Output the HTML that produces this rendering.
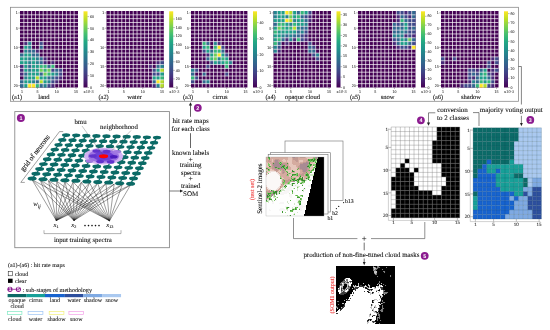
<!DOCTYPE html><html><head><meta charset="utf-8"><style>html,body{margin:0;padding:0;background:#fff;width:550px;height:330px;overflow:hidden}svg{display:block} text{text-rendering:geometricPrecision}</style></head><body>
<svg width="550" height="330" viewBox="0 0 550 330">
<defs><linearGradient id="vir" x1="0" y1="1" x2="0" y2="0"><stop offset="0.0" stop-color="#440154"/><stop offset="0.1" stop-color="#482475"/><stop offset="0.2" stop-color="#414487"/><stop offset="0.3" stop-color="#355f8d"/><stop offset="0.4" stop-color="#2a788e"/><stop offset="0.5" stop-color="#21918c"/><stop offset="0.6" stop-color="#22a884"/><stop offset="0.7" stop-color="#44bf70"/><stop offset="0.8" stop-color="#7ad151"/><stop offset="0.9" stop-color="#bddf26"/><stop offset="1.0" stop-color="#fde725"/></linearGradient></defs>
<rect width="550" height="330" fill="#fff"/>
<rect x="10.5" y="7.3" width="508" height="94" fill="none" stroke="#8a8a8a" stroke-width="0.8"/>
<rect x="20" y="11" width="58" height="76.5" fill="#440154"/>
<rect x="23.87" y="41.6" width="3.92" height="3.88" fill="#482878"/>
<rect x="27.73" y="41.6" width="3.92" height="3.88" fill="#26828e"/>
<rect x="39.33" y="41.6" width="3.92" height="3.88" fill="#3e4989"/>
<rect x="23.87" y="45.43" width="3.92" height="3.88" fill="#1f9e89"/>
<rect x="27.73" y="45.43" width="3.92" height="3.88" fill="#26828e"/>
<rect x="39.33" y="45.43" width="3.92" height="3.88" fill="#31688e"/>
<rect x="23.87" y="49.25" width="3.92" height="3.88" fill="#26828e"/>
<rect x="27.73" y="49.25" width="3.92" height="3.88" fill="#31688e"/>
<rect x="31.6" y="49.25" width="3.92" height="3.88" fill="#31688e"/>
<rect x="35.47" y="49.25" width="3.92" height="3.88" fill="#482878"/>
<rect x="20" y="53.08" width="3.92" height="3.88" fill="#31688e"/>
<rect x="23.87" y="53.08" width="3.92" height="3.88" fill="#1f9e89"/>
<rect x="27.73" y="53.08" width="3.92" height="3.88" fill="#1f9e89"/>
<rect x="31.6" y="53.08" width="3.92" height="3.88" fill="#31688e"/>
<rect x="35.47" y="53.08" width="3.92" height="3.88" fill="#31688e"/>
<rect x="20" y="56.9" width="3.92" height="3.88" fill="#1f9e89"/>
<rect x="23.87" y="56.9" width="3.92" height="3.88" fill="#1f9e89"/>
<rect x="27.73" y="56.9" width="3.92" height="3.88" fill="#26828e"/>
<rect x="31.6" y="56.9" width="3.92" height="3.88" fill="#1f9e89"/>
<rect x="35.47" y="56.9" width="3.92" height="3.88" fill="#26828e"/>
<rect x="39.33" y="56.9" width="3.92" height="3.88" fill="#31688e"/>
<rect x="43.2" y="56.9" width="3.92" height="3.88" fill="#482878"/>
<rect x="20" y="60.73" width="3.92" height="3.88" fill="#1f9e89"/>
<rect x="23.87" y="60.73" width="3.92" height="3.88" fill="#1f9e89"/>
<rect x="27.73" y="60.73" width="3.92" height="3.88" fill="#26828e"/>
<rect x="31.6" y="60.73" width="3.92" height="3.88" fill="#1f9e89"/>
<rect x="35.47" y="60.73" width="3.92" height="3.88" fill="#26828e"/>
<rect x="39.33" y="60.73" width="3.92" height="3.88" fill="#31688e"/>
<rect x="43.2" y="60.73" width="3.92" height="3.88" fill="#482878"/>
<rect x="50.93" y="60.73" width="3.92" height="3.88" fill="#482878"/>
<rect x="20" y="64.55" width="3.92" height="3.88" fill="#482878"/>
<rect x="23.87" y="64.55" width="3.92" height="3.88" fill="#1f9e89"/>
<rect x="27.73" y="64.55" width="3.92" height="3.88" fill="#31688e"/>
<rect x="31.6" y="64.55" width="3.92" height="3.88" fill="#1f9e89"/>
<rect x="35.47" y="64.55" width="3.92" height="3.88" fill="#1f9e89"/>
<rect x="39.33" y="64.55" width="3.92" height="3.88" fill="#35b779"/>
<rect x="43.2" y="64.55" width="3.92" height="3.88" fill="#35b779"/>
<rect x="47.07" y="64.55" width="3.92" height="3.88" fill="#31688e"/>
<rect x="50.93" y="64.55" width="3.92" height="3.88" fill="#35b779"/>
<rect x="20" y="68.38" width="3.92" height="3.88" fill="#482878"/>
<rect x="23.87" y="68.38" width="3.92" height="3.88" fill="#1f9e89"/>
<rect x="27.73" y="68.38" width="3.92" height="3.88" fill="#26828e"/>
<rect x="31.6" y="68.38" width="3.92" height="3.88" fill="#1f9e89"/>
<rect x="35.47" y="68.38" width="3.92" height="3.88" fill="#1f9e89"/>
<rect x="39.33" y="68.38" width="3.92" height="3.88" fill="#6ece58"/>
<rect x="43.2" y="68.38" width="3.92" height="3.88" fill="#35b779"/>
<rect x="47.07" y="68.38" width="3.92" height="3.88" fill="#6ece58"/>
<rect x="50.93" y="68.38" width="3.92" height="3.88" fill="#3e4989"/>
<rect x="54.8" y="68.38" width="3.92" height="3.88" fill="#31688e"/>
<rect x="58.67" y="68.38" width="3.92" height="3.88" fill="#3e4989"/>
<rect x="20" y="72.2" width="3.92" height="3.88" fill="#482878"/>
<rect x="23.87" y="72.2" width="3.92" height="3.88" fill="#31688e"/>
<rect x="27.73" y="72.2" width="3.92" height="3.88" fill="#1f9e89"/>
<rect x="31.6" y="72.2" width="3.92" height="3.88" fill="#1f9e89"/>
<rect x="35.47" y="72.2" width="3.92" height="3.88" fill="#1f9e89"/>
<rect x="39.33" y="72.2" width="3.92" height="3.88" fill="#31688e"/>
<rect x="43.2" y="72.2" width="3.92" height="3.88" fill="#6ece58"/>
<rect x="47.07" y="72.2" width="3.92" height="3.88" fill="#35b779"/>
<rect x="50.93" y="72.2" width="3.92" height="3.88" fill="#1f9e89"/>
<rect x="54.8" y="72.2" width="3.92" height="3.88" fill="#26828e"/>
<rect x="58.67" y="72.2" width="3.92" height="3.88" fill="#3e4989"/>
<rect x="23.87" y="76.03" width="3.92" height="3.88" fill="#26828e"/>
<rect x="27.73" y="76.03" width="3.92" height="3.88" fill="#1f9e89"/>
<rect x="31.6" y="76.03" width="3.92" height="3.88" fill="#1f9e89"/>
<rect x="35.47" y="76.03" width="3.92" height="3.88" fill="#b5de2b"/>
<rect x="39.33" y="76.03" width="3.92" height="3.88" fill="#1f9e89"/>
<rect x="43.2" y="76.03" width="3.92" height="3.88" fill="#1f9e89"/>
<rect x="47.07" y="76.03" width="3.92" height="3.88" fill="#31688e"/>
<rect x="50.93" y="76.03" width="3.92" height="3.88" fill="#31688e"/>
<rect x="54.8" y="76.03" width="3.92" height="3.88" fill="#3e4989"/>
<rect x="58.67" y="76.03" width="3.92" height="3.88" fill="#482878"/>
<rect x="20" y="79.85" width="3.92" height="3.88" fill="#31688e"/>
<rect x="23.87" y="79.85" width="3.92" height="3.88" fill="#1f9e89"/>
<rect x="27.73" y="79.85" width="3.92" height="3.88" fill="#1f9e89"/>
<rect x="31.6" y="79.85" width="3.92" height="3.88" fill="#26828e"/>
<rect x="35.47" y="79.85" width="3.92" height="3.88" fill="#31688e"/>
<rect x="39.33" y="79.85" width="3.92" height="3.88" fill="#b5de2b"/>
<rect x="43.2" y="79.85" width="3.92" height="3.88" fill="#1f9e89"/>
<rect x="47.07" y="79.85" width="3.92" height="3.88" fill="#26828e"/>
<rect x="50.93" y="79.85" width="3.92" height="3.88" fill="#3e4989"/>
<rect x="54.8" y="79.85" width="3.92" height="3.88" fill="#482878"/>
<rect x="20" y="83.67" width="3.92" height="3.88" fill="#31688e"/>
<rect x="23.87" y="83.67" width="3.92" height="3.88" fill="#1f9e89"/>
<rect x="27.73" y="83.67" width="3.92" height="3.88" fill="#fde725"/>
<rect x="31.6" y="83.67" width="3.92" height="3.88" fill="#fde725"/>
<rect x="35.47" y="83.67" width="3.92" height="3.88" fill="#35b779"/>
<rect x="39.33" y="83.67" width="3.92" height="3.88" fill="#31688e"/>
<rect x="43.2" y="83.67" width="3.92" height="3.88" fill="#26828e"/>
<rect x="47.07" y="83.67" width="3.92" height="3.88" fill="#3e4989"/>
<rect x="50.93" y="83.67" width="3.92" height="3.88" fill="#482878"/>
<path d="M23.87 11V87.5M27.73 11V87.5M31.6 11V87.5M35.47 11V87.5M39.33 11V87.5M43.2 11V87.5M47.07 11V87.5M50.93 11V87.5M54.8 11V87.5M58.67 11V87.5M62.53 11V87.5M66.4 11V87.5M70.27 11V87.5M74.13 11V87.5M20 14.82H78M20 18.65H78M20 22.48H78M20 26.3H78M20 30.12H78M20 33.95H78M20 37.78H78M20 41.6H78M20 45.43H78M20 49.25H78M20 53.08H78M20 56.9H78M20 60.73H78M20 64.55H78M20 68.38H78M20 72.2H78M20 76.03H78M20 79.85H78M20 83.67H78" stroke="#fff" stroke-opacity="0.7" stroke-width="1" fill="none"/>
<path d="M18.2 12.91H20" stroke="#444" stroke-width="0.4"/>
<text x="17.7" y="14.31" font-size="4.0" font-family="'Liberation Serif', 'DejaVu Serif', serif" text-anchor="end" fill="#444" stroke="#444" stroke-width="0.09" >1</text>
<path d="M18.2 28.21H20" stroke="#444" stroke-width="0.4"/>
<text x="17.7" y="29.61" font-size="4.0" font-family="'Liberation Serif', 'DejaVu Serif', serif" text-anchor="end" fill="#444" stroke="#444" stroke-width="0.09" >5</text>
<path d="M18.2 47.34H20" stroke="#444" stroke-width="0.4"/>
<text x="17.7" y="48.74" font-size="4.0" font-family="'Liberation Serif', 'DejaVu Serif', serif" text-anchor="end" fill="#444" stroke="#444" stroke-width="0.09" >10</text>
<path d="M18.2 66.46H20" stroke="#444" stroke-width="0.4"/>
<text x="17.7" y="67.86" font-size="4.0" font-family="'Liberation Serif', 'DejaVu Serif', serif" text-anchor="end" fill="#444" stroke="#444" stroke-width="0.09" >15</text>
<path d="M18.2 85.59H20" stroke="#444" stroke-width="0.4"/>
<text x="17.7" y="86.99" font-size="4.0" font-family="'Liberation Serif', 'DejaVu Serif', serif" text-anchor="end" fill="#444" stroke="#444" stroke-width="0.09" >20</text>
<path d="M21.93 87.5V89" stroke="#444" stroke-width="0.4"/>
<text x="21.93" y="92.9" font-size="4.0" font-family="'Liberation Serif', 'DejaVu Serif', serif" text-anchor="middle" fill="#444" stroke="#444" stroke-width="0.09" >1</text>
<path d="M37.4 87.5V89" stroke="#444" stroke-width="0.4"/>
<text x="37.4" y="92.9" font-size="4.0" font-family="'Liberation Serif', 'DejaVu Serif', serif" text-anchor="middle" fill="#444" stroke="#444" stroke-width="0.09" >5</text>
<path d="M56.73 87.5V89" stroke="#444" stroke-width="0.4"/>
<text x="56.73" y="92.9" font-size="4.0" font-family="'Liberation Serif', 'DejaVu Serif', serif" text-anchor="middle" fill="#444" stroke="#444" stroke-width="0.09" >10</text>
<path d="M76.07 87.5V89" stroke="#444" stroke-width="0.4"/>
<text x="76.07" y="92.9" font-size="4.0" font-family="'Liberation Serif', 'DejaVu Serif', serif" text-anchor="middle" fill="#444" stroke="#444" stroke-width="0.09" >15</text>
<rect x="83.5" y="11.3" width="4" height="76.2" fill="url(#vir)"/>
<path d="M87.5 87.5H89.1" stroke="#444" stroke-width="0.4"/>
<text x="90.1" y="88.7" font-size="4.0" font-family="'Liberation Serif', 'DejaVu Serif', serif" text-anchor="start" fill="#444" stroke="#444" stroke-width="0.09" >0</text>
<path d="M87.5 75.69H89.1" stroke="#444" stroke-width="0.4"/>
<text x="90.1" y="76.89" font-size="4.0" font-family="'Liberation Serif', 'DejaVu Serif', serif" text-anchor="start" fill="#444" stroke="#444" stroke-width="0.09" >10</text>
<path d="M87.5 63.87H89.1" stroke="#444" stroke-width="0.4"/>
<text x="90.1" y="65.07" font-size="4.0" font-family="'Liberation Serif', 'DejaVu Serif', serif" text-anchor="start" fill="#444" stroke="#444" stroke-width="0.09" >20</text>
<path d="M87.5 52.06H89.1" stroke="#444" stroke-width="0.4"/>
<text x="90.1" y="53.26" font-size="4.0" font-family="'Liberation Serif', 'DejaVu Serif', serif" text-anchor="start" fill="#444" stroke="#444" stroke-width="0.09" >30</text>
<path d="M87.5 40.24H89.1" stroke="#444" stroke-width="0.4"/>
<text x="90.1" y="41.44" font-size="4.0" font-family="'Liberation Serif', 'DejaVu Serif', serif" text-anchor="start" fill="#444" stroke="#444" stroke-width="0.09" >40</text>
<path d="M87.5 28.43H89.1" stroke="#444" stroke-width="0.4"/>
<text x="90.1" y="29.63" font-size="4.0" font-family="'Liberation Serif', 'DejaVu Serif', serif" text-anchor="start" fill="#444" stroke="#444" stroke-width="0.09" >50</text>
<path d="M87.5 16.62H89.1" stroke="#444" stroke-width="0.4"/>
<text x="90.1" y="17.82" font-size="4.0" font-family="'Liberation Serif', 'DejaVu Serif', serif" text-anchor="start" fill="#444" stroke="#444" stroke-width="0.09" >60</text>
<text x="83.6" y="93.4" font-size="4.3" font-family="'Liberation Serif', 'DejaVu Serif', serif" text-anchor="start" fill="#555" stroke="#555" stroke-width="0.09" >x10<tspan font-size="2.6" dy="-1.3">−</tspan><tspan dy="1.3">3</tspan></text>
<text x="12" y="99.2" font-size="6.3" font-family="'Liberation Serif', 'DejaVu Serif', serif" text-anchor="start" fill="#111" stroke="#111" stroke-width="0.09" >(a1)</text>
<text x="44" y="98.9" font-size="6.6" font-family="'Liberation Serif', 'DejaVu Serif', serif" text-anchor="middle" fill="#111" stroke="#111" stroke-width="0.09" >land</text>
<rect x="106.5" y="11" width="57.3" height="76.5" fill="#440154"/>
<rect x="156.16" y="60.73" width="3.87" height="3.88" fill="#482878"/>
<rect x="159.98" y="60.73" width="3.87" height="3.88" fill="#3e4989"/>
<rect x="148.52" y="64.55" width="3.87" height="3.88" fill="#482878"/>
<rect x="156.16" y="64.55" width="3.87" height="3.88" fill="#31688e"/>
<rect x="159.98" y="64.55" width="3.87" height="3.88" fill="#26828e"/>
<rect x="152.34" y="68.38" width="3.87" height="3.88" fill="#3e4989"/>
<rect x="156.16" y="68.38" width="3.87" height="3.88" fill="#1f9e89"/>
<rect x="159.98" y="68.38" width="3.87" height="3.88" fill="#b5de2b"/>
<rect x="152.34" y="72.2" width="3.87" height="3.88" fill="#3e4989"/>
<rect x="156.16" y="72.2" width="3.87" height="3.88" fill="#3e4989"/>
<rect x="159.98" y="72.2" width="3.87" height="3.88" fill="#1f9e89"/>
<rect x="152.34" y="76.03" width="3.87" height="3.88" fill="#1f9e89"/>
<rect x="156.16" y="76.03" width="3.87" height="3.88" fill="#1f9e89"/>
<rect x="159.98" y="76.03" width="3.87" height="3.88" fill="#35b779"/>
<rect x="152.34" y="79.85" width="3.87" height="3.88" fill="#31688e"/>
<rect x="156.16" y="79.85" width="3.87" height="3.88" fill="#fde725"/>
<rect x="159.98" y="79.85" width="3.87" height="3.88" fill="#b5de2b"/>
<rect x="152.34" y="83.67" width="3.87" height="3.88" fill="#482878"/>
<rect x="156.16" y="83.67" width="3.87" height="3.88" fill="#26828e"/>
<rect x="159.98" y="83.67" width="3.87" height="3.88" fill="#b5de2b"/>
<path d="M110.32 11V87.5M114.14 11V87.5M117.96 11V87.5M121.78 11V87.5M125.6 11V87.5M129.42 11V87.5M133.24 11V87.5M137.06 11V87.5M140.88 11V87.5M144.7 11V87.5M148.52 11V87.5M152.34 11V87.5M156.16 11V87.5M159.98 11V87.5M106.5 14.82H163.8M106.5 18.65H163.8M106.5 22.48H163.8M106.5 26.3H163.8M106.5 30.12H163.8M106.5 33.95H163.8M106.5 37.78H163.8M106.5 41.6H163.8M106.5 45.43H163.8M106.5 49.25H163.8M106.5 53.08H163.8M106.5 56.9H163.8M106.5 60.73H163.8M106.5 64.55H163.8M106.5 68.38H163.8M106.5 72.2H163.8M106.5 76.03H163.8M106.5 79.85H163.8M106.5 83.67H163.8" stroke="#fff" stroke-opacity="0.7" stroke-width="1" fill="none"/>
<path d="M104.7 12.91H106.5" stroke="#444" stroke-width="0.4"/>
<text x="104.2" y="14.31" font-size="4.0" font-family="'Liberation Serif', 'DejaVu Serif', serif" text-anchor="end" fill="#444" stroke="#444" stroke-width="0.09" >1</text>
<path d="M104.7 28.21H106.5" stroke="#444" stroke-width="0.4"/>
<text x="104.2" y="29.61" font-size="4.0" font-family="'Liberation Serif', 'DejaVu Serif', serif" text-anchor="end" fill="#444" stroke="#444" stroke-width="0.09" >5</text>
<path d="M104.7 47.34H106.5" stroke="#444" stroke-width="0.4"/>
<text x="104.2" y="48.74" font-size="4.0" font-family="'Liberation Serif', 'DejaVu Serif', serif" text-anchor="end" fill="#444" stroke="#444" stroke-width="0.09" >10</text>
<path d="M104.7 66.46H106.5" stroke="#444" stroke-width="0.4"/>
<text x="104.2" y="67.86" font-size="4.0" font-family="'Liberation Serif', 'DejaVu Serif', serif" text-anchor="end" fill="#444" stroke="#444" stroke-width="0.09" >15</text>
<path d="M104.7 85.59H106.5" stroke="#444" stroke-width="0.4"/>
<text x="104.2" y="86.99" font-size="4.0" font-family="'Liberation Serif', 'DejaVu Serif', serif" text-anchor="end" fill="#444" stroke="#444" stroke-width="0.09" >20</text>
<path d="M108.41 87.5V89" stroke="#444" stroke-width="0.4"/>
<text x="108.41" y="92.9" font-size="4.0" font-family="'Liberation Serif', 'DejaVu Serif', serif" text-anchor="middle" fill="#444" stroke="#444" stroke-width="0.09" >1</text>
<path d="M123.69 87.5V89" stroke="#444" stroke-width="0.4"/>
<text x="123.69" y="92.9" font-size="4.0" font-family="'Liberation Serif', 'DejaVu Serif', serif" text-anchor="middle" fill="#444" stroke="#444" stroke-width="0.09" >5</text>
<path d="M142.79 87.5V89" stroke="#444" stroke-width="0.4"/>
<text x="142.79" y="92.9" font-size="4.0" font-family="'Liberation Serif', 'DejaVu Serif', serif" text-anchor="middle" fill="#444" stroke="#444" stroke-width="0.09" >10</text>
<path d="M161.89 87.5V89" stroke="#444" stroke-width="0.4"/>
<text x="161.89" y="92.9" font-size="4.0" font-family="'Liberation Serif', 'DejaVu Serif', serif" text-anchor="middle" fill="#444" stroke="#444" stroke-width="0.09" >15</text>
<rect x="169.2" y="11.3" width="4" height="76.2" fill="url(#vir)"/>
<path d="M173.2 87.5H174.8" stroke="#444" stroke-width="0.4"/>
<text x="175.8" y="88.7" font-size="4.0" font-family="'Liberation Serif', 'DejaVu Serif', serif" text-anchor="start" fill="#444" stroke="#444" stroke-width="0.09" >0</text>
<path d="M173.2 78.94H174.8" stroke="#444" stroke-width="0.4"/>
<text x="175.8" y="80.14" font-size="4.0" font-family="'Liberation Serif', 'DejaVu Serif', serif" text-anchor="start" fill="#444" stroke="#444" stroke-width="0.09" >20</text>
<path d="M173.2 70.38H174.8" stroke="#444" stroke-width="0.4"/>
<text x="175.8" y="71.58" font-size="4.0" font-family="'Liberation Serif', 'DejaVu Serif', serif" text-anchor="start" fill="#444" stroke="#444" stroke-width="0.09" >40</text>
<path d="M173.2 61.81H174.8" stroke="#444" stroke-width="0.4"/>
<text x="175.8" y="63.01" font-size="4.0" font-family="'Liberation Serif', 'DejaVu Serif', serif" text-anchor="start" fill="#444" stroke="#444" stroke-width="0.09" >60</text>
<path d="M173.2 53.25H174.8" stroke="#444" stroke-width="0.4"/>
<text x="175.8" y="54.45" font-size="4.0" font-family="'Liberation Serif', 'DejaVu Serif', serif" text-anchor="start" fill="#444" stroke="#444" stroke-width="0.09" >80</text>
<path d="M173.2 44.69H174.8" stroke="#444" stroke-width="0.4"/>
<text x="175.8" y="45.89" font-size="4.0" font-family="'Liberation Serif', 'DejaVu Serif', serif" text-anchor="start" fill="#444" stroke="#444" stroke-width="0.09" >100</text>
<path d="M173.2 36.13H174.8" stroke="#444" stroke-width="0.4"/>
<text x="175.8" y="37.33" font-size="4.0" font-family="'Liberation Serif', 'DejaVu Serif', serif" text-anchor="start" fill="#444" stroke="#444" stroke-width="0.09" >120</text>
<path d="M173.2 27.57H174.8" stroke="#444" stroke-width="0.4"/>
<text x="175.8" y="28.77" font-size="4.0" font-family="'Liberation Serif', 'DejaVu Serif', serif" text-anchor="start" fill="#444" stroke="#444" stroke-width="0.09" >140</text>
<path d="M173.2 19.01H174.8" stroke="#444" stroke-width="0.4"/>
<text x="175.8" y="20.21" font-size="4.0" font-family="'Liberation Serif', 'DejaVu Serif', serif" text-anchor="start" fill="#444" stroke="#444" stroke-width="0.09" >160</text>
<text x="169.3" y="93.4" font-size="4.3" font-family="'Liberation Serif', 'DejaVu Serif', serif" text-anchor="start" fill="#555" stroke="#555" stroke-width="0.09" >x10<tspan font-size="2.6" dy="-1.3">−</tspan><tspan dy="1.3">3</tspan></text>
<text x="98.5" y="99.2" font-size="6.3" font-family="'Liberation Serif', 'DejaVu Serif', serif" text-anchor="start" fill="#111" stroke="#111" stroke-width="0.09" >(a2)</text>
<text x="134.5" y="98.9" font-size="6.6" font-family="'Liberation Serif', 'DejaVu Serif', serif" text-anchor="middle" fill="#111" stroke="#111" stroke-width="0.09" >water</text>
<rect x="191" y="11" width="56.4" height="76.5" fill="#440154"/>
<rect x="202.28" y="41.6" width="3.81" height="3.88" fill="#35b779"/>
<rect x="206.04" y="41.6" width="3.81" height="3.88" fill="#31688e"/>
<rect x="213.56" y="41.6" width="3.81" height="3.88" fill="#26828e"/>
<rect x="217.32" y="41.6" width="3.81" height="3.88" fill="#482878"/>
<rect x="202.28" y="45.43" width="3.81" height="3.88" fill="#1f9e89"/>
<rect x="206.04" y="45.43" width="3.81" height="3.88" fill="#35b779"/>
<rect x="213.56" y="45.43" width="3.81" height="3.88" fill="#35b779"/>
<rect x="217.32" y="45.43" width="3.81" height="3.88" fill="#fde725"/>
<rect x="221.08" y="45.43" width="3.81" height="3.88" fill="#3e4989"/>
<rect x="202.28" y="49.25" width="3.81" height="3.88" fill="#3e4989"/>
<rect x="206.04" y="49.25" width="3.81" height="3.88" fill="#1f9e89"/>
<rect x="209.8" y="49.25" width="3.81" height="3.88" fill="#31688e"/>
<rect x="213.56" y="49.25" width="3.81" height="3.88" fill="#35b779"/>
<rect x="217.32" y="49.25" width="3.81" height="3.88" fill="#35b779"/>
<rect x="221.08" y="49.25" width="3.81" height="3.88" fill="#31688e"/>
<rect x="206.04" y="53.08" width="3.81" height="3.88" fill="#482878"/>
<rect x="209.8" y="53.08" width="3.81" height="3.88" fill="#1f9e89"/>
<rect x="213.56" y="53.08" width="3.81" height="3.88" fill="#6ece58"/>
<rect x="217.32" y="53.08" width="3.81" height="3.88" fill="#fde725"/>
<rect x="221.08" y="53.08" width="3.81" height="3.88" fill="#1f9e89"/>
<rect x="224.84" y="53.08" width="3.81" height="3.88" fill="#3e4989"/>
<rect x="206.04" y="56.9" width="3.81" height="3.88" fill="#31688e"/>
<rect x="209.8" y="56.9" width="3.81" height="3.88" fill="#35b779"/>
<rect x="213.56" y="56.9" width="3.81" height="3.88" fill="#6ece58"/>
<rect x="217.32" y="56.9" width="3.81" height="3.88" fill="#26828e"/>
<rect x="221.08" y="56.9" width="3.81" height="3.88" fill="#35b779"/>
<rect x="224.84" y="56.9" width="3.81" height="3.88" fill="#1f9e89"/>
<rect x="209.8" y="60.73" width="3.81" height="3.88" fill="#3e4989"/>
<rect x="213.56" y="60.73" width="3.81" height="3.88" fill="#1f9e89"/>
<rect x="217.32" y="60.73" width="3.81" height="3.88" fill="#26828e"/>
<rect x="221.08" y="60.73" width="3.81" height="3.88" fill="#1f9e89"/>
<rect x="224.84" y="60.73" width="3.81" height="3.88" fill="#35b779"/>
<rect x="228.6" y="60.73" width="3.81" height="3.88" fill="#26828e"/>
<rect x="206.04" y="64.55" width="3.81" height="3.88" fill="#3e4989"/>
<rect x="224.84" y="64.55" width="3.81" height="3.88" fill="#35b779"/>
<rect x="191" y="68.38" width="3.81" height="3.88" fill="#26828e"/>
<rect x="194.76" y="68.38" width="3.81" height="3.88" fill="#3e4989"/>
<rect x="191" y="72.2" width="3.81" height="3.88" fill="#31688e"/>
<rect x="202.28" y="72.2" width="3.81" height="3.88" fill="#31688e"/>
<rect x="224.84" y="72.2" width="3.81" height="3.88" fill="#3e4989"/>
<rect x="191" y="76.03" width="3.81" height="3.88" fill="#35b779"/>
<rect x="194.76" y="76.03" width="3.81" height="3.88" fill="#3e4989"/>
<rect x="191" y="79.85" width="3.81" height="3.88" fill="#3e4989"/>
<rect x="202.28" y="79.85" width="3.81" height="3.88" fill="#31688e"/>
<rect x="206.04" y="79.85" width="3.81" height="3.88" fill="#26828e"/>
<path d="M194.76 11V87.5M198.52 11V87.5M202.28 11V87.5M206.04 11V87.5M209.8 11V87.5M213.56 11V87.5M217.32 11V87.5M221.08 11V87.5M224.84 11V87.5M228.6 11V87.5M232.36 11V87.5M236.12 11V87.5M239.88 11V87.5M243.64 11V87.5M191 14.82H247.4M191 18.65H247.4M191 22.48H247.4M191 26.3H247.4M191 30.12H247.4M191 33.95H247.4M191 37.78H247.4M191 41.6H247.4M191 45.43H247.4M191 49.25H247.4M191 53.08H247.4M191 56.9H247.4M191 60.73H247.4M191 64.55H247.4M191 68.38H247.4M191 72.2H247.4M191 76.03H247.4M191 79.85H247.4M191 83.67H247.4" stroke="#fff" stroke-opacity="0.7" stroke-width="1" fill="none"/>
<path d="M189.2 12.91H191" stroke="#444" stroke-width="0.4"/>
<text x="188.7" y="14.31" font-size="4.0" font-family="'Liberation Serif', 'DejaVu Serif', serif" text-anchor="end" fill="#444" stroke="#444" stroke-width="0.09" >1</text>
<path d="M189.2 28.21H191" stroke="#444" stroke-width="0.4"/>
<text x="188.7" y="29.61" font-size="4.0" font-family="'Liberation Serif', 'DejaVu Serif', serif" text-anchor="end" fill="#444" stroke="#444" stroke-width="0.09" >5</text>
<path d="M189.2 47.34H191" stroke="#444" stroke-width="0.4"/>
<text x="188.7" y="48.74" font-size="4.0" font-family="'Liberation Serif', 'DejaVu Serif', serif" text-anchor="end" fill="#444" stroke="#444" stroke-width="0.09" >10</text>
<path d="M189.2 66.46H191" stroke="#444" stroke-width="0.4"/>
<text x="188.7" y="67.86" font-size="4.0" font-family="'Liberation Serif', 'DejaVu Serif', serif" text-anchor="end" fill="#444" stroke="#444" stroke-width="0.09" >15</text>
<path d="M189.2 85.59H191" stroke="#444" stroke-width="0.4"/>
<text x="188.7" y="86.99" font-size="4.0" font-family="'Liberation Serif', 'DejaVu Serif', serif" text-anchor="end" fill="#444" stroke="#444" stroke-width="0.09" >20</text>
<path d="M192.88 87.5V89" stroke="#444" stroke-width="0.4"/>
<text x="192.88" y="92.9" font-size="4.0" font-family="'Liberation Serif', 'DejaVu Serif', serif" text-anchor="middle" fill="#444" stroke="#444" stroke-width="0.09" >1</text>
<path d="M207.92 87.5V89" stroke="#444" stroke-width="0.4"/>
<text x="207.92" y="92.9" font-size="4.0" font-family="'Liberation Serif', 'DejaVu Serif', serif" text-anchor="middle" fill="#444" stroke="#444" stroke-width="0.09" >5</text>
<path d="M226.72 87.5V89" stroke="#444" stroke-width="0.4"/>
<text x="226.72" y="92.9" font-size="4.0" font-family="'Liberation Serif', 'DejaVu Serif', serif" text-anchor="middle" fill="#444" stroke="#444" stroke-width="0.09" >10</text>
<path d="M245.52 87.5V89" stroke="#444" stroke-width="0.4"/>
<text x="245.52" y="92.9" font-size="4.0" font-family="'Liberation Serif', 'DejaVu Serif', serif" text-anchor="middle" fill="#444" stroke="#444" stroke-width="0.09" >15</text>
<rect x="253" y="11.3" width="4" height="76.2" fill="url(#vir)"/>
<path d="M257 87.5H258.6" stroke="#444" stroke-width="0.4"/>
<text x="259.6" y="88.7" font-size="4.0" font-family="'Liberation Serif', 'DejaVu Serif', serif" text-anchor="start" fill="#444" stroke="#444" stroke-width="0.09" >0</text>
<path d="M257 71.29H258.6" stroke="#444" stroke-width="0.4"/>
<text x="259.6" y="72.49" font-size="4.0" font-family="'Liberation Serif', 'DejaVu Serif', serif" text-anchor="start" fill="#444" stroke="#444" stroke-width="0.09" >10</text>
<path d="M257 55.07H258.6" stroke="#444" stroke-width="0.4"/>
<text x="259.6" y="56.27" font-size="4.0" font-family="'Liberation Serif', 'DejaVu Serif', serif" text-anchor="start" fill="#444" stroke="#444" stroke-width="0.09" >20</text>
<path d="M257 38.86H258.6" stroke="#444" stroke-width="0.4"/>
<text x="259.6" y="40.06" font-size="4.0" font-family="'Liberation Serif', 'DejaVu Serif', serif" text-anchor="start" fill="#444" stroke="#444" stroke-width="0.09" >30</text>
<path d="M257 22.65H258.6" stroke="#444" stroke-width="0.4"/>
<text x="259.6" y="23.85" font-size="4.0" font-family="'Liberation Serif', 'DejaVu Serif', serif" text-anchor="start" fill="#444" stroke="#444" stroke-width="0.09" >40</text>
<text x="253.1" y="93.4" font-size="4.3" font-family="'Liberation Serif', 'DejaVu Serif', serif" text-anchor="start" fill="#555" stroke="#555" stroke-width="0.09" >x10<tspan font-size="2.6" dy="-1.3">−</tspan><tspan dy="1.3">3</tspan></text>
<text x="183" y="99.2" font-size="6.3" font-family="'Liberation Serif', 'DejaVu Serif', serif" text-anchor="start" fill="#111" stroke="#111" stroke-width="0.09" >(a3)</text>
<text x="220" y="98.9" font-size="6.6" font-family="'Liberation Serif', 'DejaVu Serif', serif" text-anchor="middle" fill="#111" stroke="#111" stroke-width="0.09" >cirrus</text>
<rect x="273.5" y="11" width="57.5" height="76.5" fill="#440154"/>
<rect x="273.5" y="11" width="3.88" height="3.88" fill="#26828e"/>
<rect x="277.33" y="11" width="3.88" height="3.88" fill="#1f9e89"/>
<rect x="281.17" y="11" width="3.88" height="3.88" fill="#1f9e89"/>
<rect x="285" y="11" width="3.88" height="3.88" fill="#fde725"/>
<rect x="288.83" y="11" width="3.88" height="3.88" fill="#b5de2b"/>
<rect x="292.67" y="11" width="3.88" height="3.88" fill="#1f9e89"/>
<rect x="296.5" y="11" width="3.88" height="3.88" fill="#31688e"/>
<rect x="300.33" y="11" width="3.88" height="3.88" fill="#35b779"/>
<rect x="304.17" y="11" width="3.88" height="3.88" fill="#1f9e89"/>
<rect x="308" y="11" width="3.88" height="3.88" fill="#3e4989"/>
<rect x="273.5" y="14.82" width="3.88" height="3.88" fill="#26828e"/>
<rect x="277.33" y="14.82" width="3.88" height="3.88" fill="#1f9e89"/>
<rect x="281.17" y="14.82" width="3.88" height="3.88" fill="#1f9e89"/>
<rect x="285" y="14.82" width="3.88" height="3.88" fill="#26828e"/>
<rect x="288.83" y="14.82" width="3.88" height="3.88" fill="#6ece58"/>
<rect x="292.67" y="14.82" width="3.88" height="3.88" fill="#1f9e89"/>
<rect x="296.5" y="14.82" width="3.88" height="3.88" fill="#35b779"/>
<rect x="300.33" y="14.82" width="3.88" height="3.88" fill="#31688e"/>
<rect x="304.17" y="14.82" width="3.88" height="3.88" fill="#3e4989"/>
<rect x="308" y="14.82" width="3.88" height="3.88" fill="#482878"/>
<rect x="273.5" y="18.65" width="3.88" height="3.88" fill="#1f9e89"/>
<rect x="277.33" y="18.65" width="3.88" height="3.88" fill="#1f9e89"/>
<rect x="281.17" y="18.65" width="3.88" height="3.88" fill="#1f9e89"/>
<rect x="285" y="18.65" width="3.88" height="3.88" fill="#fde725"/>
<rect x="288.83" y="18.65" width="3.88" height="3.88" fill="#b5de2b"/>
<rect x="292.67" y="18.65" width="3.88" height="3.88" fill="#26828e"/>
<rect x="296.5" y="18.65" width="3.88" height="3.88" fill="#1f9e89"/>
<rect x="300.33" y="18.65" width="3.88" height="3.88" fill="#1f9e89"/>
<rect x="304.17" y="18.65" width="3.88" height="3.88" fill="#31688e"/>
<rect x="308" y="18.65" width="3.88" height="3.88" fill="#482878"/>
<rect x="273.5" y="22.48" width="3.88" height="3.88" fill="#31688e"/>
<rect x="277.33" y="22.48" width="3.88" height="3.88" fill="#35b779"/>
<rect x="281.17" y="22.48" width="3.88" height="3.88" fill="#35b779"/>
<rect x="285" y="22.48" width="3.88" height="3.88" fill="#1f9e89"/>
<rect x="288.83" y="22.48" width="3.88" height="3.88" fill="#26828e"/>
<rect x="292.67" y="22.48" width="3.88" height="3.88" fill="#35b779"/>
<rect x="296.5" y="22.48" width="3.88" height="3.88" fill="#1f9e89"/>
<rect x="300.33" y="22.48" width="3.88" height="3.88" fill="#1f9e89"/>
<rect x="304.17" y="22.48" width="3.88" height="3.88" fill="#26828e"/>
<rect x="273.5" y="26.3" width="3.88" height="3.88" fill="#1f9e89"/>
<rect x="277.33" y="26.3" width="3.88" height="3.88" fill="#6ece58"/>
<rect x="281.17" y="26.3" width="3.88" height="3.88" fill="#35b779"/>
<rect x="285" y="26.3" width="3.88" height="3.88" fill="#1f9e89"/>
<rect x="288.83" y="26.3" width="3.88" height="3.88" fill="#35b779"/>
<rect x="292.67" y="26.3" width="3.88" height="3.88" fill="#b5de2b"/>
<rect x="296.5" y="26.3" width="3.88" height="3.88" fill="#26828e"/>
<rect x="300.33" y="26.3" width="3.88" height="3.88" fill="#31688e"/>
<rect x="304.17" y="26.3" width="3.88" height="3.88" fill="#31688e"/>
<rect x="273.5" y="30.12" width="3.88" height="3.88" fill="#35b779"/>
<rect x="277.33" y="30.12" width="3.88" height="3.88" fill="#1f9e89"/>
<rect x="281.17" y="30.12" width="3.88" height="3.88" fill="#1f9e89"/>
<rect x="285" y="30.12" width="3.88" height="3.88" fill="#1f9e89"/>
<rect x="288.83" y="30.12" width="3.88" height="3.88" fill="#1f9e89"/>
<rect x="292.67" y="30.12" width="3.88" height="3.88" fill="#1f9e89"/>
<rect x="296.5" y="30.12" width="3.88" height="3.88" fill="#31688e"/>
<rect x="300.33" y="30.12" width="3.88" height="3.88" fill="#26828e"/>
<rect x="304.17" y="30.12" width="3.88" height="3.88" fill="#3e4989"/>
<rect x="273.5" y="33.95" width="3.88" height="3.88" fill="#1f9e89"/>
<rect x="277.33" y="33.95" width="3.88" height="3.88" fill="#1f9e89"/>
<rect x="281.17" y="33.95" width="3.88" height="3.88" fill="#26828e"/>
<rect x="285" y="33.95" width="3.88" height="3.88" fill="#31688e"/>
<rect x="288.83" y="33.95" width="3.88" height="3.88" fill="#26828e"/>
<rect x="292.67" y="33.95" width="3.88" height="3.88" fill="#31688e"/>
<rect x="296.5" y="33.95" width="3.88" height="3.88" fill="#31688e"/>
<rect x="300.33" y="33.95" width="3.88" height="3.88" fill="#3e4989"/>
<rect x="304.17" y="33.95" width="3.88" height="3.88" fill="#482878"/>
<rect x="273.5" y="37.78" width="3.88" height="3.88" fill="#1f9e89"/>
<rect x="277.33" y="37.78" width="3.88" height="3.88" fill="#35b779"/>
<rect x="281.17" y="37.78" width="3.88" height="3.88" fill="#31688e"/>
<rect x="285" y="37.78" width="3.88" height="3.88" fill="#482878"/>
<rect x="288.83" y="37.78" width="3.88" height="3.88" fill="#26828e"/>
<rect x="292.67" y="37.78" width="3.88" height="3.88" fill="#482878"/>
<rect x="296.5" y="37.78" width="3.88" height="3.88" fill="#35b779"/>
<rect x="300.33" y="37.78" width="3.88" height="3.88" fill="#3e4989"/>
<rect x="304.17" y="37.78" width="3.88" height="3.88" fill="#482878"/>
<rect x="273.5" y="41.6" width="3.88" height="3.88" fill="#35b779"/>
<rect x="277.33" y="41.6" width="3.88" height="3.88" fill="#31688e"/>
<rect x="285" y="41.6" width="3.88" height="3.88" fill="#482878"/>
<rect x="308" y="41.6" width="3.88" height="3.88" fill="#3e4989"/>
<rect x="273.5" y="45.43" width="3.88" height="3.88" fill="#26828e"/>
<rect x="277.33" y="45.43" width="3.88" height="3.88" fill="#3e4989"/>
<rect x="308" y="45.43" width="3.88" height="3.88" fill="#31688e"/>
<rect x="311.83" y="45.43" width="3.88" height="3.88" fill="#3e4989"/>
<rect x="273.5" y="49.25" width="3.88" height="3.88" fill="#26828e"/>
<rect x="277.33" y="49.25" width="3.88" height="3.88" fill="#482878"/>
<rect x="308" y="49.25" width="3.88" height="3.88" fill="#31688e"/>
<rect x="311.83" y="49.25" width="3.88" height="3.88" fill="#31688e"/>
<rect x="311.83" y="53.08" width="3.88" height="3.88" fill="#3e4989"/>
<rect x="315.67" y="53.08" width="3.88" height="3.88" fill="#26828e"/>
<rect x="315.67" y="56.9" width="3.88" height="3.88" fill="#3e4989"/>
<path d="M277.33 11V87.5M281.17 11V87.5M285 11V87.5M288.83 11V87.5M292.67 11V87.5M296.5 11V87.5M300.33 11V87.5M304.17 11V87.5M308 11V87.5M311.83 11V87.5M315.67 11V87.5M319.5 11V87.5M323.33 11V87.5M327.17 11V87.5M273.5 14.82H331M273.5 18.65H331M273.5 22.48H331M273.5 26.3H331M273.5 30.12H331M273.5 33.95H331M273.5 37.78H331M273.5 41.6H331M273.5 45.43H331M273.5 49.25H331M273.5 53.08H331M273.5 56.9H331M273.5 60.73H331M273.5 64.55H331M273.5 68.38H331M273.5 72.2H331M273.5 76.03H331M273.5 79.85H331M273.5 83.67H331" stroke="#fff" stroke-opacity="0.7" stroke-width="1" fill="none"/>
<path d="M271.7 12.91H273.5" stroke="#444" stroke-width="0.4"/>
<text x="271.2" y="14.31" font-size="4.0" font-family="'Liberation Serif', 'DejaVu Serif', serif" text-anchor="end" fill="#444" stroke="#444" stroke-width="0.09" >1</text>
<path d="M271.7 28.21H273.5" stroke="#444" stroke-width="0.4"/>
<text x="271.2" y="29.61" font-size="4.0" font-family="'Liberation Serif', 'DejaVu Serif', serif" text-anchor="end" fill="#444" stroke="#444" stroke-width="0.09" >5</text>
<path d="M271.7 47.34H273.5" stroke="#444" stroke-width="0.4"/>
<text x="271.2" y="48.74" font-size="4.0" font-family="'Liberation Serif', 'DejaVu Serif', serif" text-anchor="end" fill="#444" stroke="#444" stroke-width="0.09" >10</text>
<path d="M271.7 66.46H273.5" stroke="#444" stroke-width="0.4"/>
<text x="271.2" y="67.86" font-size="4.0" font-family="'Liberation Serif', 'DejaVu Serif', serif" text-anchor="end" fill="#444" stroke="#444" stroke-width="0.09" >15</text>
<path d="M271.7 85.59H273.5" stroke="#444" stroke-width="0.4"/>
<text x="271.2" y="86.99" font-size="4.0" font-family="'Liberation Serif', 'DejaVu Serif', serif" text-anchor="end" fill="#444" stroke="#444" stroke-width="0.09" >20</text>
<path d="M275.42 87.5V89" stroke="#444" stroke-width="0.4"/>
<text x="275.42" y="92.9" font-size="4.0" font-family="'Liberation Serif', 'DejaVu Serif', serif" text-anchor="middle" fill="#444" stroke="#444" stroke-width="0.09" >1</text>
<path d="M290.75 87.5V89" stroke="#444" stroke-width="0.4"/>
<text x="290.75" y="92.9" font-size="4.0" font-family="'Liberation Serif', 'DejaVu Serif', serif" text-anchor="middle" fill="#444" stroke="#444" stroke-width="0.09" >5</text>
<path d="M309.92 87.5V89" stroke="#444" stroke-width="0.4"/>
<text x="309.92" y="92.9" font-size="4.0" font-family="'Liberation Serif', 'DejaVu Serif', serif" text-anchor="middle" fill="#444" stroke="#444" stroke-width="0.09" >10</text>
<path d="M329.08 87.5V89" stroke="#444" stroke-width="0.4"/>
<text x="329.08" y="92.9" font-size="4.0" font-family="'Liberation Serif', 'DejaVu Serif', serif" text-anchor="middle" fill="#444" stroke="#444" stroke-width="0.09" >15</text>
<rect x="336.5" y="11.3" width="4" height="76.2" fill="url(#vir)"/>
<path d="M340.5 87.5H342.1" stroke="#444" stroke-width="0.4"/>
<text x="343.1" y="88.7" font-size="4.0" font-family="'Liberation Serif', 'DejaVu Serif', serif" text-anchor="start" fill="#444" stroke="#444" stroke-width="0.09" >0</text>
<path d="M340.5 77.09H342.1" stroke="#444" stroke-width="0.4"/>
<text x="343.1" y="78.29" font-size="4.0" font-family="'Liberation Serif', 'DejaVu Serif', serif" text-anchor="start" fill="#444" stroke="#444" stroke-width="0.09" >5</text>
<path d="M340.5 66.68H342.1" stroke="#444" stroke-width="0.4"/>
<text x="343.1" y="67.88" font-size="4.0" font-family="'Liberation Serif', 'DejaVu Serif', serif" text-anchor="start" fill="#444" stroke="#444" stroke-width="0.09" >10</text>
<path d="M340.5 56.27H342.1" stroke="#444" stroke-width="0.4"/>
<text x="343.1" y="57.47" font-size="4.0" font-family="'Liberation Serif', 'DejaVu Serif', serif" text-anchor="start" fill="#444" stroke="#444" stroke-width="0.09" >15</text>
<path d="M340.5 45.86H342.1" stroke="#444" stroke-width="0.4"/>
<text x="343.1" y="47.06" font-size="4.0" font-family="'Liberation Serif', 'DejaVu Serif', serif" text-anchor="start" fill="#444" stroke="#444" stroke-width="0.09" >20</text>
<path d="M340.5 35.45H342.1" stroke="#444" stroke-width="0.4"/>
<text x="343.1" y="36.65" font-size="4.0" font-family="'Liberation Serif', 'DejaVu Serif', serif" text-anchor="start" fill="#444" stroke="#444" stroke-width="0.09" >25</text>
<path d="M340.5 25.04H342.1" stroke="#444" stroke-width="0.4"/>
<text x="343.1" y="26.24" font-size="4.0" font-family="'Liberation Serif', 'DejaVu Serif', serif" text-anchor="start" fill="#444" stroke="#444" stroke-width="0.09" >30</text>
<path d="M340.5 14.63H342.1" stroke="#444" stroke-width="0.4"/>
<text x="343.1" y="15.83" font-size="4.0" font-family="'Liberation Serif', 'DejaVu Serif', serif" text-anchor="start" fill="#444" stroke="#444" stroke-width="0.09" >35</text>
<text x="336.6" y="93.4" font-size="4.3" font-family="'Liberation Serif', 'DejaVu Serif', serif" text-anchor="start" fill="#555" stroke="#555" stroke-width="0.09" >x10<tspan font-size="2.6" dy="-1.3">−</tspan><tspan dy="1.3">3</tspan></text>
<text x="265.5" y="99.2" font-size="6.3" font-family="'Liberation Serif', 'DejaVu Serif', serif" text-anchor="start" fill="#111" stroke="#111" stroke-width="0.09" >(a4)</text>
<text x="302.5" y="98.9" font-size="6.6" font-family="'Liberation Serif', 'DejaVu Serif', serif" text-anchor="middle" fill="#111" stroke="#111" stroke-width="0.09" >opaque cloud</text>
<rect x="358" y="11" width="57.5" height="76.5" fill="#440154"/>
<rect x="396.33" y="11" width="3.88" height="3.88" fill="#3e4989"/>
<rect x="400.17" y="11" width="3.88" height="3.88" fill="#3e4989"/>
<rect x="404" y="11" width="3.88" height="3.88" fill="#482878"/>
<rect x="407.83" y="11" width="3.88" height="3.88" fill="#3e4989"/>
<rect x="411.67" y="11" width="3.88" height="3.88" fill="#31688e"/>
<rect x="396.33" y="14.82" width="3.88" height="3.88" fill="#482878"/>
<rect x="400.17" y="14.82" width="3.88" height="3.88" fill="#31688e"/>
<rect x="404" y="14.82" width="3.88" height="3.88" fill="#3e4989"/>
<rect x="407.83" y="14.82" width="3.88" height="3.88" fill="#482878"/>
<rect x="411.67" y="14.82" width="3.88" height="3.88" fill="#31688e"/>
<rect x="396.33" y="18.65" width="3.88" height="3.88" fill="#482878"/>
<rect x="400.17" y="18.65" width="3.88" height="3.88" fill="#35b779"/>
<rect x="404" y="18.65" width="3.88" height="3.88" fill="#31688e"/>
<rect x="407.83" y="18.65" width="3.88" height="3.88" fill="#3e4989"/>
<rect x="411.67" y="18.65" width="3.88" height="3.88" fill="#3e4989"/>
<rect x="392.5" y="22.48" width="3.88" height="3.88" fill="#31688e"/>
<rect x="396.33" y="22.48" width="3.88" height="3.88" fill="#3e4989"/>
<rect x="400.17" y="22.48" width="3.88" height="3.88" fill="#31688e"/>
<rect x="404" y="22.48" width="3.88" height="3.88" fill="#1f9e89"/>
<rect x="407.83" y="22.48" width="3.88" height="3.88" fill="#3e4989"/>
<rect x="411.67" y="22.48" width="3.88" height="3.88" fill="#3e4989"/>
<rect x="392.5" y="26.3" width="3.88" height="3.88" fill="#31688e"/>
<rect x="396.33" y="26.3" width="3.88" height="3.88" fill="#31688e"/>
<rect x="400.17" y="26.3" width="3.88" height="3.88" fill="#31688e"/>
<rect x="404" y="26.3" width="3.88" height="3.88" fill="#1f9e89"/>
<rect x="407.83" y="26.3" width="3.88" height="3.88" fill="#3e4989"/>
<rect x="411.67" y="26.3" width="3.88" height="3.88" fill="#31688e"/>
<rect x="392.5" y="30.12" width="3.88" height="3.88" fill="#31688e"/>
<rect x="396.33" y="30.12" width="3.88" height="3.88" fill="#31688e"/>
<rect x="400.17" y="30.12" width="3.88" height="3.88" fill="#26828e"/>
<rect x="404" y="30.12" width="3.88" height="3.88" fill="#31688e"/>
<rect x="407.83" y="30.12" width="3.88" height="3.88" fill="#3e4989"/>
<rect x="411.67" y="30.12" width="3.88" height="3.88" fill="#3e4989"/>
<rect x="392.5" y="33.95" width="3.88" height="3.88" fill="#26828e"/>
<rect x="396.33" y="33.95" width="3.88" height="3.88" fill="#26828e"/>
<rect x="400.17" y="33.95" width="3.88" height="3.88" fill="#26828e"/>
<rect x="404" y="33.95" width="3.88" height="3.88" fill="#482878"/>
<rect x="407.83" y="33.95" width="3.88" height="3.88" fill="#3e4989"/>
<rect x="411.67" y="33.95" width="3.88" height="3.88" fill="#482878"/>
<rect x="392.5" y="37.78" width="3.88" height="3.88" fill="#3e4989"/>
<rect x="396.33" y="37.78" width="3.88" height="3.88" fill="#31688e"/>
<rect x="400.17" y="37.78" width="3.88" height="3.88" fill="#1f9e89"/>
<rect x="404" y="37.78" width="3.88" height="3.88" fill="#26828e"/>
<rect x="407.83" y="37.78" width="3.88" height="3.88" fill="#6ece58"/>
<rect x="411.67" y="37.78" width="3.88" height="3.88" fill="#31688e"/>
<rect x="392.5" y="41.6" width="3.88" height="3.88" fill="#482878"/>
<rect x="396.33" y="41.6" width="3.88" height="3.88" fill="#31688e"/>
<rect x="400.17" y="41.6" width="3.88" height="3.88" fill="#1f9e89"/>
<rect x="404" y="41.6" width="3.88" height="3.88" fill="#1f9e89"/>
<rect x="407.83" y="41.6" width="3.88" height="3.88" fill="#31688e"/>
<rect x="411.67" y="41.6" width="3.88" height="3.88" fill="#3e4989"/>
<rect x="396.33" y="45.43" width="3.88" height="3.88" fill="#482878"/>
<rect x="400.17" y="45.43" width="3.88" height="3.88" fill="#3e4989"/>
<rect x="404" y="45.43" width="3.88" height="3.88" fill="#3e4989"/>
<rect x="407.83" y="45.43" width="3.88" height="3.88" fill="#482878"/>
<rect x="411.67" y="45.43" width="3.88" height="3.88" fill="#fde725"/>
<path d="M361.83 11V87.5M365.67 11V87.5M369.5 11V87.5M373.33 11V87.5M377.17 11V87.5M381 11V87.5M384.83 11V87.5M388.67 11V87.5M392.5 11V87.5M396.33 11V87.5M400.17 11V87.5M404 11V87.5M407.83 11V87.5M411.67 11V87.5M358 14.82H415.5M358 18.65H415.5M358 22.48H415.5M358 26.3H415.5M358 30.12H415.5M358 33.95H415.5M358 37.78H415.5M358 41.6H415.5M358 45.43H415.5M358 49.25H415.5M358 53.08H415.5M358 56.9H415.5M358 60.73H415.5M358 64.55H415.5M358 68.38H415.5M358 72.2H415.5M358 76.03H415.5M358 79.85H415.5M358 83.67H415.5" stroke="#fff" stroke-opacity="0.7" stroke-width="1" fill="none"/>
<path d="M356.2 12.91H358" stroke="#444" stroke-width="0.4"/>
<text x="355.7" y="14.31" font-size="4.0" font-family="'Liberation Serif', 'DejaVu Serif', serif" text-anchor="end" fill="#444" stroke="#444" stroke-width="0.09" >1</text>
<path d="M356.2 28.21H358" stroke="#444" stroke-width="0.4"/>
<text x="355.7" y="29.61" font-size="4.0" font-family="'Liberation Serif', 'DejaVu Serif', serif" text-anchor="end" fill="#444" stroke="#444" stroke-width="0.09" >5</text>
<path d="M356.2 47.34H358" stroke="#444" stroke-width="0.4"/>
<text x="355.7" y="48.74" font-size="4.0" font-family="'Liberation Serif', 'DejaVu Serif', serif" text-anchor="end" fill="#444" stroke="#444" stroke-width="0.09" >10</text>
<path d="M356.2 66.46H358" stroke="#444" stroke-width="0.4"/>
<text x="355.7" y="67.86" font-size="4.0" font-family="'Liberation Serif', 'DejaVu Serif', serif" text-anchor="end" fill="#444" stroke="#444" stroke-width="0.09" >15</text>
<path d="M356.2 85.59H358" stroke="#444" stroke-width="0.4"/>
<text x="355.7" y="86.99" font-size="4.0" font-family="'Liberation Serif', 'DejaVu Serif', serif" text-anchor="end" fill="#444" stroke="#444" stroke-width="0.09" >20</text>
<path d="M359.92 87.5V89" stroke="#444" stroke-width="0.4"/>
<text x="359.92" y="92.9" font-size="4.0" font-family="'Liberation Serif', 'DejaVu Serif', serif" text-anchor="middle" fill="#444" stroke="#444" stroke-width="0.09" >1</text>
<path d="M375.25 87.5V89" stroke="#444" stroke-width="0.4"/>
<text x="375.25" y="92.9" font-size="4.0" font-family="'Liberation Serif', 'DejaVu Serif', serif" text-anchor="middle" fill="#444" stroke="#444" stroke-width="0.09" >5</text>
<path d="M394.42 87.5V89" stroke="#444" stroke-width="0.4"/>
<text x="394.42" y="92.9" font-size="4.0" font-family="'Liberation Serif', 'DejaVu Serif', serif" text-anchor="middle" fill="#444" stroke="#444" stroke-width="0.09" >10</text>
<path d="M413.58 87.5V89" stroke="#444" stroke-width="0.4"/>
<text x="413.58" y="92.9" font-size="4.0" font-family="'Liberation Serif', 'DejaVu Serif', serif" text-anchor="middle" fill="#444" stroke="#444" stroke-width="0.09" >15</text>
<rect x="421" y="11.3" width="4" height="76.2" fill="url(#vir)"/>
<path d="M425 87.5H426.6" stroke="#444" stroke-width="0.4"/>
<text x="427.6" y="88.7" font-size="4.0" font-family="'Liberation Serif', 'DejaVu Serif', serif" text-anchor="start" fill="#444" stroke="#444" stroke-width="0.09" >0</text>
<path d="M425 78.6H426.6" stroke="#444" stroke-width="0.4"/>
<text x="427.6" y="79.8" font-size="4.0" font-family="'Liberation Serif', 'DejaVu Serif', serif" text-anchor="start" fill="#444" stroke="#444" stroke-width="0.09" >10</text>
<path d="M425 69.7H426.6" stroke="#444" stroke-width="0.4"/>
<text x="427.6" y="70.9" font-size="4.0" font-family="'Liberation Serif', 'DejaVu Serif', serif" text-anchor="start" fill="#444" stroke="#444" stroke-width="0.09" >20</text>
<path d="M425 60.79H426.6" stroke="#444" stroke-width="0.4"/>
<text x="427.6" y="61.99" font-size="4.0" font-family="'Liberation Serif', 'DejaVu Serif', serif" text-anchor="start" fill="#444" stroke="#444" stroke-width="0.09" >30</text>
<path d="M425 51.89H426.6" stroke="#444" stroke-width="0.4"/>
<text x="427.6" y="53.09" font-size="4.0" font-family="'Liberation Serif', 'DejaVu Serif', serif" text-anchor="start" fill="#444" stroke="#444" stroke-width="0.09" >40</text>
<path d="M425 42.99H426.6" stroke="#444" stroke-width="0.4"/>
<text x="427.6" y="44.19" font-size="4.0" font-family="'Liberation Serif', 'DejaVu Serif', serif" text-anchor="start" fill="#444" stroke="#444" stroke-width="0.09" >50</text>
<path d="M425 34.09H426.6" stroke="#444" stroke-width="0.4"/>
<text x="427.6" y="35.29" font-size="4.0" font-family="'Liberation Serif', 'DejaVu Serif', serif" text-anchor="start" fill="#444" stroke="#444" stroke-width="0.09" >60</text>
<path d="M425 25.19H426.6" stroke="#444" stroke-width="0.4"/>
<text x="427.6" y="26.39" font-size="4.0" font-family="'Liberation Serif', 'DejaVu Serif', serif" text-anchor="start" fill="#444" stroke="#444" stroke-width="0.09" >70</text>
<path d="M425 16.29H426.6" stroke="#444" stroke-width="0.4"/>
<text x="427.6" y="17.49" font-size="4.0" font-family="'Liberation Serif', 'DejaVu Serif', serif" text-anchor="start" fill="#444" stroke="#444" stroke-width="0.09" >80</text>
<text x="421.1" y="93.4" font-size="4.3" font-family="'Liberation Serif', 'DejaVu Serif', serif" text-anchor="start" fill="#555" stroke="#555" stroke-width="0.09" >x10<tspan font-size="2.6" dy="-1.3">−</tspan><tspan dy="1.3">3</tspan></text>
<text x="350" y="99.2" font-size="6.3" font-family="'Liberation Serif', 'DejaVu Serif', serif" text-anchor="start" fill="#111" stroke="#111" stroke-width="0.09" >(a5)</text>
<text x="387.6" y="98.9" font-size="6.6" font-family="'Liberation Serif', 'DejaVu Serif', serif" text-anchor="middle" fill="#111" stroke="#111" stroke-width="0.09" >snow</text>
<rect x="441" y="11" width="57.5" height="76.5" fill="#440154"/>
<rect x="441" y="56.9" width="3.88" height="3.88" fill="#3e4989"/>
<rect x="452.5" y="56.9" width="3.88" height="3.88" fill="#3e4989"/>
<rect x="490.83" y="56.9" width="3.88" height="3.88" fill="#482878"/>
<rect x="494.67" y="56.9" width="3.88" height="3.88" fill="#3e4989"/>
<rect x="441" y="60.73" width="3.88" height="3.88" fill="#482878"/>
<rect x="487" y="60.73" width="3.88" height="3.88" fill="#3e4989"/>
<rect x="494.67" y="60.73" width="3.88" height="3.88" fill="#3e4989"/>
<rect x="487" y="64.55" width="3.88" height="3.88" fill="#3e4989"/>
<rect x="467.83" y="68.38" width="3.88" height="3.88" fill="#3e4989"/>
<rect x="471.67" y="68.38" width="3.88" height="3.88" fill="#3e4989"/>
<rect x="475.5" y="68.38" width="3.88" height="3.88" fill="#482878"/>
<rect x="479.33" y="68.38" width="3.88" height="3.88" fill="#31688e"/>
<rect x="483.17" y="68.38" width="3.88" height="3.88" fill="#1f9e89"/>
<rect x="490.83" y="68.38" width="3.88" height="3.88" fill="#482878"/>
<rect x="494.67" y="68.38" width="3.88" height="3.88" fill="#3e4989"/>
<rect x="467.83" y="72.2" width="3.88" height="3.88" fill="#3e4989"/>
<rect x="471.67" y="72.2" width="3.88" height="3.88" fill="#31688e"/>
<rect x="475.5" y="72.2" width="3.88" height="3.88" fill="#3e4989"/>
<rect x="479.33" y="72.2" width="3.88" height="3.88" fill="#1f9e89"/>
<rect x="483.17" y="72.2" width="3.88" height="3.88" fill="#35b779"/>
<rect x="487" y="72.2" width="3.88" height="3.88" fill="#3e4989"/>
<rect x="490.83" y="72.2" width="3.88" height="3.88" fill="#482878"/>
<rect x="467.83" y="76.03" width="3.88" height="3.88" fill="#3e4989"/>
<rect x="471.67" y="76.03" width="3.88" height="3.88" fill="#482878"/>
<rect x="475.5" y="76.03" width="3.88" height="3.88" fill="#31688e"/>
<rect x="479.33" y="76.03" width="3.88" height="3.88" fill="#1f9e89"/>
<rect x="483.17" y="76.03" width="3.88" height="3.88" fill="#1f9e89"/>
<rect x="487" y="76.03" width="3.88" height="3.88" fill="#31688e"/>
<rect x="490.83" y="76.03" width="3.88" height="3.88" fill="#482878"/>
<rect x="467.83" y="79.85" width="3.88" height="3.88" fill="#482878"/>
<rect x="471.67" y="79.85" width="3.88" height="3.88" fill="#26828e"/>
<rect x="475.5" y="79.85" width="3.88" height="3.88" fill="#31688e"/>
<rect x="479.33" y="79.85" width="3.88" height="3.88" fill="#35b779"/>
<rect x="483.17" y="79.85" width="3.88" height="3.88" fill="#1f9e89"/>
<rect x="487" y="79.85" width="3.88" height="3.88" fill="#35b779"/>
<rect x="490.83" y="79.85" width="3.88" height="3.88" fill="#3e4989"/>
<rect x="460.17" y="83.67" width="3.88" height="3.88" fill="#482878"/>
<rect x="464" y="83.67" width="3.88" height="3.88" fill="#3e4989"/>
<rect x="467.83" y="83.67" width="3.88" height="3.88" fill="#3e4989"/>
<rect x="471.67" y="83.67" width="3.88" height="3.88" fill="#31688e"/>
<rect x="475.5" y="83.67" width="3.88" height="3.88" fill="#35b779"/>
<rect x="479.33" y="83.67" width="3.88" height="3.88" fill="#fde725"/>
<rect x="483.17" y="83.67" width="3.88" height="3.88" fill="#b5de2b"/>
<rect x="487" y="83.67" width="3.88" height="3.88" fill="#3e4989"/>
<rect x="490.83" y="83.67" width="3.88" height="3.88" fill="#482878"/>
<path d="M444.83 11V87.5M448.67 11V87.5M452.5 11V87.5M456.33 11V87.5M460.17 11V87.5M464 11V87.5M467.83 11V87.5M471.67 11V87.5M475.5 11V87.5M479.33 11V87.5M483.17 11V87.5M487 11V87.5M490.83 11V87.5M494.67 11V87.5M441 14.82H498.5M441 18.65H498.5M441 22.48H498.5M441 26.3H498.5M441 30.12H498.5M441 33.95H498.5M441 37.78H498.5M441 41.6H498.5M441 45.43H498.5M441 49.25H498.5M441 53.08H498.5M441 56.9H498.5M441 60.73H498.5M441 64.55H498.5M441 68.38H498.5M441 72.2H498.5M441 76.03H498.5M441 79.85H498.5M441 83.67H498.5" stroke="#fff" stroke-opacity="0.7" stroke-width="1" fill="none"/>
<path d="M439.2 12.91H441" stroke="#444" stroke-width="0.4"/>
<text x="438.7" y="14.31" font-size="4.0" font-family="'Liberation Serif', 'DejaVu Serif', serif" text-anchor="end" fill="#444" stroke="#444" stroke-width="0.09" >1</text>
<path d="M439.2 28.21H441" stroke="#444" stroke-width="0.4"/>
<text x="438.7" y="29.61" font-size="4.0" font-family="'Liberation Serif', 'DejaVu Serif', serif" text-anchor="end" fill="#444" stroke="#444" stroke-width="0.09" >5</text>
<path d="M439.2 47.34H441" stroke="#444" stroke-width="0.4"/>
<text x="438.7" y="48.74" font-size="4.0" font-family="'Liberation Serif', 'DejaVu Serif', serif" text-anchor="end" fill="#444" stroke="#444" stroke-width="0.09" >10</text>
<path d="M439.2 66.46H441" stroke="#444" stroke-width="0.4"/>
<text x="438.7" y="67.86" font-size="4.0" font-family="'Liberation Serif', 'DejaVu Serif', serif" text-anchor="end" fill="#444" stroke="#444" stroke-width="0.09" >15</text>
<path d="M439.2 85.59H441" stroke="#444" stroke-width="0.4"/>
<text x="438.7" y="86.99" font-size="4.0" font-family="'Liberation Serif', 'DejaVu Serif', serif" text-anchor="end" fill="#444" stroke="#444" stroke-width="0.09" >20</text>
<path d="M442.92 87.5V89" stroke="#444" stroke-width="0.4"/>
<text x="442.92" y="92.9" font-size="4.0" font-family="'Liberation Serif', 'DejaVu Serif', serif" text-anchor="middle" fill="#444" stroke="#444" stroke-width="0.09" >1</text>
<path d="M458.25 87.5V89" stroke="#444" stroke-width="0.4"/>
<text x="458.25" y="92.9" font-size="4.0" font-family="'Liberation Serif', 'DejaVu Serif', serif" text-anchor="middle" fill="#444" stroke="#444" stroke-width="0.09" >5</text>
<path d="M477.42 87.5V89" stroke="#444" stroke-width="0.4"/>
<text x="477.42" y="92.9" font-size="4.0" font-family="'Liberation Serif', 'DejaVu Serif', serif" text-anchor="middle" fill="#444" stroke="#444" stroke-width="0.09" >10</text>
<path d="M496.58 87.5V89" stroke="#444" stroke-width="0.4"/>
<text x="496.58" y="92.9" font-size="4.0" font-family="'Liberation Serif', 'DejaVu Serif', serif" text-anchor="middle" fill="#444" stroke="#444" stroke-width="0.09" >15</text>
<rect x="504" y="11.3" width="4" height="76.2" fill="url(#vir)"/>
<path d="M508 87.5H509.6" stroke="#444" stroke-width="0.4"/>
<text x="510.6" y="88.7" font-size="4.0" font-family="'Liberation Serif', 'DejaVu Serif', serif" text-anchor="start" fill="#444" stroke="#444" stroke-width="0.09" >0</text>
<path d="M508 78.26H509.6" stroke="#444" stroke-width="0.4"/>
<text x="510.6" y="79.46" font-size="4.0" font-family="'Liberation Serif', 'DejaVu Serif', serif" text-anchor="start" fill="#444" stroke="#444" stroke-width="0.09" >10</text>
<path d="M508 69.03H509.6" stroke="#444" stroke-width="0.4"/>
<text x="510.6" y="70.23" font-size="4.0" font-family="'Liberation Serif', 'DejaVu Serif', serif" text-anchor="start" fill="#444" stroke="#444" stroke-width="0.09" >20</text>
<path d="M508 59.79H509.6" stroke="#444" stroke-width="0.4"/>
<text x="510.6" y="60.99" font-size="4.0" font-family="'Liberation Serif', 'DejaVu Serif', serif" text-anchor="start" fill="#444" stroke="#444" stroke-width="0.09" >30</text>
<path d="M508 50.55H509.6" stroke="#444" stroke-width="0.4"/>
<text x="510.6" y="51.75" font-size="4.0" font-family="'Liberation Serif', 'DejaVu Serif', serif" text-anchor="start" fill="#444" stroke="#444" stroke-width="0.09" >40</text>
<path d="M508 41.32H509.6" stroke="#444" stroke-width="0.4"/>
<text x="510.6" y="42.52" font-size="4.0" font-family="'Liberation Serif', 'DejaVu Serif', serif" text-anchor="start" fill="#444" stroke="#444" stroke-width="0.09" >50</text>
<path d="M508 32.08H509.6" stroke="#444" stroke-width="0.4"/>
<text x="510.6" y="33.28" font-size="4.0" font-family="'Liberation Serif', 'DejaVu Serif', serif" text-anchor="start" fill="#444" stroke="#444" stroke-width="0.09" >60</text>
<path d="M508 22.85H509.6" stroke="#444" stroke-width="0.4"/>
<text x="510.6" y="24.05" font-size="4.0" font-family="'Liberation Serif', 'DejaVu Serif', serif" text-anchor="start" fill="#444" stroke="#444" stroke-width="0.09" >70</text>
<path d="M508 13.61H509.6" stroke="#444" stroke-width="0.4"/>
<text x="510.6" y="14.81" font-size="4.0" font-family="'Liberation Serif', 'DejaVu Serif', serif" text-anchor="start" fill="#444" stroke="#444" stroke-width="0.09" >80</text>
<text x="504.1" y="93.4" font-size="4.3" font-family="'Liberation Serif', 'DejaVu Serif', serif" text-anchor="start" fill="#555" stroke="#555" stroke-width="0.09" >x10<tspan font-size="2.6" dy="-1.3">−</tspan><tspan dy="1.3">3</tspan></text>
<text x="433" y="99.2" font-size="6.3" font-family="'Liberation Serif', 'DejaVu Serif', serif" text-anchor="start" fill="#111" stroke="#111" stroke-width="0.09" >(a6)</text>
<text x="471" y="98.9" font-size="6.6" font-family="'Liberation Serif', 'DejaVu Serif', serif" text-anchor="middle" fill="#111" stroke="#111" stroke-width="0.09" >shadow</text>
<rect x="391.2" y="127" width="4.62" height="4.59" fill="#fff"/>
<rect x="395.77" y="127" width="4.62" height="4.59" fill="#fff"/>
<rect x="400.33" y="127" width="4.62" height="4.59" fill="#fff"/>
<rect x="404.9" y="127" width="4.62" height="4.59" fill="#fff"/>
<rect x="409.47" y="127" width="4.62" height="4.59" fill="#fff"/>
<rect x="414.03" y="127" width="4.62" height="4.59" fill="#fff"/>
<rect x="418.6" y="127" width="4.62" height="4.59" fill="#fff"/>
<rect x="423.17" y="127" width="4.62" height="4.59" fill="#fff"/>
<rect x="427.74" y="127" width="4.62" height="4.59" fill="#fff"/>
<rect x="432.3" y="127" width="4.62" height="4.59" fill="#fff"/>
<rect x="436.87" y="127" width="4.62" height="4.59" fill="#000"/>
<rect x="441.44" y="127" width="4.62" height="4.59" fill="#000"/>
<rect x="446" y="127" width="4.62" height="4.59" fill="#000"/>
<rect x="450.57" y="127" width="4.62" height="4.59" fill="#000"/>
<rect x="455.14" y="127" width="4.62" height="4.59" fill="#000"/>
<rect x="391.2" y="131.54" width="4.62" height="4.59" fill="#fff"/>
<rect x="395.77" y="131.54" width="4.62" height="4.59" fill="#fff"/>
<rect x="400.33" y="131.54" width="4.62" height="4.59" fill="#fff"/>
<rect x="404.9" y="131.54" width="4.62" height="4.59" fill="#fff"/>
<rect x="409.47" y="131.54" width="4.62" height="4.59" fill="#fff"/>
<rect x="414.03" y="131.54" width="4.62" height="4.59" fill="#fff"/>
<rect x="418.6" y="131.54" width="4.62" height="4.59" fill="#fff"/>
<rect x="423.17" y="131.54" width="4.62" height="4.59" fill="#fff"/>
<rect x="427.74" y="131.54" width="4.62" height="4.59" fill="#fff"/>
<rect x="432.3" y="131.54" width="4.62" height="4.59" fill="#fff"/>
<rect x="436.87" y="131.54" width="4.62" height="4.59" fill="#000"/>
<rect x="441.44" y="131.54" width="4.62" height="4.59" fill="#000"/>
<rect x="446" y="131.54" width="4.62" height="4.59" fill="#000"/>
<rect x="450.57" y="131.54" width="4.62" height="4.59" fill="#000"/>
<rect x="455.14" y="131.54" width="4.62" height="4.59" fill="#000"/>
<rect x="391.2" y="136.08" width="4.62" height="4.59" fill="#fff"/>
<rect x="395.77" y="136.08" width="4.62" height="4.59" fill="#fff"/>
<rect x="400.33" y="136.08" width="4.62" height="4.59" fill="#fff"/>
<rect x="404.9" y="136.08" width="4.62" height="4.59" fill="#fff"/>
<rect x="409.47" y="136.08" width="4.62" height="4.59" fill="#fff"/>
<rect x="414.03" y="136.08" width="4.62" height="4.59" fill="#fff"/>
<rect x="418.6" y="136.08" width="4.62" height="4.59" fill="#fff"/>
<rect x="423.17" y="136.08" width="4.62" height="4.59" fill="#fff"/>
<rect x="427.74" y="136.08" width="4.62" height="4.59" fill="#fff"/>
<rect x="432.3" y="136.08" width="4.62" height="4.59" fill="#fff"/>
<rect x="436.87" y="136.08" width="4.62" height="4.59" fill="#000"/>
<rect x="441.44" y="136.08" width="4.62" height="4.59" fill="#000"/>
<rect x="446" y="136.08" width="4.62" height="4.59" fill="#000"/>
<rect x="450.57" y="136.08" width="4.62" height="4.59" fill="#000"/>
<rect x="455.14" y="136.08" width="4.62" height="4.59" fill="#000"/>
<rect x="391.2" y="140.62" width="4.62" height="4.59" fill="#fff"/>
<rect x="395.77" y="140.62" width="4.62" height="4.59" fill="#fff"/>
<rect x="400.33" y="140.62" width="4.62" height="4.59" fill="#fff"/>
<rect x="404.9" y="140.62" width="4.62" height="4.59" fill="#fff"/>
<rect x="409.47" y="140.62" width="4.62" height="4.59" fill="#fff"/>
<rect x="414.03" y="140.62" width="4.62" height="4.59" fill="#fff"/>
<rect x="418.6" y="140.62" width="4.62" height="4.59" fill="#fff"/>
<rect x="423.17" y="140.62" width="4.62" height="4.59" fill="#fff"/>
<rect x="427.74" y="140.62" width="4.62" height="4.59" fill="#fff"/>
<rect x="432.3" y="140.62" width="4.62" height="4.59" fill="#000"/>
<rect x="436.87" y="140.62" width="4.62" height="4.59" fill="#000"/>
<rect x="441.44" y="140.62" width="4.62" height="4.59" fill="#000"/>
<rect x="446" y="140.62" width="4.62" height="4.59" fill="#000"/>
<rect x="450.57" y="140.62" width="4.62" height="4.59" fill="#000"/>
<rect x="455.14" y="140.62" width="4.62" height="4.59" fill="#000"/>
<rect x="391.2" y="145.16" width="4.62" height="4.59" fill="#fff"/>
<rect x="395.77" y="145.16" width="4.62" height="4.59" fill="#fff"/>
<rect x="400.33" y="145.16" width="4.62" height="4.59" fill="#fff"/>
<rect x="404.9" y="145.16" width="4.62" height="4.59" fill="#fff"/>
<rect x="409.47" y="145.16" width="4.62" height="4.59" fill="#fff"/>
<rect x="414.03" y="145.16" width="4.62" height="4.59" fill="#fff"/>
<rect x="418.6" y="145.16" width="4.62" height="4.59" fill="#fff"/>
<rect x="423.17" y="145.16" width="4.62" height="4.59" fill="#fff"/>
<rect x="427.74" y="145.16" width="4.62" height="4.59" fill="#fff"/>
<rect x="432.3" y="145.16" width="4.62" height="4.59" fill="#000"/>
<rect x="436.87" y="145.16" width="4.62" height="4.59" fill="#000"/>
<rect x="441.44" y="145.16" width="4.62" height="4.59" fill="#000"/>
<rect x="446" y="145.16" width="4.62" height="4.59" fill="#000"/>
<rect x="450.57" y="145.16" width="4.62" height="4.59" fill="#000"/>
<rect x="455.14" y="145.16" width="4.62" height="4.59" fill="#000"/>
<rect x="391.2" y="149.7" width="4.62" height="4.59" fill="#fff"/>
<rect x="395.77" y="149.7" width="4.62" height="4.59" fill="#fff"/>
<rect x="400.33" y="149.7" width="4.62" height="4.59" fill="#fff"/>
<rect x="404.9" y="149.7" width="4.62" height="4.59" fill="#fff"/>
<rect x="409.47" y="149.7" width="4.62" height="4.59" fill="#fff"/>
<rect x="414.03" y="149.7" width="4.62" height="4.59" fill="#fff"/>
<rect x="418.6" y="149.7" width="4.62" height="4.59" fill="#fff"/>
<rect x="423.17" y="149.7" width="4.62" height="4.59" fill="#fff"/>
<rect x="427.74" y="149.7" width="4.62" height="4.59" fill="#fff"/>
<rect x="432.3" y="149.7" width="4.62" height="4.59" fill="#000"/>
<rect x="436.87" y="149.7" width="4.62" height="4.59" fill="#000"/>
<rect x="441.44" y="149.7" width="4.62" height="4.59" fill="#000"/>
<rect x="446" y="149.7" width="4.62" height="4.59" fill="#000"/>
<rect x="450.57" y="149.7" width="4.62" height="4.59" fill="#000"/>
<rect x="455.14" y="149.7" width="4.62" height="4.59" fill="#000"/>
<rect x="391.2" y="154.24" width="4.62" height="4.59" fill="#fff"/>
<rect x="395.77" y="154.24" width="4.62" height="4.59" fill="#fff"/>
<rect x="400.33" y="154.24" width="4.62" height="4.59" fill="#fff"/>
<rect x="404.9" y="154.24" width="4.62" height="4.59" fill="#fff"/>
<rect x="409.47" y="154.24" width="4.62" height="4.59" fill="#fff"/>
<rect x="414.03" y="154.24" width="4.62" height="4.59" fill="#fff"/>
<rect x="418.6" y="154.24" width="4.62" height="4.59" fill="#fff"/>
<rect x="423.17" y="154.24" width="4.62" height="4.59" fill="#fff"/>
<rect x="427.74" y="154.24" width="4.62" height="4.59" fill="#fff"/>
<rect x="432.3" y="154.24" width="4.62" height="4.59" fill="#000"/>
<rect x="436.87" y="154.24" width="4.62" height="4.59" fill="#000"/>
<rect x="441.44" y="154.24" width="4.62" height="4.59" fill="#000"/>
<rect x="446" y="154.24" width="4.62" height="4.59" fill="#000"/>
<rect x="450.57" y="154.24" width="4.62" height="4.59" fill="#000"/>
<rect x="455.14" y="154.24" width="4.62" height="4.59" fill="#000"/>
<rect x="391.2" y="158.78" width="4.62" height="4.59" fill="#fff"/>
<rect x="395.77" y="158.78" width="4.62" height="4.59" fill="#fff"/>
<rect x="400.33" y="158.78" width="4.62" height="4.59" fill="#fff"/>
<rect x="404.9" y="158.78" width="4.62" height="4.59" fill="#000"/>
<rect x="409.47" y="158.78" width="4.62" height="4.59" fill="#fff"/>
<rect x="414.03" y="158.78" width="4.62" height="4.59" fill="#fff"/>
<rect x="418.6" y="158.78" width="4.62" height="4.59" fill="#fff"/>
<rect x="423.17" y="158.78" width="4.62" height="4.59" fill="#fff"/>
<rect x="427.74" y="158.78" width="4.62" height="4.59" fill="#fff"/>
<rect x="432.3" y="158.78" width="4.62" height="4.59" fill="#000"/>
<rect x="436.87" y="158.78" width="4.62" height="4.59" fill="#000"/>
<rect x="441.44" y="158.78" width="4.62" height="4.59" fill="#000"/>
<rect x="446" y="158.78" width="4.62" height="4.59" fill="#000"/>
<rect x="450.57" y="158.78" width="4.62" height="4.59" fill="#000"/>
<rect x="455.14" y="158.78" width="4.62" height="4.59" fill="#000"/>
<rect x="391.2" y="163.32" width="4.62" height="4.59" fill="#fff"/>
<rect x="395.77" y="163.32" width="4.62" height="4.59" fill="#fff"/>
<rect x="400.33" y="163.32" width="4.62" height="4.59" fill="#000"/>
<rect x="404.9" y="163.32" width="4.62" height="4.59" fill="#fff"/>
<rect x="409.47" y="163.32" width="4.62" height="4.59" fill="#fff"/>
<rect x="414.03" y="163.32" width="4.62" height="4.59" fill="#fff"/>
<rect x="418.6" y="163.32" width="4.62" height="4.59" fill="#fff"/>
<rect x="423.17" y="163.32" width="4.62" height="4.59" fill="#fff"/>
<rect x="427.74" y="163.32" width="4.62" height="4.59" fill="#fff"/>
<rect x="432.3" y="163.32" width="4.62" height="4.59" fill="#fff"/>
<rect x="436.87" y="163.32" width="4.62" height="4.59" fill="#fff"/>
<rect x="441.44" y="163.32" width="4.62" height="4.59" fill="#000"/>
<rect x="446" y="163.32" width="4.62" height="4.59" fill="#000"/>
<rect x="450.57" y="163.32" width="4.62" height="4.59" fill="#000"/>
<rect x="455.14" y="163.32" width="4.62" height="4.59" fill="#000"/>
<rect x="391.2" y="167.86" width="4.62" height="4.59" fill="#fff"/>
<rect x="395.77" y="167.86" width="4.62" height="4.59" fill="#000"/>
<rect x="400.33" y="167.86" width="4.62" height="4.59" fill="#000"/>
<rect x="404.9" y="167.86" width="4.62" height="4.59" fill="#000"/>
<rect x="409.47" y="167.86" width="4.62" height="4.59" fill="#fff"/>
<rect x="414.03" y="167.86" width="4.62" height="4.59" fill="#000"/>
<rect x="418.6" y="167.86" width="4.62" height="4.59" fill="#fff"/>
<rect x="423.17" y="167.86" width="4.62" height="4.59" fill="#fff"/>
<rect x="427.74" y="167.86" width="4.62" height="4.59" fill="#fff"/>
<rect x="432.3" y="167.86" width="4.62" height="4.59" fill="#fff"/>
<rect x="436.87" y="167.86" width="4.62" height="4.59" fill="#fff"/>
<rect x="441.44" y="167.86" width="4.62" height="4.59" fill="#000"/>
<rect x="446" y="167.86" width="4.62" height="4.59" fill="#000"/>
<rect x="450.57" y="167.86" width="4.62" height="4.59" fill="#000"/>
<rect x="455.14" y="167.86" width="4.62" height="4.59" fill="#000"/>
<rect x="391.2" y="172.4" width="4.62" height="4.59" fill="#fff"/>
<rect x="395.77" y="172.4" width="4.62" height="4.59" fill="#000"/>
<rect x="400.33" y="172.4" width="4.62" height="4.59" fill="#000"/>
<rect x="404.9" y="172.4" width="4.62" height="4.59" fill="#000"/>
<rect x="409.47" y="172.4" width="4.62" height="4.59" fill="#000"/>
<rect x="414.03" y="172.4" width="4.62" height="4.59" fill="#fff"/>
<rect x="418.6" y="172.4" width="4.62" height="4.59" fill="#fff"/>
<rect x="423.17" y="172.4" width="4.62" height="4.59" fill="#fff"/>
<rect x="427.74" y="172.4" width="4.62" height="4.59" fill="#fff"/>
<rect x="432.3" y="172.4" width="4.62" height="4.59" fill="#fff"/>
<rect x="436.87" y="172.4" width="4.62" height="4.59" fill="#fff"/>
<rect x="441.44" y="172.4" width="4.62" height="4.59" fill="#000"/>
<rect x="446" y="172.4" width="4.62" height="4.59" fill="#000"/>
<rect x="450.57" y="172.4" width="4.62" height="4.59" fill="#000"/>
<rect x="455.14" y="172.4" width="4.62" height="4.59" fill="#000"/>
<rect x="391.2" y="176.94" width="4.62" height="4.59" fill="#000"/>
<rect x="395.77" y="176.94" width="4.62" height="4.59" fill="#000"/>
<rect x="400.33" y="176.94" width="4.62" height="4.59" fill="#000"/>
<rect x="404.9" y="176.94" width="4.62" height="4.59" fill="#000"/>
<rect x="409.47" y="176.94" width="4.62" height="4.59" fill="#000"/>
<rect x="414.03" y="176.94" width="4.62" height="4.59" fill="#fff"/>
<rect x="418.6" y="176.94" width="4.62" height="4.59" fill="#fff"/>
<rect x="423.17" y="176.94" width="4.62" height="4.59" fill="#fff"/>
<rect x="427.74" y="176.94" width="4.62" height="4.59" fill="#fff"/>
<rect x="432.3" y="176.94" width="4.62" height="4.59" fill="#fff"/>
<rect x="436.87" y="176.94" width="4.62" height="4.59" fill="#fff"/>
<rect x="441.44" y="176.94" width="4.62" height="4.59" fill="#fff"/>
<rect x="446" y="176.94" width="4.62" height="4.59" fill="#000"/>
<rect x="450.57" y="176.94" width="4.62" height="4.59" fill="#000"/>
<rect x="455.14" y="176.94" width="4.62" height="4.59" fill="#000"/>
<rect x="391.2" y="181.48" width="4.62" height="4.59" fill="#000"/>
<rect x="395.77" y="181.48" width="4.62" height="4.59" fill="#000"/>
<rect x="400.33" y="181.48" width="4.62" height="4.59" fill="#000"/>
<rect x="404.9" y="181.48" width="4.62" height="4.59" fill="#000"/>
<rect x="409.47" y="181.48" width="4.62" height="4.59" fill="#000"/>
<rect x="414.03" y="181.48" width="4.62" height="4.59" fill="#fff"/>
<rect x="418.6" y="181.48" width="4.62" height="4.59" fill="#fff"/>
<rect x="423.17" y="181.48" width="4.62" height="4.59" fill="#fff"/>
<rect x="427.74" y="181.48" width="4.62" height="4.59" fill="#fff"/>
<rect x="432.3" y="181.48" width="4.62" height="4.59" fill="#fff"/>
<rect x="436.87" y="181.48" width="4.62" height="4.59" fill="#fff"/>
<rect x="441.44" y="181.48" width="4.62" height="4.59" fill="#fff"/>
<rect x="446" y="181.48" width="4.62" height="4.59" fill="#000"/>
<rect x="450.57" y="181.48" width="4.62" height="4.59" fill="#000"/>
<rect x="455.14" y="181.48" width="4.62" height="4.59" fill="#000"/>
<rect x="391.2" y="186.02" width="4.62" height="4.59" fill="#000"/>
<rect x="395.77" y="186.02" width="4.62" height="4.59" fill="#000"/>
<rect x="400.33" y="186.02" width="4.62" height="4.59" fill="#000"/>
<rect x="404.9" y="186.02" width="4.62" height="4.59" fill="#000"/>
<rect x="409.47" y="186.02" width="4.62" height="4.59" fill="#000"/>
<rect x="414.03" y="186.02" width="4.62" height="4.59" fill="#000"/>
<rect x="418.6" y="186.02" width="4.62" height="4.59" fill="#fff"/>
<rect x="423.17" y="186.02" width="4.62" height="4.59" fill="#fff"/>
<rect x="427.74" y="186.02" width="4.62" height="4.59" fill="#fff"/>
<rect x="432.3" y="186.02" width="4.62" height="4.59" fill="#fff"/>
<rect x="436.87" y="186.02" width="4.62" height="4.59" fill="#fff"/>
<rect x="441.44" y="186.02" width="4.62" height="4.59" fill="#000"/>
<rect x="446" y="186.02" width="4.62" height="4.59" fill="#000"/>
<rect x="450.57" y="186.02" width="4.62" height="4.59" fill="#000"/>
<rect x="455.14" y="186.02" width="4.62" height="4.59" fill="#000"/>
<rect x="391.2" y="190.56" width="4.62" height="4.59" fill="#fff"/>
<rect x="395.77" y="190.56" width="4.62" height="4.59" fill="#000"/>
<rect x="400.33" y="190.56" width="4.62" height="4.59" fill="#000"/>
<rect x="404.9" y="190.56" width="4.62" height="4.59" fill="#000"/>
<rect x="409.47" y="190.56" width="4.62" height="4.59" fill="#000"/>
<rect x="414.03" y="190.56" width="4.62" height="4.59" fill="#000"/>
<rect x="418.6" y="190.56" width="4.62" height="4.59" fill="#000"/>
<rect x="423.17" y="190.56" width="4.62" height="4.59" fill="#000"/>
<rect x="427.74" y="190.56" width="4.62" height="4.59" fill="#000"/>
<rect x="432.3" y="190.56" width="4.62" height="4.59" fill="#fff"/>
<rect x="436.87" y="190.56" width="4.62" height="4.59" fill="#fff"/>
<rect x="441.44" y="190.56" width="4.62" height="4.59" fill="#000"/>
<rect x="446" y="190.56" width="4.62" height="4.59" fill="#000"/>
<rect x="450.57" y="190.56" width="4.62" height="4.59" fill="#000"/>
<rect x="455.14" y="190.56" width="4.62" height="4.59" fill="#000"/>
<rect x="391.2" y="195.1" width="4.62" height="4.59" fill="#fff"/>
<rect x="395.77" y="195.1" width="4.62" height="4.59" fill="#000"/>
<rect x="400.33" y="195.1" width="4.62" height="4.59" fill="#000"/>
<rect x="404.9" y="195.1" width="4.62" height="4.59" fill="#000"/>
<rect x="409.47" y="195.1" width="4.62" height="4.59" fill="#000"/>
<rect x="414.03" y="195.1" width="4.62" height="4.59" fill="#000"/>
<rect x="418.6" y="195.1" width="4.62" height="4.59" fill="#000"/>
<rect x="423.17" y="195.1" width="4.62" height="4.59" fill="#000"/>
<rect x="427.74" y="195.1" width="4.62" height="4.59" fill="#000"/>
<rect x="432.3" y="195.1" width="4.62" height="4.59" fill="#000"/>
<rect x="436.87" y="195.1" width="4.62" height="4.59" fill="#000"/>
<rect x="441.44" y="195.1" width="4.62" height="4.59" fill="#000"/>
<rect x="446" y="195.1" width="4.62" height="4.59" fill="#000"/>
<rect x="450.57" y="195.1" width="4.62" height="4.59" fill="#000"/>
<rect x="455.14" y="195.1" width="4.62" height="4.59" fill="#000"/>
<rect x="391.2" y="199.64" width="4.62" height="4.59" fill="#fff"/>
<rect x="395.77" y="199.64" width="4.62" height="4.59" fill="#000"/>
<rect x="400.33" y="199.64" width="4.62" height="4.59" fill="#000"/>
<rect x="404.9" y="199.64" width="4.62" height="4.59" fill="#000"/>
<rect x="409.47" y="199.64" width="4.62" height="4.59" fill="#000"/>
<rect x="414.03" y="199.64" width="4.62" height="4.59" fill="#000"/>
<rect x="418.6" y="199.64" width="4.62" height="4.59" fill="#000"/>
<rect x="423.17" y="199.64" width="4.62" height="4.59" fill="#000"/>
<rect x="427.74" y="199.64" width="4.62" height="4.59" fill="#000"/>
<rect x="432.3" y="199.64" width="4.62" height="4.59" fill="#000"/>
<rect x="436.87" y="199.64" width="4.62" height="4.59" fill="#000"/>
<rect x="441.44" y="199.64" width="4.62" height="4.59" fill="#000"/>
<rect x="446" y="199.64" width="4.62" height="4.59" fill="#000"/>
<rect x="450.57" y="199.64" width="4.62" height="4.59" fill="#000"/>
<rect x="455.14" y="199.64" width="4.62" height="4.59" fill="#000"/>
<rect x="391.2" y="204.18" width="4.62" height="4.59" fill="#fff"/>
<rect x="395.77" y="204.18" width="4.62" height="4.59" fill="#000"/>
<rect x="400.33" y="204.18" width="4.62" height="4.59" fill="#000"/>
<rect x="404.9" y="204.18" width="4.62" height="4.59" fill="#000"/>
<rect x="409.47" y="204.18" width="4.62" height="4.59" fill="#000"/>
<rect x="414.03" y="204.18" width="4.62" height="4.59" fill="#000"/>
<rect x="418.6" y="204.18" width="4.62" height="4.59" fill="#000"/>
<rect x="423.17" y="204.18" width="4.62" height="4.59" fill="#000"/>
<rect x="427.74" y="204.18" width="4.62" height="4.59" fill="#000"/>
<rect x="432.3" y="204.18" width="4.62" height="4.59" fill="#000"/>
<rect x="436.87" y="204.18" width="4.62" height="4.59" fill="#000"/>
<rect x="441.44" y="204.18" width="4.62" height="4.59" fill="#000"/>
<rect x="446" y="204.18" width="4.62" height="4.59" fill="#000"/>
<rect x="450.57" y="204.18" width="4.62" height="4.59" fill="#000"/>
<rect x="455.14" y="204.18" width="4.62" height="4.59" fill="#000"/>
<rect x="391.2" y="208.72" width="4.62" height="4.59" fill="#000"/>
<rect x="395.77" y="208.72" width="4.62" height="4.59" fill="#000"/>
<rect x="400.33" y="208.72" width="4.62" height="4.59" fill="#000"/>
<rect x="404.9" y="208.72" width="4.62" height="4.59" fill="#000"/>
<rect x="409.47" y="208.72" width="4.62" height="4.59" fill="#000"/>
<rect x="414.03" y="208.72" width="4.62" height="4.59" fill="#000"/>
<rect x="418.6" y="208.72" width="4.62" height="4.59" fill="#000"/>
<rect x="423.17" y="208.72" width="4.62" height="4.59" fill="#000"/>
<rect x="427.74" y="208.72" width="4.62" height="4.59" fill="#000"/>
<rect x="432.3" y="208.72" width="4.62" height="4.59" fill="#000"/>
<rect x="436.87" y="208.72" width="4.62" height="4.59" fill="#000"/>
<rect x="441.44" y="208.72" width="4.62" height="4.59" fill="#000"/>
<rect x="446" y="208.72" width="4.62" height="4.59" fill="#000"/>
<rect x="450.57" y="208.72" width="4.62" height="4.59" fill="#000"/>
<rect x="455.14" y="208.72" width="4.62" height="4.59" fill="#000"/>
<rect x="391.2" y="213.26" width="4.62" height="4.59" fill="#000"/>
<rect x="395.77" y="213.26" width="4.62" height="4.59" fill="#000"/>
<rect x="400.33" y="213.26" width="4.62" height="4.59" fill="#000"/>
<rect x="404.9" y="213.26" width="4.62" height="4.59" fill="#000"/>
<rect x="409.47" y="213.26" width="4.62" height="4.59" fill="#000"/>
<rect x="414.03" y="213.26" width="4.62" height="4.59" fill="#000"/>
<rect x="418.6" y="213.26" width="4.62" height="4.59" fill="#000"/>
<rect x="423.17" y="213.26" width="4.62" height="4.59" fill="#000"/>
<rect x="427.74" y="213.26" width="4.62" height="4.59" fill="#000"/>
<rect x="432.3" y="213.26" width="4.62" height="4.59" fill="#000"/>
<rect x="436.87" y="213.26" width="4.62" height="4.59" fill="#000"/>
<rect x="441.44" y="213.26" width="4.62" height="4.59" fill="#000"/>
<rect x="446" y="213.26" width="4.62" height="4.59" fill="#000"/>
<rect x="450.57" y="213.26" width="4.62" height="4.59" fill="#000"/>
<rect x="455.14" y="213.26" width="4.62" height="4.59" fill="#000"/>
<path d="M391.2 127V217.8M395.77 127V217.8M400.33 127V217.8M404.9 127V217.8M409.47 127V217.8M414.03 127V217.8M418.6 127V217.8M423.17 127V217.8M427.74 127V217.8M432.3 127V217.8M436.87 127V217.8M441.44 127V217.8M446 127V217.8M450.57 127V217.8M455.14 127V217.8M459.7 127V217.8M391.2 127H459.7M391.2 131.54H459.7M391.2 136.08H459.7M391.2 140.62H459.7M391.2 145.16H459.7M391.2 149.7H459.7M391.2 154.24H459.7M391.2 158.78H459.7M391.2 163.32H459.7M391.2 167.86H459.7M391.2 172.4H459.7M391.2 176.94H459.7M391.2 181.48H459.7M391.2 186.02H459.7M391.2 190.56H459.7M391.2 195.1H459.7M391.2 199.64H459.7M391.2 204.18H459.7M391.2 208.72H459.7M391.2 213.26H459.7M391.2 217.8H459.7" stroke="#777" stroke-opacity="0.8" stroke-width="0.45" fill="none"/>
<path d="M388.4 128.5V220.4H458.7" stroke="#aaa" stroke-width="0.55" fill="none"/>
<path d="M388.4 129.27H391.2" stroke="#666" stroke-width="0.4"/>
<text x="387.9" y="130.97" font-size="5.0" font-family="'Liberation Serif', 'DejaVu Serif', serif" text-anchor="end" fill="#333" stroke="#333" stroke-width="0.09" >1</text>
<path d="M388.4 147.43H391.2" stroke="#666" stroke-width="0.4"/>
<text x="387.9" y="149.13" font-size="5.0" font-family="'Liberation Serif', 'DejaVu Serif', serif" text-anchor="end" fill="#333" stroke="#333" stroke-width="0.09" >5</text>
<path d="M388.4 170.13H391.2" stroke="#666" stroke-width="0.4"/>
<text x="387.9" y="171.83" font-size="5.0" font-family="'Liberation Serif', 'DejaVu Serif', serif" text-anchor="end" fill="#333" stroke="#333" stroke-width="0.09" >10</text>
<path d="M388.4 192.83H391.2" stroke="#666" stroke-width="0.4"/>
<text x="387.9" y="194.53" font-size="5.0" font-family="'Liberation Serif', 'DejaVu Serif', serif" text-anchor="end" fill="#333" stroke="#333" stroke-width="0.09" >15</text>
<path d="M388.4 215.53H391.2" stroke="#666" stroke-width="0.4"/>
<text x="387.9" y="217.23" font-size="5.0" font-family="'Liberation Serif', 'DejaVu Serif', serif" text-anchor="end" fill="#333" stroke="#333" stroke-width="0.09" >20</text>
<path d="M393.48 217.8V220.4" stroke="#666" stroke-width="0.4"/>
<text x="393.48" y="224.3" font-size="5.0" font-family="'Liberation Serif', 'DejaVu Serif', serif" text-anchor="middle" fill="#333" stroke="#333" stroke-width="0.09" >1</text>
<path d="M411.75 217.8V220.4" stroke="#666" stroke-width="0.4"/>
<text x="411.75" y="224.3" font-size="5.0" font-family="'Liberation Serif', 'DejaVu Serif', serif" text-anchor="middle" fill="#333" stroke="#333" stroke-width="0.09" >5</text>
<path d="M434.59 217.8V220.4" stroke="#666" stroke-width="0.4"/>
<text x="434.59" y="224.3" font-size="5.0" font-family="'Liberation Serif', 'DejaVu Serif', serif" text-anchor="middle" fill="#333" stroke="#333" stroke-width="0.09" >10</text>
<path d="M457.42 217.8V220.4" stroke="#666" stroke-width="0.4"/>
<text x="457.42" y="224.3" font-size="5.0" font-family="'Liberation Serif', 'DejaVu Serif', serif" text-anchor="middle" fill="#333" stroke="#333" stroke-width="0.09" >15</text>
<rect x="473.1" y="127.8" width="4.6" height="4.61" fill="#0b6b68"/>
<rect x="477.65" y="127.8" width="4.6" height="4.61" fill="#0b6b68"/>
<rect x="482.21" y="127.8" width="4.6" height="4.61" fill="#0b6b68"/>
<rect x="486.76" y="127.8" width="4.6" height="4.61" fill="#0b6b68"/>
<rect x="491.31" y="127.8" width="4.6" height="4.61" fill="#0b6b68"/>
<rect x="495.87" y="127.8" width="4.6" height="4.61" fill="#0b6b68"/>
<rect x="500.42" y="127.8" width="4.6" height="4.61" fill="#0b6b68"/>
<rect x="504.97" y="127.8" width="4.6" height="4.61" fill="#0b6b68"/>
<rect x="509.52" y="127.8" width="4.6" height="4.61" fill="#0b6b68"/>
<rect x="514.08" y="127.8" width="4.6" height="4.61" fill="#0b6b68"/>
<rect x="518.63" y="127.8" width="4.6" height="4.61" fill="#aac9f0"/>
<rect x="523.18" y="127.8" width="4.6" height="4.61" fill="#aac9f0"/>
<rect x="527.74" y="127.8" width="4.6" height="4.61" fill="#aac9f0"/>
<rect x="532.29" y="127.8" width="4.6" height="4.61" fill="#aac9f0"/>
<rect x="536.84" y="127.8" width="4.6" height="4.61" fill="#aac9f0"/>
<rect x="473.1" y="132.36" width="4.6" height="4.61" fill="#0b6b68"/>
<rect x="477.65" y="132.36" width="4.6" height="4.61" fill="#0b6b68"/>
<rect x="482.21" y="132.36" width="4.6" height="4.61" fill="#0b6b68"/>
<rect x="486.76" y="132.36" width="4.6" height="4.61" fill="#0b6b68"/>
<rect x="491.31" y="132.36" width="4.6" height="4.61" fill="#0b6b68"/>
<rect x="495.87" y="132.36" width="4.6" height="4.61" fill="#0b6b68"/>
<rect x="500.42" y="132.36" width="4.6" height="4.61" fill="#0b6b68"/>
<rect x="504.97" y="132.36" width="4.6" height="4.61" fill="#0b6b68"/>
<rect x="509.52" y="132.36" width="4.6" height="4.61" fill="#0b6b68"/>
<rect x="514.08" y="132.36" width="4.6" height="4.61" fill="#0b6b68"/>
<rect x="518.63" y="132.36" width="4.6" height="4.61" fill="#aac9f0"/>
<rect x="523.18" y="132.36" width="4.6" height="4.61" fill="#aac9f0"/>
<rect x="527.74" y="132.36" width="4.6" height="4.61" fill="#aac9f0"/>
<rect x="532.29" y="132.36" width="4.6" height="4.61" fill="#aac9f0"/>
<rect x="536.84" y="132.36" width="4.6" height="4.61" fill="#aac9f0"/>
<rect x="473.1" y="136.92" width="4.6" height="4.61" fill="#0b6b68"/>
<rect x="477.65" y="136.92" width="4.6" height="4.61" fill="#0b6b68"/>
<rect x="482.21" y="136.92" width="4.6" height="4.61" fill="#0b6b68"/>
<rect x="486.76" y="136.92" width="4.6" height="4.61" fill="#0b6b68"/>
<rect x="491.31" y="136.92" width="4.6" height="4.61" fill="#0b6b68"/>
<rect x="495.87" y="136.92" width="4.6" height="4.61" fill="#0b6b68"/>
<rect x="500.42" y="136.92" width="4.6" height="4.61" fill="#0b6b68"/>
<rect x="504.97" y="136.92" width="4.6" height="4.61" fill="#0b6b68"/>
<rect x="509.52" y="136.92" width="4.6" height="4.61" fill="#0b6b68"/>
<rect x="514.08" y="136.92" width="4.6" height="4.61" fill="#0b6b68"/>
<rect x="518.63" y="136.92" width="4.6" height="4.61" fill="#aac9f0"/>
<rect x="523.18" y="136.92" width="4.6" height="4.61" fill="#aac9f0"/>
<rect x="527.74" y="136.92" width="4.6" height="4.61" fill="#aac9f0"/>
<rect x="532.29" y="136.92" width="4.6" height="4.61" fill="#aac9f0"/>
<rect x="536.84" y="136.92" width="4.6" height="4.61" fill="#aac9f0"/>
<rect x="473.1" y="141.48" width="4.6" height="4.61" fill="#0b6b68"/>
<rect x="477.65" y="141.48" width="4.6" height="4.61" fill="#0b6b68"/>
<rect x="482.21" y="141.48" width="4.6" height="4.61" fill="#0b6b68"/>
<rect x="486.76" y="141.48" width="4.6" height="4.61" fill="#0b6b68"/>
<rect x="491.31" y="141.48" width="4.6" height="4.61" fill="#0b6b68"/>
<rect x="495.87" y="141.48" width="4.6" height="4.61" fill="#0b6b68"/>
<rect x="500.42" y="141.48" width="4.6" height="4.61" fill="#0b6b68"/>
<rect x="504.97" y="141.48" width="4.6" height="4.61" fill="#0b6b68"/>
<rect x="509.52" y="141.48" width="4.6" height="4.61" fill="#0b6b68"/>
<rect x="514.08" y="141.48" width="4.6" height="4.61" fill="#aac9f0"/>
<rect x="518.63" y="141.48" width="4.6" height="4.61" fill="#aac9f0"/>
<rect x="523.18" y="141.48" width="4.6" height="4.61" fill="#aac9f0"/>
<rect x="527.74" y="141.48" width="4.6" height="4.61" fill="#aac9f0"/>
<rect x="532.29" y="141.48" width="4.6" height="4.61" fill="#aac9f0"/>
<rect x="536.84" y="141.48" width="4.6" height="4.61" fill="#aac9f0"/>
<rect x="473.1" y="146.04" width="4.6" height="4.61" fill="#0b6b68"/>
<rect x="477.65" y="146.04" width="4.6" height="4.61" fill="#0b6b68"/>
<rect x="482.21" y="146.04" width="4.6" height="4.61" fill="#0b6b68"/>
<rect x="486.76" y="146.04" width="4.6" height="4.61" fill="#0b6b68"/>
<rect x="491.31" y="146.04" width="4.6" height="4.61" fill="#0b6b68"/>
<rect x="495.87" y="146.04" width="4.6" height="4.61" fill="#0b6b68"/>
<rect x="500.42" y="146.04" width="4.6" height="4.61" fill="#0b6b68"/>
<rect x="504.97" y="146.04" width="4.6" height="4.61" fill="#0b6b68"/>
<rect x="509.52" y="146.04" width="4.6" height="4.61" fill="#0b6b68"/>
<rect x="514.08" y="146.04" width="4.6" height="4.61" fill="#aac9f0"/>
<rect x="518.63" y="146.04" width="4.6" height="4.61" fill="#aac9f0"/>
<rect x="523.18" y="146.04" width="4.6" height="4.61" fill="#aac9f0"/>
<rect x="527.74" y="146.04" width="4.6" height="4.61" fill="#aac9f0"/>
<rect x="532.29" y="146.04" width="4.6" height="4.61" fill="#aac9f0"/>
<rect x="536.84" y="146.04" width="4.6" height="4.61" fill="#aac9f0"/>
<rect x="473.1" y="150.6" width="4.6" height="4.61" fill="#0b6b68"/>
<rect x="477.65" y="150.6" width="4.6" height="4.61" fill="#0b6b68"/>
<rect x="482.21" y="150.6" width="4.6" height="4.61" fill="#0b6b68"/>
<rect x="486.76" y="150.6" width="4.6" height="4.61" fill="#0b6b68"/>
<rect x="491.31" y="150.6" width="4.6" height="4.61" fill="#0b6b68"/>
<rect x="495.87" y="150.6" width="4.6" height="4.61" fill="#0b6b68"/>
<rect x="500.42" y="150.6" width="4.6" height="4.61" fill="#0b6b68"/>
<rect x="504.97" y="150.6" width="4.6" height="4.61" fill="#0b6b68"/>
<rect x="509.52" y="150.6" width="4.6" height="4.61" fill="#0b6b68"/>
<rect x="514.08" y="150.6" width="4.6" height="4.61" fill="#aac9f0"/>
<rect x="518.63" y="150.6" width="4.6" height="4.61" fill="#aac9f0"/>
<rect x="523.18" y="150.6" width="4.6" height="4.61" fill="#aac9f0"/>
<rect x="527.74" y="150.6" width="4.6" height="4.61" fill="#aac9f0"/>
<rect x="532.29" y="150.6" width="4.6" height="4.61" fill="#aac9f0"/>
<rect x="536.84" y="150.6" width="4.6" height="4.61" fill="#aac9f0"/>
<rect x="473.1" y="155.16" width="4.6" height="4.61" fill="#0b6b68"/>
<rect x="477.65" y="155.16" width="4.6" height="4.61" fill="#0b6b68"/>
<rect x="482.21" y="155.16" width="4.6" height="4.61" fill="#0b6b68"/>
<rect x="486.76" y="155.16" width="4.6" height="4.61" fill="#0b6b68"/>
<rect x="491.31" y="155.16" width="4.6" height="4.61" fill="#0b6b68"/>
<rect x="495.87" y="155.16" width="4.6" height="4.61" fill="#0b6b68"/>
<rect x="500.42" y="155.16" width="4.6" height="4.61" fill="#0b6b68"/>
<rect x="504.97" y="155.16" width="4.6" height="4.61" fill="#0b6b68"/>
<rect x="509.52" y="155.16" width="4.6" height="4.61" fill="#0b6b68"/>
<rect x="514.08" y="155.16" width="4.6" height="4.61" fill="#aac9f0"/>
<rect x="518.63" y="155.16" width="4.6" height="4.61" fill="#aac9f0"/>
<rect x="523.18" y="155.16" width="4.6" height="4.61" fill="#aac9f0"/>
<rect x="527.74" y="155.16" width="4.6" height="4.61" fill="#aac9f0"/>
<rect x="532.29" y="155.16" width="4.6" height="4.61" fill="#aac9f0"/>
<rect x="536.84" y="155.16" width="4.6" height="4.61" fill="#aac9f0"/>
<rect x="473.1" y="159.72" width="4.6" height="4.61" fill="#0b6b68"/>
<rect x="477.65" y="159.72" width="4.6" height="4.61" fill="#0b6b68"/>
<rect x="482.21" y="159.72" width="4.6" height="4.61" fill="#0b6b68"/>
<rect x="486.76" y="159.72" width="4.6" height="4.61" fill="#1763cf"/>
<rect x="491.31" y="159.72" width="4.6" height="4.61" fill="#0b6b68"/>
<rect x="495.87" y="159.72" width="4.6" height="4.61" fill="#0b6b68"/>
<rect x="500.42" y="159.72" width="4.6" height="4.61" fill="#0b6b68"/>
<rect x="504.97" y="159.72" width="4.6" height="4.61" fill="#0b6b68"/>
<rect x="509.52" y="159.72" width="4.6" height="4.61" fill="#17a098"/>
<rect x="514.08" y="159.72" width="4.6" height="4.61" fill="#aac9f0"/>
<rect x="518.63" y="159.72" width="4.6" height="4.61" fill="#aac9f0"/>
<rect x="523.18" y="159.72" width="4.6" height="4.61" fill="#aac9f0"/>
<rect x="527.74" y="159.72" width="4.6" height="4.61" fill="#aac9f0"/>
<rect x="532.29" y="159.72" width="4.6" height="4.61" fill="#aac9f0"/>
<rect x="536.84" y="159.72" width="4.6" height="4.61" fill="#aac9f0"/>
<rect x="473.1" y="164.28" width="4.6" height="4.61" fill="#0b6b68"/>
<rect x="477.65" y="164.28" width="4.6" height="4.61" fill="#0b6b68"/>
<rect x="482.21" y="164.28" width="4.6" height="4.61" fill="#1763cf"/>
<rect x="486.76" y="164.28" width="4.6" height="4.61" fill="#17a098"/>
<rect x="491.31" y="164.28" width="4.6" height="4.61" fill="#17a098"/>
<rect x="495.87" y="164.28" width="4.6" height="4.61" fill="#17a098"/>
<rect x="500.42" y="164.28" width="4.6" height="4.61" fill="#17a098"/>
<rect x="504.97" y="164.28" width="4.6" height="4.61" fill="#17a098"/>
<rect x="509.52" y="164.28" width="4.6" height="4.61" fill="#17a098"/>
<rect x="514.08" y="164.28" width="4.6" height="4.61" fill="#17a098"/>
<rect x="518.63" y="164.28" width="4.6" height="4.61" fill="#17a098"/>
<rect x="523.18" y="164.28" width="4.6" height="4.61" fill="#aac9f0"/>
<rect x="527.74" y="164.28" width="4.6" height="4.61" fill="#aac9f0"/>
<rect x="532.29" y="164.28" width="4.6" height="4.61" fill="#aac9f0"/>
<rect x="536.84" y="164.28" width="4.6" height="4.61" fill="#aac9f0"/>
<rect x="473.1" y="168.84" width="4.6" height="4.61" fill="#0b6b68"/>
<rect x="477.65" y="168.84" width="4.6" height="4.61" fill="#1763cf"/>
<rect x="482.21" y="168.84" width="4.6" height="4.61" fill="#1763cf"/>
<rect x="486.76" y="168.84" width="4.6" height="4.61" fill="#17a098"/>
<rect x="491.31" y="168.84" width="4.6" height="4.61" fill="#17a098"/>
<rect x="495.87" y="168.84" width="4.6" height="4.61" fill="#1763cf"/>
<rect x="500.42" y="168.84" width="4.6" height="4.61" fill="#17a098"/>
<rect x="504.97" y="168.84" width="4.6" height="4.61" fill="#17a098"/>
<rect x="509.52" y="168.84" width="4.6" height="4.61" fill="#17a098"/>
<rect x="514.08" y="168.84" width="4.6" height="4.61" fill="#17a098"/>
<rect x="518.63" y="168.84" width="4.6" height="4.61" fill="#17a098"/>
<rect x="523.18" y="168.84" width="4.6" height="4.61" fill="#aac9f0"/>
<rect x="527.74" y="168.84" width="4.6" height="4.61" fill="#aac9f0"/>
<rect x="532.29" y="168.84" width="4.6" height="4.61" fill="#aac9f0"/>
<rect x="536.84" y="168.84" width="4.6" height="4.61" fill="#aac9f0"/>
<rect x="473.1" y="173.4" width="4.6" height="4.61" fill="#0b6b68"/>
<rect x="477.65" y="173.4" width="4.6" height="4.61" fill="#1763cf"/>
<rect x="482.21" y="173.4" width="4.6" height="4.61" fill="#1763cf"/>
<rect x="486.76" y="173.4" width="4.6" height="4.61" fill="#1763cf"/>
<rect x="491.31" y="173.4" width="4.6" height="4.61" fill="#1763cf"/>
<rect x="495.87" y="173.4" width="4.6" height="4.61" fill="#17a098"/>
<rect x="500.42" y="173.4" width="4.6" height="4.61" fill="#17a098"/>
<rect x="504.97" y="173.4" width="4.6" height="4.61" fill="#17a098"/>
<rect x="509.52" y="173.4" width="4.6" height="4.61" fill="#17a098"/>
<rect x="514.08" y="173.4" width="4.6" height="4.61" fill="#0b6b68"/>
<rect x="518.63" y="173.4" width="4.6" height="4.61" fill="#0b6b68"/>
<rect x="523.18" y="173.4" width="4.6" height="4.61" fill="#aac9f0"/>
<rect x="527.74" y="173.4" width="4.6" height="4.61" fill="#aac9f0"/>
<rect x="532.29" y="173.4" width="4.6" height="4.61" fill="#aac9f0"/>
<rect x="536.84" y="173.4" width="4.6" height="4.61" fill="#aac9f0"/>
<rect x="473.1" y="177.96" width="4.6" height="4.61" fill="#1763cf"/>
<rect x="477.65" y="177.96" width="4.6" height="4.61" fill="#1763cf"/>
<rect x="482.21" y="177.96" width="4.6" height="4.61" fill="#1763cf"/>
<rect x="486.76" y="177.96" width="4.6" height="4.61" fill="#1763cf"/>
<rect x="491.31" y="177.96" width="4.6" height="4.61" fill="#1763cf"/>
<rect x="495.87" y="177.96" width="4.6" height="4.61" fill="#17a098"/>
<rect x="500.42" y="177.96" width="4.6" height="4.61" fill="#17a098"/>
<rect x="504.97" y="177.96" width="4.6" height="4.61" fill="#17a098"/>
<rect x="509.52" y="177.96" width="4.6" height="4.61" fill="#17a098"/>
<rect x="514.08" y="177.96" width="4.6" height="4.61" fill="#17a098"/>
<rect x="518.63" y="177.96" width="4.6" height="4.61" fill="#17a098"/>
<rect x="523.18" y="177.96" width="4.6" height="4.61" fill="#0b6b68"/>
<rect x="527.74" y="177.96" width="4.6" height="4.61" fill="#aac9f0"/>
<rect x="532.29" y="177.96" width="4.6" height="4.61" fill="#7faae3"/>
<rect x="536.84" y="177.96" width="4.6" height="4.61" fill="#7faae3"/>
<rect x="473.1" y="182.52" width="4.6" height="4.61" fill="#1763cf"/>
<rect x="477.65" y="182.52" width="4.6" height="4.61" fill="#1763cf"/>
<rect x="482.21" y="182.52" width="4.6" height="4.61" fill="#1763cf"/>
<rect x="486.76" y="182.52" width="4.6" height="4.61" fill="#1763cf"/>
<rect x="491.31" y="182.52" width="4.6" height="4.61" fill="#1763cf"/>
<rect x="495.87" y="182.52" width="4.6" height="4.61" fill="#17a098"/>
<rect x="500.42" y="182.52" width="4.6" height="4.61" fill="#17a098"/>
<rect x="504.97" y="182.52" width="4.6" height="4.61" fill="#17a098"/>
<rect x="509.52" y="182.52" width="4.6" height="4.61" fill="#17a098"/>
<rect x="514.08" y="182.52" width="4.6" height="4.61" fill="#17a098"/>
<rect x="518.63" y="182.52" width="4.6" height="4.61" fill="#17a098"/>
<rect x="523.18" y="182.52" width="4.6" height="4.61" fill="#0b6b68"/>
<rect x="527.74" y="182.52" width="4.6" height="4.61" fill="#aac9f0"/>
<rect x="532.29" y="182.52" width="4.6" height="4.61" fill="#7faae3"/>
<rect x="536.84" y="182.52" width="4.6" height="4.61" fill="#7faae3"/>
<rect x="473.1" y="187.08" width="4.6" height="4.61" fill="#1763cf"/>
<rect x="477.65" y="187.08" width="4.6" height="4.61" fill="#1763cf"/>
<rect x="482.21" y="187.08" width="4.6" height="4.61" fill="#1763cf"/>
<rect x="486.76" y="187.08" width="4.6" height="4.61" fill="#1763cf"/>
<rect x="491.31" y="187.08" width="4.6" height="4.61" fill="#1763cf"/>
<rect x="495.87" y="187.08" width="4.6" height="4.61" fill="#1763cf"/>
<rect x="500.42" y="187.08" width="4.6" height="4.61" fill="#17a098"/>
<rect x="504.97" y="187.08" width="4.6" height="4.61" fill="#17a098"/>
<rect x="509.52" y="187.08" width="4.6" height="4.61" fill="#17a098"/>
<rect x="514.08" y="187.08" width="4.6" height="4.61" fill="#17a098"/>
<rect x="518.63" y="187.08" width="4.6" height="4.61" fill="#17a098"/>
<rect x="523.18" y="187.08" width="4.6" height="4.61" fill="#7faae3"/>
<rect x="527.74" y="187.08" width="4.6" height="4.61" fill="#7faae3"/>
<rect x="532.29" y="187.08" width="4.6" height="4.61" fill="#2d4f9e"/>
<rect x="536.84" y="187.08" width="4.6" height="4.61" fill="#2d4f9e"/>
<rect x="473.1" y="191.64" width="4.6" height="4.61" fill="#0b6b68"/>
<rect x="477.65" y="191.64" width="4.6" height="4.61" fill="#1763cf"/>
<rect x="482.21" y="191.64" width="4.6" height="4.61" fill="#1763cf"/>
<rect x="486.76" y="191.64" width="4.6" height="4.61" fill="#1763cf"/>
<rect x="491.31" y="191.64" width="4.6" height="4.61" fill="#1763cf"/>
<rect x="495.87" y="191.64" width="4.6" height="4.61" fill="#1763cf"/>
<rect x="500.42" y="191.64" width="4.6" height="4.61" fill="#1763cf"/>
<rect x="504.97" y="191.64" width="4.6" height="4.61" fill="#1763cf"/>
<rect x="509.52" y="191.64" width="4.6" height="4.61" fill="#1763cf"/>
<rect x="514.08" y="191.64" width="4.6" height="4.61" fill="#17a098"/>
<rect x="518.63" y="191.64" width="4.6" height="4.61" fill="#17a098"/>
<rect x="523.18" y="191.64" width="4.6" height="4.61" fill="#2d4f9e"/>
<rect x="527.74" y="191.64" width="4.6" height="4.61" fill="#7faae3"/>
<rect x="532.29" y="191.64" width="4.6" height="4.61" fill="#2d4f9e"/>
<rect x="536.84" y="191.64" width="4.6" height="4.61" fill="#2d4f9e"/>
<rect x="473.1" y="196.2" width="4.6" height="4.61" fill="#17a098"/>
<rect x="477.65" y="196.2" width="4.6" height="4.61" fill="#1763cf"/>
<rect x="482.21" y="196.2" width="4.6" height="4.61" fill="#1763cf"/>
<rect x="486.76" y="196.2" width="4.6" height="4.61" fill="#1763cf"/>
<rect x="491.31" y="196.2" width="4.6" height="4.61" fill="#1763cf"/>
<rect x="495.87" y="196.2" width="4.6" height="4.61" fill="#1763cf"/>
<rect x="500.42" y="196.2" width="4.6" height="4.61" fill="#1763cf"/>
<rect x="504.97" y="196.2" width="4.6" height="4.61" fill="#1763cf"/>
<rect x="509.52" y="196.2" width="4.6" height="4.61" fill="#7faae3"/>
<rect x="514.08" y="196.2" width="4.6" height="4.61" fill="#1763cf"/>
<rect x="518.63" y="196.2" width="4.6" height="4.61" fill="#7faae3"/>
<rect x="523.18" y="196.2" width="4.6" height="4.61" fill="#7faae3"/>
<rect x="527.74" y="196.2" width="4.6" height="4.61" fill="#2d4f9e"/>
<rect x="532.29" y="196.2" width="4.6" height="4.61" fill="#2d4f9e"/>
<rect x="536.84" y="196.2" width="4.6" height="4.61" fill="#2d4f9e"/>
<rect x="473.1" y="200.76" width="4.6" height="4.61" fill="#17a098"/>
<rect x="477.65" y="200.76" width="4.6" height="4.61" fill="#1763cf"/>
<rect x="482.21" y="200.76" width="4.6" height="4.61" fill="#1763cf"/>
<rect x="486.76" y="200.76" width="4.6" height="4.61" fill="#1763cf"/>
<rect x="491.31" y="200.76" width="4.6" height="4.61" fill="#1763cf"/>
<rect x="495.87" y="200.76" width="4.6" height="4.61" fill="#1763cf"/>
<rect x="500.42" y="200.76" width="4.6" height="4.61" fill="#1763cf"/>
<rect x="504.97" y="200.76" width="4.6" height="4.61" fill="#1763cf"/>
<rect x="509.52" y="200.76" width="4.6" height="4.61" fill="#1763cf"/>
<rect x="514.08" y="200.76" width="4.6" height="4.61" fill="#7faae3"/>
<rect x="518.63" y="200.76" width="4.6" height="4.61" fill="#7faae3"/>
<rect x="523.18" y="200.76" width="4.6" height="4.61" fill="#7faae3"/>
<rect x="527.74" y="200.76" width="4.6" height="4.61" fill="#2d4f9e"/>
<rect x="532.29" y="200.76" width="4.6" height="4.61" fill="#2d4f9e"/>
<rect x="536.84" y="200.76" width="4.6" height="4.61" fill="#2d4f9e"/>
<rect x="473.1" y="205.32" width="4.6" height="4.61" fill="#17a098"/>
<rect x="477.65" y="205.32" width="4.6" height="4.61" fill="#1763cf"/>
<rect x="482.21" y="205.32" width="4.6" height="4.61" fill="#1763cf"/>
<rect x="486.76" y="205.32" width="4.6" height="4.61" fill="#1763cf"/>
<rect x="491.31" y="205.32" width="4.6" height="4.61" fill="#1763cf"/>
<rect x="495.87" y="205.32" width="4.6" height="4.61" fill="#1763cf"/>
<rect x="500.42" y="205.32" width="4.6" height="4.61" fill="#1763cf"/>
<rect x="504.97" y="205.32" width="4.6" height="4.61" fill="#1763cf"/>
<rect x="509.52" y="205.32" width="4.6" height="4.61" fill="#1763cf"/>
<rect x="514.08" y="205.32" width="4.6" height="4.61" fill="#7faae3"/>
<rect x="518.63" y="205.32" width="4.6" height="4.61" fill="#7faae3"/>
<rect x="523.18" y="205.32" width="4.6" height="4.61" fill="#7faae3"/>
<rect x="527.74" y="205.32" width="4.6" height="4.61" fill="#2d4f9e"/>
<rect x="532.29" y="205.32" width="4.6" height="4.61" fill="#2d4f9e"/>
<rect x="536.84" y="205.32" width="4.6" height="4.61" fill="#2d4f9e"/>
<rect x="473.1" y="209.88" width="4.6" height="4.61" fill="#1763cf"/>
<rect x="477.65" y="209.88" width="4.6" height="4.61" fill="#1763cf"/>
<rect x="482.21" y="209.88" width="4.6" height="4.61" fill="#1763cf"/>
<rect x="486.76" y="209.88" width="4.6" height="4.61" fill="#1763cf"/>
<rect x="491.31" y="209.88" width="4.6" height="4.61" fill="#1763cf"/>
<rect x="495.87" y="209.88" width="4.6" height="4.61" fill="#1763cf"/>
<rect x="500.42" y="209.88" width="4.6" height="4.61" fill="#1763cf"/>
<rect x="504.97" y="209.88" width="4.6" height="4.61" fill="#1763cf"/>
<rect x="509.52" y="209.88" width="4.6" height="4.61" fill="#7faae3"/>
<rect x="514.08" y="209.88" width="4.6" height="4.61" fill="#7faae3"/>
<rect x="518.63" y="209.88" width="4.6" height="4.61" fill="#7faae3"/>
<rect x="523.18" y="209.88" width="4.6" height="4.61" fill="#7faae3"/>
<rect x="527.74" y="209.88" width="4.6" height="4.61" fill="#7faae3"/>
<rect x="532.29" y="209.88" width="4.6" height="4.61" fill="#2d4f9e"/>
<rect x="536.84" y="209.88" width="4.6" height="4.61" fill="#2d4f9e"/>
<rect x="473.1" y="214.44" width="4.6" height="4.61" fill="#1763cf"/>
<rect x="477.65" y="214.44" width="4.6" height="4.61" fill="#1763cf"/>
<rect x="482.21" y="214.44" width="4.6" height="4.61" fill="#1763cf"/>
<rect x="486.76" y="214.44" width="4.6" height="4.61" fill="#1763cf"/>
<rect x="491.31" y="214.44" width="4.6" height="4.61" fill="#1763cf"/>
<rect x="495.87" y="214.44" width="4.6" height="4.61" fill="#1763cf"/>
<rect x="500.42" y="214.44" width="4.6" height="4.61" fill="#1763cf"/>
<rect x="504.97" y="214.44" width="4.6" height="4.61" fill="#7faae3"/>
<rect x="509.52" y="214.44" width="4.6" height="4.61" fill="#7faae3"/>
<rect x="514.08" y="214.44" width="4.6" height="4.61" fill="#7faae3"/>
<rect x="518.63" y="214.44" width="4.6" height="4.61" fill="#7faae3"/>
<rect x="523.18" y="214.44" width="4.6" height="4.61" fill="#7faae3"/>
<rect x="527.74" y="214.44" width="4.6" height="4.61" fill="#7faae3"/>
<rect x="532.29" y="214.44" width="4.6" height="4.61" fill="#2d4f9e"/>
<rect x="536.84" y="214.44" width="4.6" height="4.61" fill="#2d4f9e"/>
<path d="M473.1 127.8V219M477.65 127.8V219M482.21 127.8V219M486.76 127.8V219M491.31 127.8V219M495.87 127.8V219M500.42 127.8V219M504.97 127.8V219M509.52 127.8V219M514.08 127.8V219M518.63 127.8V219M523.18 127.8V219M527.74 127.8V219M532.29 127.8V219M536.84 127.8V219M541.39 127.8V219M473.1 127.8H541.39M473.1 132.36H541.39M473.1 136.92H541.39M473.1 141.48H541.39M473.1 146.04H541.39M473.1 150.6H541.39M473.1 155.16H541.39M473.1 159.72H541.39M473.1 164.28H541.39M473.1 168.84H541.39M473.1 173.4H541.39M473.1 177.96H541.39M473.1 182.52H541.39M473.1 187.08H541.39M473.1 191.64H541.39M473.1 196.2H541.39M473.1 200.76H541.39M473.1 205.32H541.39M473.1 209.88H541.39M473.1 214.44H541.39M473.1 219H541.39" stroke="#0a3a4a" stroke-opacity="0.4" stroke-width="0.45" fill="none"/>
<path d="M470.3 129.3V221.6H540.39" stroke="#aaa" stroke-width="0.55" fill="none"/>
<path d="M470.3 130.08H473.1" stroke="#666" stroke-width="0.4"/>
<text x="469.8" y="131.78" font-size="5.0" font-family="'Liberation Serif', 'DejaVu Serif', serif" text-anchor="end" fill="#333" stroke="#333" stroke-width="0.09" >1</text>
<path d="M470.3 148.32H473.1" stroke="#666" stroke-width="0.4"/>
<text x="469.8" y="150.02" font-size="5.0" font-family="'Liberation Serif', 'DejaVu Serif', serif" text-anchor="end" fill="#333" stroke="#333" stroke-width="0.09" >5</text>
<path d="M470.3 171.12H473.1" stroke="#666" stroke-width="0.4"/>
<text x="469.8" y="172.82" font-size="5.0" font-family="'Liberation Serif', 'DejaVu Serif', serif" text-anchor="end" fill="#333" stroke="#333" stroke-width="0.09" >10</text>
<path d="M470.3 193.92H473.1" stroke="#666" stroke-width="0.4"/>
<text x="469.8" y="195.62" font-size="5.0" font-family="'Liberation Serif', 'DejaVu Serif', serif" text-anchor="end" fill="#333" stroke="#333" stroke-width="0.09" >15</text>
<path d="M470.3 216.72H473.1" stroke="#666" stroke-width="0.4"/>
<text x="469.8" y="218.42" font-size="5.0" font-family="'Liberation Serif', 'DejaVu Serif', serif" text-anchor="end" fill="#333" stroke="#333" stroke-width="0.09" >20</text>
<path d="M475.38 219V221.6" stroke="#666" stroke-width="0.4"/>
<text x="475.38" y="225.5" font-size="5.0" font-family="'Liberation Serif', 'DejaVu Serif', serif" text-anchor="middle" fill="#333" stroke="#333" stroke-width="0.09" >1</text>
<path d="M493.59 219V221.6" stroke="#666" stroke-width="0.4"/>
<text x="493.59" y="225.5" font-size="5.0" font-family="'Liberation Serif', 'DejaVu Serif', serif" text-anchor="middle" fill="#333" stroke="#333" stroke-width="0.09" >5</text>
<path d="M516.35 219V221.6" stroke="#666" stroke-width="0.4"/>
<text x="516.35" y="225.5" font-size="5.0" font-family="'Liberation Serif', 'DejaVu Serif', serif" text-anchor="middle" fill="#333" stroke="#333" stroke-width="0.09" >10</text>
<path d="M539.12 219V221.6" stroke="#666" stroke-width="0.4"/>
<text x="539.12" y="225.5" font-size="5.0" font-family="'Liberation Serif', 'DejaVu Serif', serif" text-anchor="middle" fill="#333" stroke="#333" stroke-width="0.09" >15</text>
<rect x="14.8" y="111.6" width="154.6" height="136.1" fill="none" stroke="#858585" stroke-width="0.85"/>
<circle cx="20.9" cy="118" r="4.0" fill="#8b1a8f"/>
<text x="20.9" y="119.9" font-size="5.4" font-family="'Liberation Sans', sans-serif" text-anchor="middle" fill="#fff" font-weight="bold">1</text>
<path d="M24.8 182.4H20.8L59.5 131.6H63.2" stroke="#444" stroke-width="0.5" fill="none"/>
<text x="0" y="0" font-size="7.2" font-family="'Liberation Serif', 'DejaVu Serif', serif" text-anchor="middle" fill="#111" stroke="#111" stroke-width="0.12" transform="translate(36.9 154.4) rotate(-52.6)">grid of neurons</text>
<path d="M32.1 179.8L56.3 220.5M32.1 179.8L74 220.5M32.1 179.8L109.5 220.8M40.31 180.22L56.3 220.5M40.31 180.22L74 220.5M40.31 180.22L109.5 220.8M48.52 180.65L56.3 220.5M48.52 180.65L74 220.5M48.52 180.65L109.5 220.8M56.73 181.07L56.3 220.5M56.73 181.07L74 220.5M56.73 181.07L109.5 220.8M64.93 181.5L56.3 220.5M64.93 181.5L74 220.5M64.93 181.5L109.5 220.8M73.14 181.92L56.3 220.5M73.14 181.92L74 220.5M73.14 181.92L109.5 220.8M81.35 182.35L56.3 220.5M81.35 182.35L74 220.5M81.35 182.35L109.5 220.8M89.56 182.77L56.3 220.5M89.56 182.77L74 220.5M89.56 182.77L109.5 220.8M97.77 183.2L56.3 220.5M97.77 183.2L74 220.5M97.77 183.2L109.5 220.8M105.97 183.62L56.3 220.5M105.97 183.62L74 220.5M105.97 183.62L109.5 220.8M114.18 184.05L56.3 220.5M114.18 184.05L74 220.5M114.18 184.05L109.5 220.8M122.39 184.47L56.3 220.5M122.39 184.47L74 220.5M122.39 184.47L109.5 220.8M130.6 184.9L56.3 220.5M130.6 184.9L74 220.5M130.6 184.9L109.5 220.8" stroke="#141414" stroke-width="0.42" fill="none"/>
<path d="M66.10 135.10L62.32 139.93" stroke="#0b6a66" stroke-width="1.25"/>
<ellipse cx="66.10" cy="135.10" rx="4.10" ry="1.85" fill="#0b6a66"/>
<path d="M76.20 135.37L72.52 140.23" stroke="#0b6a66" stroke-width="1.25"/>
<ellipse cx="76.20" cy="135.37" rx="4.10" ry="1.85" fill="#0b6a66"/>
<path d="M86.30 135.63L82.71 140.53" stroke="#0b6a66" stroke-width="1.25"/>
<ellipse cx="86.30" cy="135.63" rx="4.10" ry="1.85" fill="#0b6a66"/>
<path d="M96.40 135.90L92.90 140.83" stroke="#0b6a66" stroke-width="1.25"/>
<ellipse cx="96.40" cy="135.90" rx="4.10" ry="1.85" fill="#0b6a66"/>
<path d="M106.50 136.17L103.10 141.13" stroke="#0b6a66" stroke-width="1.25"/>
<ellipse cx="106.50" cy="136.17" rx="4.10" ry="1.85" fill="#0b6a66"/>
<path d="M116.60 136.43L113.29 141.43" stroke="#0b6a66" stroke-width="1.25"/>
<ellipse cx="116.60" cy="136.43" rx="4.10" ry="1.85" fill="#0b6a66"/>
<path d="M126.70 136.70L123.49 141.73" stroke="#0b6a66" stroke-width="1.25"/>
<ellipse cx="126.70" cy="136.70" rx="4.10" ry="1.85" fill="#0b6a66"/>
<path d="M136.80 136.97L133.68 142.03" stroke="#0b6a66" stroke-width="1.25"/>
<ellipse cx="136.80" cy="136.97" rx="4.10" ry="1.85" fill="#0b6a66"/>
<path d="M146.90 137.23L143.87 142.33" stroke="#0b6a66" stroke-width="1.25"/>
<ellipse cx="146.90" cy="137.23" rx="4.10" ry="1.85" fill="#0b6a66"/>
<path d="M157.00 137.50L154.07 142.63" stroke="#0b6a66" stroke-width="1.25"/>
<ellipse cx="157.00" cy="137.50" rx="4.10" ry="1.85" fill="#0b6a66"/>
<path d="M62.32 139.93L58.54 144.77" stroke="#0b6a66" stroke-width="1.25"/>
<ellipse cx="62.32" cy="139.93" rx="4.14" ry="1.87" fill="#0b6a66"/>
<path d="M72.52 140.23L68.83 145.10" stroke="#0b6a66" stroke-width="1.25"/>
<ellipse cx="72.52" cy="140.23" rx="4.14" ry="1.87" fill="#0b6a66"/>
<path d="M82.71 140.53L79.12 145.43" stroke="#0b6a66" stroke-width="1.25"/>
<ellipse cx="82.71" cy="140.53" rx="4.14" ry="1.87" fill="#0b6a66"/>
<path d="M92.90 140.83L89.41 145.77" stroke="#0b6a66" stroke-width="1.25"/>
<ellipse cx="92.90" cy="140.83" rx="4.14" ry="1.87" fill="#0b6a66"/>
<path d="M103.10 141.13L99.70 146.10" stroke="#0b6a66" stroke-width="1.25"/>
<ellipse cx="103.10" cy="141.13" rx="4.14" ry="1.87" fill="#0b6a66"/>
<path d="M113.29 141.43L109.98 146.43" stroke="#0b6a66" stroke-width="1.25"/>
<ellipse cx="113.29" cy="141.43" rx="4.14" ry="1.87" fill="#0b6a66"/>
<path d="M123.49 141.73L120.27 146.77" stroke="#0b6a66" stroke-width="1.25"/>
<ellipse cx="123.49" cy="141.73" rx="4.14" ry="1.87" fill="#0b6a66"/>
<path d="M133.68 142.03L130.56 147.10" stroke="#0b6a66" stroke-width="1.25"/>
<ellipse cx="133.68" cy="142.03" rx="4.14" ry="1.87" fill="#0b6a66"/>
<path d="M143.87 142.33L140.85 147.43" stroke="#0b6a66" stroke-width="1.25"/>
<ellipse cx="143.87" cy="142.33" rx="4.14" ry="1.87" fill="#0b6a66"/>
<path d="M154.07 142.63L151.13 147.77" stroke="#0b6a66" stroke-width="1.25"/>
<ellipse cx="154.07" cy="142.63" rx="4.14" ry="1.87" fill="#0b6a66"/>
<path d="M58.54 144.77L54.77 149.60" stroke="#0b6a66" stroke-width="1.25"/>
<ellipse cx="58.54" cy="144.77" rx="4.19" ry="1.88" fill="#0b6a66"/>
<path d="M68.83 145.10L65.15 149.97" stroke="#0b6a66" stroke-width="1.25"/>
<ellipse cx="68.83" cy="145.10" rx="4.19" ry="1.88" fill="#0b6a66"/>
<path d="M79.12 145.43L75.53 150.33" stroke="#0b6a66" stroke-width="1.25"/>
<ellipse cx="79.12" cy="145.43" rx="4.19" ry="1.88" fill="#0b6a66"/>
<path d="M89.41 145.77L85.91 150.70" stroke="#0b6a66" stroke-width="1.25"/>
<ellipse cx="89.41" cy="145.77" rx="4.19" ry="1.88" fill="#0b6a66"/>
<path d="M99.70 146.10L96.29 151.07" stroke="#0b6a66" stroke-width="1.25"/>
<ellipse cx="99.70" cy="146.10" rx="4.19" ry="1.88" fill="#0b6a66"/>
<path d="M109.98 146.43L106.67 151.43" stroke="#0b6a66" stroke-width="1.25"/>
<ellipse cx="109.98" cy="146.43" rx="4.19" ry="1.88" fill="#0b6a66"/>
<path d="M120.27 146.77L117.06 151.80" stroke="#0b6a66" stroke-width="1.25"/>
<ellipse cx="120.27" cy="146.77" rx="4.19" ry="1.88" fill="#0b6a66"/>
<path d="M130.56 147.10L127.44 152.17" stroke="#0b6a66" stroke-width="1.25"/>
<ellipse cx="130.56" cy="147.10" rx="4.19" ry="1.88" fill="#0b6a66"/>
<path d="M140.85 147.43L137.82 152.53" stroke="#0b6a66" stroke-width="1.25"/>
<ellipse cx="140.85" cy="147.43" rx="4.19" ry="1.88" fill="#0b6a66"/>
<path d="M151.13 147.77L148.20 152.90" stroke="#0b6a66" stroke-width="1.25"/>
<ellipse cx="151.13" cy="147.77" rx="4.19" ry="1.88" fill="#0b6a66"/>
<path d="M54.77 149.60L50.99 154.43" stroke="#0b6a66" stroke-width="1.25"/>
<ellipse cx="54.77" cy="149.60" rx="4.23" ry="1.90" fill="#0b6a66"/>
<path d="M65.15 149.97L61.46 154.83" stroke="#0b6a66" stroke-width="1.25"/>
<ellipse cx="65.15" cy="149.97" rx="4.23" ry="1.90" fill="#0b6a66"/>
<path d="M75.53 150.33L71.94 155.23" stroke="#0b6a66" stroke-width="1.25"/>
<ellipse cx="75.53" cy="150.33" rx="4.23" ry="1.90" fill="#0b6a66"/>
<path d="M85.91 150.70L82.41 155.63" stroke="#0b6a66" stroke-width="1.25"/>
<ellipse cx="85.91" cy="150.70" rx="4.23" ry="1.90" fill="#0b6a66"/>
<path d="M96.29 151.07L92.89 156.03" stroke="#0b6a66" stroke-width="1.25"/>
<ellipse cx="96.29" cy="151.07" rx="4.23" ry="1.90" fill="#0b6a66"/>
<path d="M106.67 151.43L103.37 156.43" stroke="#0b6a66" stroke-width="1.25"/>
<ellipse cx="106.67" cy="151.43" rx="4.23" ry="1.90" fill="#0b6a66"/>
<path d="M117.06 151.80L113.84 156.83" stroke="#0b6a66" stroke-width="1.25"/>
<ellipse cx="117.06" cy="151.80" rx="4.23" ry="1.90" fill="#0b6a66"/>
<path d="M127.44 152.17L124.32 157.23" stroke="#0b6a66" stroke-width="1.25"/>
<ellipse cx="127.44" cy="152.17" rx="4.23" ry="1.90" fill="#0b6a66"/>
<path d="M137.82 152.53L134.79 157.63" stroke="#0b6a66" stroke-width="1.25"/>
<ellipse cx="137.82" cy="152.53" rx="4.23" ry="1.90" fill="#0b6a66"/>
<path d="M148.20 152.90L145.27 158.03" stroke="#0b6a66" stroke-width="1.25"/>
<ellipse cx="148.20" cy="152.90" rx="4.23" ry="1.90" fill="#0b6a66"/>
<path d="M50.99 154.43L47.21 159.27" stroke="#0b6a66" stroke-width="1.25"/>
<ellipse cx="50.99" cy="154.43" rx="4.28" ry="1.92" fill="#0b6a66"/>
<path d="M61.46 154.83L57.78 159.70" stroke="#0b6a66" stroke-width="1.25"/>
<ellipse cx="61.46" cy="154.83" rx="4.28" ry="1.92" fill="#0b6a66"/>
<path d="M71.94 155.23L68.35 160.13" stroke="#0b6a66" stroke-width="1.25"/>
<ellipse cx="71.94" cy="155.23" rx="4.28" ry="1.92" fill="#0b6a66"/>
<path d="M82.41 155.63L78.92 160.57" stroke="#0b6a66" stroke-width="1.25"/>
<ellipse cx="82.41" cy="155.63" rx="4.28" ry="1.92" fill="#0b6a66"/>
<path d="M92.89 156.03L89.49 161.00" stroke="#0b6a66" stroke-width="1.25"/>
<ellipse cx="92.89" cy="156.03" rx="4.28" ry="1.92" fill="#0b6a66"/>
<path d="M103.37 156.43L100.06 161.43" stroke="#0b6a66" stroke-width="1.25"/>
<ellipse cx="103.37" cy="156.43" rx="4.28" ry="1.92" fill="#0b6a66"/>
<path d="M113.84 156.83L110.63 161.87" stroke="#0b6a66" stroke-width="1.25"/>
<ellipse cx="113.84" cy="156.83" rx="4.28" ry="1.92" fill="#0b6a66"/>
<path d="M124.32 157.23L121.20 162.30" stroke="#0b6a66" stroke-width="1.25"/>
<ellipse cx="124.32" cy="157.23" rx="4.28" ry="1.92" fill="#0b6a66"/>
<path d="M134.79 157.63L131.76 162.73" stroke="#0b6a66" stroke-width="1.25"/>
<ellipse cx="134.79" cy="157.63" rx="4.28" ry="1.92" fill="#0b6a66"/>
<path d="M145.27 158.03L142.33 163.17" stroke="#0b6a66" stroke-width="1.25"/>
<ellipse cx="145.27" cy="158.03" rx="4.28" ry="1.92" fill="#0b6a66"/>
<path d="M47.21 159.27L43.43 164.10" stroke="#0b6a66" stroke-width="1.25"/>
<ellipse cx="47.21" cy="159.27" rx="4.32" ry="1.93" fill="#0b6a66"/>
<path d="M57.78 159.70L54.10 164.57" stroke="#0b6a66" stroke-width="1.25"/>
<ellipse cx="57.78" cy="159.70" rx="4.32" ry="1.93" fill="#0b6a66"/>
<path d="M68.35 160.13L64.76 165.03" stroke="#0b6a66" stroke-width="1.25"/>
<ellipse cx="68.35" cy="160.13" rx="4.32" ry="1.93" fill="#0b6a66"/>
<path d="M78.92 160.57L75.42 165.50" stroke="#0b6a66" stroke-width="1.25"/>
<ellipse cx="78.92" cy="160.57" rx="4.32" ry="1.93" fill="#0b6a66"/>
<path d="M89.49 161.00L86.09 165.97" stroke="#0b6a66" stroke-width="1.25"/>
<ellipse cx="89.49" cy="161.00" rx="4.32" ry="1.93" fill="#0b6a66"/>
<path d="M100.06 161.43L96.75 166.43" stroke="#0b6a66" stroke-width="1.25"/>
<ellipse cx="100.06" cy="161.43" rx="4.32" ry="1.93" fill="#0b6a66"/>
<path d="M110.63 161.87L107.41 166.90" stroke="#0b6a66" stroke-width="1.25"/>
<ellipse cx="110.63" cy="161.87" rx="4.32" ry="1.93" fill="#0b6a66"/>
<path d="M121.20 162.30L118.07 167.37" stroke="#0b6a66" stroke-width="1.25"/>
<ellipse cx="121.20" cy="162.30" rx="4.32" ry="1.93" fill="#0b6a66"/>
<path d="M131.76 162.73L128.74 167.83" stroke="#0b6a66" stroke-width="1.25"/>
<ellipse cx="131.76" cy="162.73" rx="4.32" ry="1.93" fill="#0b6a66"/>
<path d="M142.33 163.17L139.40 168.30" stroke="#0b6a66" stroke-width="1.25"/>
<ellipse cx="142.33" cy="163.17" rx="4.32" ry="1.93" fill="#0b6a66"/>
<path d="M43.43 164.10L39.66 168.93" stroke="#0b6a66" stroke-width="1.25"/>
<ellipse cx="43.43" cy="164.10" rx="4.37" ry="1.95" fill="#0b6a66"/>
<path d="M54.10 164.57L50.41 169.43" stroke="#0b6a66" stroke-width="1.25"/>
<ellipse cx="54.10" cy="164.57" rx="4.37" ry="1.95" fill="#0b6a66"/>
<path d="M64.76 165.03L61.17 169.93" stroke="#0b6a66" stroke-width="1.25"/>
<ellipse cx="64.76" cy="165.03" rx="4.37" ry="1.95" fill="#0b6a66"/>
<path d="M75.42 165.50L71.93 170.43" stroke="#0b6a66" stroke-width="1.25"/>
<ellipse cx="75.42" cy="165.50" rx="4.37" ry="1.95" fill="#0b6a66"/>
<path d="M86.09 165.97L82.68 170.93" stroke="#0b6a66" stroke-width="1.25"/>
<ellipse cx="86.09" cy="165.97" rx="4.37" ry="1.95" fill="#0b6a66"/>
<path d="M96.75 166.43L93.44 171.43" stroke="#0b6a66" stroke-width="1.25"/>
<ellipse cx="96.75" cy="166.43" rx="4.37" ry="1.95" fill="#0b6a66"/>
<path d="M107.41 166.90L104.20 171.93" stroke="#0b6a66" stroke-width="1.25"/>
<ellipse cx="107.41" cy="166.90" rx="4.37" ry="1.95" fill="#0b6a66"/>
<path d="M118.07 167.37L114.95 172.43" stroke="#0b6a66" stroke-width="1.25"/>
<ellipse cx="118.07" cy="167.37" rx="4.37" ry="1.95" fill="#0b6a66"/>
<path d="M128.74 167.83L125.71 172.93" stroke="#0b6a66" stroke-width="1.25"/>
<ellipse cx="128.74" cy="167.83" rx="4.37" ry="1.95" fill="#0b6a66"/>
<path d="M139.40 168.30L136.47 173.43" stroke="#0b6a66" stroke-width="1.25"/>
<ellipse cx="139.40" cy="168.30" rx="4.37" ry="1.95" fill="#0b6a66"/>
<path d="M39.66 168.93L35.88 173.77" stroke="#0b6a66" stroke-width="1.25"/>
<ellipse cx="39.66" cy="168.93" rx="4.41" ry="1.97" fill="#0b6a66"/>
<path d="M50.41 169.43L46.73 174.30" stroke="#0b6a66" stroke-width="1.25"/>
<ellipse cx="50.41" cy="169.43" rx="4.41" ry="1.97" fill="#0b6a66"/>
<path d="M61.17 169.93L57.58 174.83" stroke="#0b6a66" stroke-width="1.25"/>
<ellipse cx="61.17" cy="169.93" rx="4.41" ry="1.97" fill="#0b6a66"/>
<path d="M71.93 170.43L68.43 175.37" stroke="#0b6a66" stroke-width="1.25"/>
<ellipse cx="71.93" cy="170.43" rx="4.41" ry="1.97" fill="#0b6a66"/>
<path d="M82.68 170.93L79.28 175.90" stroke="#0b6a66" stroke-width="1.25"/>
<ellipse cx="82.68" cy="170.93" rx="4.41" ry="1.97" fill="#0b6a66"/>
<path d="M93.44 171.43L90.13 176.43" stroke="#0b6a66" stroke-width="1.25"/>
<ellipse cx="93.44" cy="171.43" rx="4.41" ry="1.97" fill="#0b6a66"/>
<path d="M104.20 171.93L100.98 176.97" stroke="#0b6a66" stroke-width="1.25"/>
<ellipse cx="104.20" cy="171.93" rx="4.41" ry="1.97" fill="#0b6a66"/>
<path d="M114.95 172.43L111.83 177.50" stroke="#0b6a66" stroke-width="1.25"/>
<ellipse cx="114.95" cy="172.43" rx="4.41" ry="1.97" fill="#0b6a66"/>
<path d="M125.71 172.93L122.68 178.03" stroke="#0b6a66" stroke-width="1.25"/>
<ellipse cx="125.71" cy="172.93" rx="4.41" ry="1.97" fill="#0b6a66"/>
<path d="M136.47 173.43L133.53 178.57" stroke="#0b6a66" stroke-width="1.25"/>
<ellipse cx="136.47" cy="173.43" rx="4.41" ry="1.97" fill="#0b6a66"/>
<path d="M35.88 173.77L32.10 178.60" stroke="#0b6a66" stroke-width="1.25"/>
<ellipse cx="35.88" cy="173.77" rx="4.46" ry="1.98" fill="#0b6a66"/>
<path d="M46.73 174.30L43.04 179.17" stroke="#0b6a66" stroke-width="1.25"/>
<ellipse cx="46.73" cy="174.30" rx="4.46" ry="1.98" fill="#0b6a66"/>
<path d="M57.58 174.83L53.99 179.73" stroke="#0b6a66" stroke-width="1.25"/>
<ellipse cx="57.58" cy="174.83" rx="4.46" ry="1.98" fill="#0b6a66"/>
<path d="M68.43 175.37L64.93 180.30" stroke="#0b6a66" stroke-width="1.25"/>
<ellipse cx="68.43" cy="175.37" rx="4.46" ry="1.98" fill="#0b6a66"/>
<path d="M79.28 175.90L75.88 180.87" stroke="#0b6a66" stroke-width="1.25"/>
<ellipse cx="79.28" cy="175.90" rx="4.46" ry="1.98" fill="#0b6a66"/>
<path d="M90.13 176.43L86.82 181.43" stroke="#0b6a66" stroke-width="1.25"/>
<ellipse cx="90.13" cy="176.43" rx="4.46" ry="1.98" fill="#0b6a66"/>
<path d="M100.98 176.97L97.77 182.00" stroke="#0b6a66" stroke-width="1.25"/>
<ellipse cx="100.98" cy="176.97" rx="4.46" ry="1.98" fill="#0b6a66"/>
<path d="M111.83 177.50L108.71 182.57" stroke="#0b6a66" stroke-width="1.25"/>
<ellipse cx="111.83" cy="177.50" rx="4.46" ry="1.98" fill="#0b6a66"/>
<path d="M122.68 178.03L119.66 183.13" stroke="#0b6a66" stroke-width="1.25"/>
<ellipse cx="122.68" cy="178.03" rx="4.46" ry="1.98" fill="#0b6a66"/>
<path d="M133.53 178.57L130.60 183.70" stroke="#0b6a66" stroke-width="1.25"/>
<ellipse cx="133.53" cy="178.57" rx="4.46" ry="1.98" fill="#0b6a66"/>
<ellipse cx="32.10" cy="178.60" rx="4.50" ry="2.00" fill="#0b6a66"/>
<ellipse cx="43.04" cy="179.17" rx="4.50" ry="2.00" fill="#0b6a66"/>
<ellipse cx="53.99" cy="179.73" rx="4.50" ry="2.00" fill="#0b6a66"/>
<ellipse cx="64.93" cy="180.30" rx="4.50" ry="2.00" fill="#0b6a66"/>
<ellipse cx="75.88" cy="180.87" rx="4.50" ry="2.00" fill="#0b6a66"/>
<ellipse cx="86.82" cy="181.43" rx="4.50" ry="2.00" fill="#0b6a66"/>
<ellipse cx="97.77" cy="182.00" rx="4.50" ry="2.00" fill="#0b6a66"/>
<ellipse cx="108.71" cy="182.57" rx="4.50" ry="2.00" fill="#0b6a66"/>
<ellipse cx="119.66" cy="183.13" rx="4.50" ry="2.00" fill="#0b6a66"/>
<ellipse cx="130.60" cy="183.70" rx="4.50" ry="2.00" fill="#0b6a66"/>
<ellipse cx="103.6" cy="156.2" rx="19.5" ry="8.4" fill="#d2b2f2"/>
<ellipse cx="103.6" cy="156.2" rx="15.5" ry="6.6" fill="#9c72e2"/>
<ellipse cx="103.6" cy="156.2" rx="10.5" ry="4.6" fill="#6e3ed6"/>
<ellipse cx="96.29" cy="151.07" rx="3.89" ry="1.76" fill="#6232cc"/>
<ellipse cx="106.67" cy="151.43" rx="3.89" ry="1.76" fill="#6232cc"/>
<ellipse cx="117.06" cy="151.80" rx="3.89" ry="1.76" fill="#a27ae0"/>
<ellipse cx="92.89" cy="156.03" rx="3.89" ry="1.76" fill="#6232cc"/>
<ellipse cx="103.37" cy="156.43" rx="3.89" ry="1.76" fill="#4c1cbc"/>
<ellipse cx="113.84" cy="156.83" rx="3.89" ry="1.76" fill="#4c1cbc"/>
<ellipse cx="89.49" cy="161.00" rx="3.89" ry="1.76" fill="#a27ae0"/>
<ellipse cx="100.06" cy="161.43" rx="3.89" ry="1.76" fill="#6232cc"/>
<ellipse cx="110.63" cy="161.87" rx="3.89" ry="1.76" fill="#6232cc"/>
<ellipse cx="103.6" cy="156.2" rx="4.6" ry="1.95" fill="#ff0000"/>
<text x="80.5" y="124.2" font-size="6.8" font-family="'Liberation Serif', 'DejaVu Serif', serif" text-anchor="middle" fill="#111" stroke="#111" stroke-width="0.09" >bmu</text>
<path d="M82 126L103 155" stroke="#555" stroke-width="0.35"/>
<text x="119" y="128.6" font-size="6.8" font-family="'Liberation Serif', 'DejaVu Serif', serif" text-anchor="middle" fill="#111" stroke="#111" stroke-width="0.09" >neighborhood</text>
<path d="M131 130.5L111.5 151" stroke="#555" stroke-width="0.35"/>
<text x="33.2" y="206.2" font-size="6.8" font-family="'Liberation Serif', 'DejaVu Serif', serif" text-anchor="start" fill="#111" stroke="#111" stroke-width="0.09" ><tspan font-style="italic">w</tspan><tspan font-size="5.2" dy="1.4" font-style="italic">ij</tspan></text>
<text x="53.6" y="226.6" font-size="6.6" font-family="'Liberation Serif', 'DejaVu Serif', serif" text-anchor="start" fill="#111" stroke="#111" stroke-width="0.09" ><tspan font-style="italic">x</tspan><tspan font-size="4.2" dy="1.2">1</tspan></text>
<text x="71.3" y="226.6" font-size="6.6" font-family="'Liberation Serif', 'DejaVu Serif', serif" text-anchor="start" fill="#111" stroke="#111" stroke-width="0.09" ><tspan font-style="italic">x</tspan><tspan font-size="4.2" dy="1.2">2</tspan></text>
<text x="106.3" y="226.6" font-size="6.6" font-family="'Liberation Serif', 'DejaVu Serif', serif" text-anchor="start" fill="#111" stroke="#111" stroke-width="0.09" ><tspan font-style="italic">x</tspan><tspan font-size="4.2" dy="1.2">13</tspan></text>
<circle cx="85" cy="225.6" r="0.8" fill="#111"/>
<circle cx="88.5" cy="225.6" r="0.8" fill="#111"/>
<circle cx="92" cy="225.6" r="0.8" fill="#111"/>
<circle cx="95.5" cy="225.6" r="0.8" fill="#111"/>
<circle cx="99" cy="225.6" r="0.8" fill="#111"/>
<path d="M44 230.2V233.6H121V230.2" stroke="#555" stroke-width="0.45" fill="none"/>
<text x="82.8" y="241.6" font-size="6.8" font-family="'Liberation Serif', 'DejaVu Serif', serif" text-anchor="middle" fill="#111" stroke="#111" stroke-width="0.09" >input training spectra</text>
<path d="M190.5 116.8V104.5" stroke="#222" stroke-width="0.7"/>
<path d="M188.9 105.6L190.5 102.3L192.1 105.6Z" fill="#222"/>
<circle cx="197.8" cy="107.8" r="3.9" fill="#8b1a8f"/>
<text x="197.8" y="109.7" font-size="5.4" font-family="'Liberation Sans', sans-serif" text-anchor="middle" fill="#fff" font-weight="bold">2</text>
<text x="190.6" y="122.8" font-size="7" font-family="'Liberation Serif', 'DejaVu Serif', serif" text-anchor="middle" fill="#111" stroke="#111" stroke-width="0.09" >hit rate maps</text>
<text x="190.6" y="130.6" font-size="7" font-family="'Liberation Serif', 'DejaVu Serif', serif" text-anchor="middle" fill="#111" stroke="#111" stroke-width="0.09" >for each class</text>
<path d="M190.5 133.2V148" stroke="#222" stroke-width="0.7"/>
<text x="190.6" y="155.4" font-size="7" font-family="'Liberation Serif', 'DejaVu Serif', serif" text-anchor="middle" fill="#111" stroke="#111" stroke-width="0.09" >known labels</text>
<text x="190.6" y="161.6" font-size="7.6" font-family="'Liberation Serif', 'DejaVu Serif', serif" text-anchor="middle" fill="#111" stroke="#111" stroke-width="0.09" >+</text>
<text x="190.6" y="167.2" font-size="7" font-family="'Liberation Serif', 'DejaVu Serif', serif" text-anchor="middle" fill="#111" stroke="#111" stroke-width="0.09" >training</text>
<text x="190.6" y="174.8" font-size="7" font-family="'Liberation Serif', 'DejaVu Serif', serif" text-anchor="middle" fill="#111" stroke="#111" stroke-width="0.09" >spectra</text>
<text x="190.6" y="181.4" font-size="7.6" font-family="'Liberation Serif', 'DejaVu Serif', serif" text-anchor="middle" fill="#111" stroke="#111" stroke-width="0.09" >+</text>
<text x="190.6" y="187.6" font-size="7" font-family="'Liberation Serif', 'DejaVu Serif', serif" text-anchor="middle" fill="#111" stroke="#111" stroke-width="0.09" >trained</text>
<text x="190.6" y="196" font-size="7" font-family="'Liberation Serif', 'DejaVu Serif', serif" text-anchor="middle" fill="#111" stroke="#111" stroke-width="0.09" >SOM</text>
<path d="M169.5 191H180.5" stroke="#222" stroke-width="0.6"/>
<path d="M180 189.5L183.2 191L180 192.5Z" fill="#222"/>
<rect x="285" y="141" width="58" height="59.5" fill="#fff" stroke="#6f6f6f" stroke-width="0.6"/>
<rect x="270.4" y="152.7" width="59.9" height="59.3" fill="#fff" stroke="#6f6f6f" stroke-width="0.6"/>
<rect x="268.2" y="154.6" width="59.8" height="59.4" fill="#fff" stroke="#6f6f6f" stroke-width="0.6"/>
<rect x="266" y="157" width="58" height="59" fill="#fff"/>
<rect x="266.00" y="157.00" width="2.03" height="1.03" fill="#d5ab9f"/>
<rect x="268.00" y="157.00" width="2.03" height="1.03" fill="#3f9a35"/>
<rect x="270.00" y="157.00" width="1.03" height="1.03" fill="#e6c6bb"/>
<rect x="271.00" y="157.00" width="17.03" height="1.03" fill="#d5ab9f"/>
<rect x="288.00" y="157.00" width="4.03" height="1.03" fill="#e6c6bb"/>
<rect x="292.00" y="157.00" width="1.03" height="1.03" fill="#c29a92"/>
<rect x="293.00" y="157.00" width="2.03" height="1.03" fill="#a98b93"/>
<rect x="295.00" y="157.00" width="3.03" height="1.03" fill="#c29a92"/>
<rect x="298.00" y="157.00" width="2.03" height="1.03" fill="#d5ab9f"/>
<rect x="300.00" y="157.00" width="5.03" height="1.03" fill="#c29a92"/>
<rect x="305.00" y="157.00" width="1.03" height="1.03" fill="#d5ab9f"/>
<rect x="306.00" y="157.00" width="7.03" height="1.03" fill="#e6c6bb"/>
<rect x="313.00" y="157.00" width="1.03" height="1.03" fill="#c29a92"/>
<rect x="314.00" y="157.00" width="1.03" height="1.03" fill="#8fcf7a"/>
<rect x="315.00" y="157.00" width="3.03" height="1.03" fill="#a98b93"/>
<rect x="318.00" y="157.00" width="6.03" height="1.03" fill="#000"/>
<rect x="266.00" y="158.00" width="2.03" height="1.03" fill="#d5ab9f"/>
<rect x="268.00" y="158.00" width="1.03" height="1.03" fill="#7cc865"/>
<rect x="269.00" y="158.00" width="1.03" height="1.03" fill="#3f9a35"/>
<rect x="270.00" y="158.00" width="18.03" height="1.03" fill="#d5ab9f"/>
<rect x="288.00" y="158.00" width="4.03" height="1.03" fill="#e6c6bb"/>
<rect x="292.00" y="158.00" width="1.03" height="1.03" fill="#d5ab9f"/>
<rect x="293.00" y="158.00" width="5.03" height="1.03" fill="#c29a92"/>
<rect x="298.00" y="158.00" width="9.03" height="1.03" fill="#d5ab9f"/>
<rect x="307.00" y="158.00" width="5.03" height="1.03" fill="#e6c6bb"/>
<rect x="312.00" y="158.00" width="1.03" height="1.03" fill="#d5ab9f"/>
<rect x="313.00" y="158.00" width="1.03" height="1.03" fill="#7cc865"/>
<rect x="314.00" y="158.00" width="1.03" height="1.03" fill="#5cb347"/>
<rect x="315.00" y="158.00" width="2.03" height="1.03" fill="#a98b93"/>
<rect x="317.00" y="158.00" width="1.03" height="1.03" fill="#7cc865"/>
<rect x="318.00" y="158.00" width="6.03" height="1.03" fill="#000"/>
<rect x="266.00" y="159.00" width="3.03" height="1.03" fill="#d5ab9f"/>
<rect x="269.00" y="159.00" width="1.03" height="1.03" fill="#5cb347"/>
<rect x="270.00" y="159.00" width="2.03" height="1.03" fill="#d5ab9f"/>
<rect x="272.00" y="159.00" width="1.03" height="1.03" fill="#e6c6bb"/>
<rect x="273.00" y="159.00" width="2.03" height="1.03" fill="#d5ab9f"/>
<rect x="275.00" y="159.00" width="4.03" height="1.03" fill="#c29a92"/>
<rect x="279.00" y="159.00" width="4.03" height="1.03" fill="#d5ab9f"/>
<rect x="283.00" y="159.00" width="2.03" height="1.03" fill="#e6c6bb"/>
<rect x="285.00" y="159.00" width="3.03" height="1.03" fill="#d5ab9f"/>
<rect x="288.00" y="159.00" width="4.03" height="1.03" fill="#e6c6bb"/>
<rect x="292.00" y="159.00" width="1.03" height="1.03" fill="#d5ab9f"/>
<rect x="293.00" y="159.00" width="5.03" height="1.03" fill="#c29a92"/>
<rect x="298.00" y="159.00" width="10.03" height="1.03" fill="#d5ab9f"/>
<rect x="308.00" y="159.00" width="1.03" height="1.03" fill="#3f9a35"/>
<rect x="309.00" y="159.00" width="2.03" height="1.03" fill="#5cb347"/>
<rect x="311.00" y="159.00" width="1.03" height="1.03" fill="#3f9a35"/>
<rect x="312.00" y="159.00" width="1.03" height="1.03" fill="#33862e"/>
<rect x="313.00" y="159.00" width="1.03" height="1.03" fill="#7cc865"/>
<rect x="314.00" y="159.00" width="1.03" height="1.03" fill="#33862e"/>
<rect x="315.00" y="159.00" width="1.03" height="1.03" fill="#5cb347"/>
<rect x="316.00" y="159.00" width="1.03" height="1.03" fill="#c29a92"/>
<rect x="317.00" y="159.00" width="7.03" height="1.03" fill="#000"/>
<rect x="266.00" y="160.00" width="2.03" height="1.03" fill="#d5ab9f"/>
<rect x="268.00" y="160.00" width="2.03" height="1.03" fill="#c29a92"/>
<rect x="270.00" y="160.00" width="2.03" height="1.03" fill="#d5ab9f"/>
<rect x="272.00" y="160.00" width="1.03" height="1.03" fill="#e6c6bb"/>
<rect x="273.00" y="160.00" width="1.03" height="1.03" fill="#d5ab9f"/>
<rect x="274.00" y="160.00" width="1.03" height="1.03" fill="#c29a92"/>
<rect x="275.00" y="160.00" width="3.03" height="1.03" fill="#a98b93"/>
<rect x="278.00" y="160.00" width="2.03" height="1.03" fill="#c29a92"/>
<rect x="280.00" y="160.00" width="2.03" height="1.03" fill="#d5ab9f"/>
<rect x="282.00" y="160.00" width="4.03" height="1.03" fill="#e6c6bb"/>
<rect x="286.00" y="160.00" width="1.03" height="1.03" fill="#d5ab9f"/>
<rect x="287.00" y="160.00" width="5.03" height="1.03" fill="#e6c6bb"/>
<rect x="292.00" y="160.00" width="3.03" height="1.03" fill="#d5ab9f"/>
<rect x="295.00" y="160.00" width="3.03" height="1.03" fill="#c29a92"/>
<rect x="298.00" y="160.00" width="1.03" height="1.03" fill="#d5ab9f"/>
<rect x="299.00" y="160.00" width="4.03" height="1.03" fill="#e6c6bb"/>
<rect x="303.00" y="160.00" width="4.03" height="1.03" fill="#d5ab9f"/>
<rect x="307.00" y="160.00" width="1.03" height="1.03" fill="#c29a92"/>
<rect x="308.00" y="160.00" width="2.03" height="1.03" fill="#3f9a35"/>
<rect x="310.00" y="160.00" width="1.03" height="1.03" fill="#5cb347"/>
<rect x="311.00" y="160.00" width="1.03" height="1.03" fill="#3f9a35"/>
<rect x="312.00" y="160.00" width="1.03" height="1.03" fill="#5cb347"/>
<rect x="313.00" y="160.00" width="1.03" height="1.03" fill="#3f9a35"/>
<rect x="314.00" y="160.00" width="1.03" height="1.03" fill="#33862e"/>
<rect x="315.00" y="160.00" width="1.03" height="1.03" fill="#8fcf7a"/>
<rect x="316.00" y="160.00" width="1.03" height="1.03" fill="#7cc865"/>
<rect x="317.00" y="160.00" width="7.03" height="1.03" fill="#000"/>
<rect x="266.00" y="161.00" width="2.03" height="1.03" fill="#d5ab9f"/>
<rect x="268.00" y="161.00" width="3.03" height="1.03" fill="#c29a92"/>
<rect x="271.00" y="161.00" width="1.03" height="1.03" fill="#d5ab9f"/>
<rect x="272.00" y="161.00" width="1.03" height="1.03" fill="#e6c6bb"/>
<rect x="273.00" y="161.00" width="1.03" height="1.03" fill="#d5ab9f"/>
<rect x="274.00" y="161.00" width="1.03" height="1.03" fill="#c29a92"/>
<rect x="275.00" y="161.00" width="3.03" height="1.03" fill="#a98b93"/>
<rect x="278.00" y="161.00" width="2.03" height="1.03" fill="#c29a92"/>
<rect x="280.00" y="161.00" width="3.03" height="1.03" fill="#d5ab9f"/>
<rect x="283.00" y="161.00" width="3.03" height="1.03" fill="#e6c6bb"/>
<rect x="286.00" y="161.00" width="1.03" height="1.03" fill="#d5ab9f"/>
<rect x="287.00" y="161.00" width="5.03" height="1.03" fill="#e6c6bb"/>
<rect x="292.00" y="161.00" width="4.03" height="1.03" fill="#d5ab9f"/>
<rect x="296.00" y="161.00" width="2.03" height="1.03" fill="#c29a92"/>
<rect x="298.00" y="161.00" width="1.03" height="1.03" fill="#d5ab9f"/>
<rect x="299.00" y="161.00" width="4.03" height="1.03" fill="#e6c6bb"/>
<rect x="303.00" y="161.00" width="3.03" height="1.03" fill="#d5ab9f"/>
<rect x="306.00" y="161.00" width="3.03" height="1.03" fill="#c29a92"/>
<rect x="309.00" y="161.00" width="1.03" height="1.03" fill="#8fcf7a"/>
<rect x="310.00" y="161.00" width="1.03" height="1.03" fill="#5cb347"/>
<rect x="311.00" y="161.00" width="1.03" height="1.03" fill="#8fcf7a"/>
<rect x="312.00" y="161.00" width="1.03" height="1.03" fill="#7cc865"/>
<rect x="313.00" y="161.00" width="1.03" height="1.03" fill="#33862e"/>
<rect x="314.00" y="161.00" width="1.03" height="1.03" fill="#8fcf7a"/>
<rect x="315.00" y="161.00" width="1.03" height="1.03" fill="#7cc865"/>
<rect x="316.00" y="161.00" width="1.03" height="1.03" fill="#d3e6ca"/>
<rect x="317.00" y="161.00" width="7.03" height="1.03" fill="#000"/>
<rect x="266.00" y="162.00" width="1.03" height="1.03" fill="#e6c6bb"/>
<rect x="267.00" y="162.00" width="6.03" height="1.03" fill="#d5ab9f"/>
<rect x="273.00" y="162.00" width="2.03" height="1.03" fill="#c29a92"/>
<rect x="275.00" y="162.00" width="4.03" height="1.03" fill="#a98b93"/>
<rect x="279.00" y="162.00" width="1.03" height="1.03" fill="#8fcf7a"/>
<rect x="280.00" y="162.00" width="1.03" height="1.03" fill="#3f9a35"/>
<rect x="281.00" y="162.00" width="1.03" height="1.03" fill="#8fcf7a"/>
<rect x="282.00" y="162.00" width="6.03" height="1.03" fill="#d5ab9f"/>
<rect x="288.00" y="162.00" width="4.03" height="1.03" fill="#e6c6bb"/>
<rect x="292.00" y="162.00" width="7.03" height="1.03" fill="#d5ab9f"/>
<rect x="299.00" y="162.00" width="1.03" height="1.03" fill="#e6c6bb"/>
<rect x="300.00" y="162.00" width="3.03" height="1.03" fill="#d5ab9f"/>
<rect x="303.00" y="162.00" width="3.03" height="1.03" fill="#c29a92"/>
<rect x="306.00" y="162.00" width="2.03" height="1.03" fill="#a98b93"/>
<rect x="308.00" y="162.00" width="1.03" height="1.03" fill="#c29a92"/>
<rect x="309.00" y="162.00" width="1.03" height="1.03" fill="#3f9a35"/>
<rect x="310.00" y="162.00" width="3.03" height="1.03" fill="#d5ab9f"/>
<rect x="313.00" y="162.00" width="2.03" height="1.03" fill="#e6c6bb"/>
<rect x="315.00" y="162.00" width="1.03" height="1.03" fill="#3f9a35"/>
<rect x="316.00" y="162.00" width="1.03" height="1.03" fill="#7cc865"/>
<rect x="317.00" y="162.00" width="7.03" height="1.03" fill="#000"/>
<rect x="266.00" y="163.00" width="2.03" height="1.03" fill="#e6c6bb"/>
<rect x="268.00" y="163.00" width="1.03" height="1.03" fill="#7cc865"/>
<rect x="269.00" y="163.00" width="1.03" height="1.03" fill="#e6c6bb"/>
<rect x="270.00" y="163.00" width="2.03" height="1.03" fill="#d5ab9f"/>
<rect x="272.00" y="163.00" width="1.03" height="1.03" fill="#c29a92"/>
<rect x="273.00" y="163.00" width="1.03" height="1.03" fill="#3f9a35"/>
<rect x="274.00" y="163.00" width="5.03" height="1.03" fill="#a98b93"/>
<rect x="279.00" y="163.00" width="1.03" height="1.03" fill="#5cb347"/>
<rect x="280.00" y="163.00" width="1.03" height="1.03" fill="#8fcf7a"/>
<rect x="281.00" y="163.00" width="1.03" height="1.03" fill="#5cb347"/>
<rect x="282.00" y="163.00" width="5.03" height="1.03" fill="#c29a92"/>
<rect x="287.00" y="163.00" width="1.03" height="1.03" fill="#3f9a35"/>
<rect x="288.00" y="163.00" width="1.03" height="1.03" fill="#d5ab9f"/>
<rect x="289.00" y="163.00" width="3.03" height="1.03" fill="#e6c6bb"/>
<rect x="292.00" y="163.00" width="8.03" height="1.03" fill="#d5ab9f"/>
<rect x="300.00" y="163.00" width="3.03" height="1.03" fill="#c29a92"/>
<rect x="303.00" y="163.00" width="6.03" height="1.03" fill="#a98b93"/>
<rect x="309.00" y="163.00" width="1.03" height="1.03" fill="#33862e"/>
<rect x="310.00" y="163.00" width="1.03" height="1.03" fill="#d5ab9f"/>
<rect x="311.00" y="163.00" width="4.03" height="1.03" fill="#e6c6bb"/>
<rect x="315.00" y="163.00" width="1.03" height="1.03" fill="#d3e6ca"/>
<rect x="316.00" y="163.00" width="8.03" height="1.03" fill="#000"/>
<rect x="266.00" y="164.00" width="2.03" height="1.03" fill="#e6c6bb"/>
<rect x="268.00" y="164.00" width="2.03" height="1.03" fill="#7cc865"/>
<rect x="270.00" y="164.00" width="1.03" height="1.03" fill="#e6c6bb"/>
<rect x="271.00" y="164.00" width="1.03" height="1.03" fill="#d5ab9f"/>
<rect x="272.00" y="164.00" width="1.03" height="1.03" fill="#c29a92"/>
<rect x="273.00" y="164.00" width="7.03" height="1.03" fill="#a98b93"/>
<rect x="280.00" y="164.00" width="1.03" height="1.03" fill="#33862e"/>
<rect x="281.00" y="164.00" width="2.03" height="1.03" fill="#a98b93"/>
<rect x="283.00" y="164.00" width="5.03" height="1.03" fill="#c29a92"/>
<rect x="288.00" y="164.00" width="1.03" height="1.03" fill="#d5ab9f"/>
<rect x="289.00" y="164.00" width="4.03" height="1.03" fill="#e6c6bb"/>
<rect x="293.00" y="164.00" width="7.03" height="1.03" fill="#d5ab9f"/>
<rect x="300.00" y="164.00" width="8.03" height="1.03" fill="#a98b93"/>
<rect x="308.00" y="164.00" width="1.03" height="1.03" fill="#8fcf7a"/>
<rect x="309.00" y="164.00" width="1.03" height="1.03" fill="#5cb347"/>
<rect x="310.00" y="164.00" width="2.03" height="1.03" fill="#33862e"/>
<rect x="312.00" y="164.00" width="1.03" height="1.03" fill="#e6c6bb"/>
<rect x="313.00" y="164.00" width="1.03" height="1.03" fill="#7cc865"/>
<rect x="314.00" y="164.00" width="1.03" height="1.03" fill="#8fcf7a"/>
<rect x="315.00" y="164.00" width="1.03" height="1.03" fill="#7cc865"/>
<rect x="316.00" y="164.00" width="8.03" height="1.03" fill="#000"/>
<rect x="266.00" y="165.00" width="2.03" height="1.03" fill="#e6c6bb"/>
<rect x="268.00" y="165.00" width="1.03" height="1.03" fill="#7cc865"/>
<rect x="269.00" y="165.00" width="1.03" height="1.03" fill="#8fcf7a"/>
<rect x="270.00" y="165.00" width="1.03" height="1.03" fill="#e6c6bb"/>
<rect x="271.00" y="165.00" width="1.03" height="1.03" fill="#d5ab9f"/>
<rect x="272.00" y="165.00" width="1.03" height="1.03" fill="#c29a92"/>
<rect x="273.00" y="165.00" width="7.03" height="1.03" fill="#a98b93"/>
<rect x="280.00" y="165.00" width="1.03" height="1.03" fill="#8fcf7a"/>
<rect x="281.00" y="165.00" width="2.03" height="1.03" fill="#a98b93"/>
<rect x="283.00" y="165.00" width="1.03" height="1.03" fill="#5cb347"/>
<rect x="284.00" y="165.00" width="1.03" height="1.03" fill="#3f9a35"/>
<rect x="285.00" y="165.00" width="3.03" height="1.03" fill="#c29a92"/>
<rect x="288.00" y="165.00" width="1.03" height="1.03" fill="#d5ab9f"/>
<rect x="289.00" y="165.00" width="7.03" height="1.03" fill="#e6c6bb"/>
<rect x="296.00" y="165.00" width="3.03" height="1.03" fill="#d5ab9f"/>
<rect x="299.00" y="165.00" width="1.03" height="1.03" fill="#c29a92"/>
<rect x="300.00" y="165.00" width="8.03" height="1.03" fill="#a98b93"/>
<rect x="308.00" y="165.00" width="1.03" height="1.03" fill="#5cb347"/>
<rect x="309.00" y="165.00" width="1.03" height="1.03" fill="#7cc865"/>
<rect x="310.00" y="165.00" width="1.03" height="1.03" fill="#33862e"/>
<rect x="311.00" y="165.00" width="1.03" height="1.03" fill="#7cc865"/>
<rect x="312.00" y="165.00" width="1.03" height="1.03" fill="#e6c6bb"/>
<rect x="313.00" y="165.00" width="1.03" height="1.03" fill="#5cb347"/>
<rect x="314.00" y="165.00" width="1.03" height="1.03" fill="#8fcf7a"/>
<rect x="315.00" y="165.00" width="1.03" height="1.03" fill="#7cc865"/>
<rect x="316.00" y="165.00" width="8.03" height="1.03" fill="#000"/>
<rect x="266.00" y="166.00" width="3.03" height="1.03" fill="#e6c6bb"/>
<rect x="269.00" y="166.00" width="1.03" height="1.03" fill="#3f9a35"/>
<rect x="270.00" y="166.00" width="1.03" height="1.03" fill="#5cb347"/>
<rect x="271.00" y="166.00" width="1.03" height="1.03" fill="#d5ab9f"/>
<rect x="272.00" y="166.00" width="2.03" height="1.03" fill="#c29a92"/>
<rect x="274.00" y="166.00" width="8.03" height="1.03" fill="#a98b93"/>
<rect x="282.00" y="166.00" width="2.03" height="1.03" fill="#33862e"/>
<rect x="284.00" y="166.00" width="1.03" height="1.03" fill="#5cb347"/>
<rect x="285.00" y="166.00" width="1.03" height="1.03" fill="#c29a92"/>
<rect x="286.00" y="166.00" width="1.03" height="1.03" fill="#d5ab9f"/>
<rect x="287.00" y="166.00" width="1.03" height="1.03" fill="#3f9a35"/>
<rect x="288.00" y="166.00" width="2.03" height="1.03" fill="#d5ab9f"/>
<rect x="290.00" y="166.00" width="6.03" height="1.03" fill="#e6c6bb"/>
<rect x="296.00" y="166.00" width="2.03" height="1.03" fill="#d5ab9f"/>
<rect x="298.00" y="166.00" width="2.03" height="1.03" fill="#c29a92"/>
<rect x="300.00" y="166.00" width="7.03" height="1.03" fill="#a98b93"/>
<rect x="307.00" y="166.00" width="2.03" height="1.03" fill="#33862e"/>
<rect x="309.00" y="166.00" width="1.03" height="1.03" fill="#7cc865"/>
<rect x="310.00" y="166.00" width="1.03" height="1.03" fill="#8fcf7a"/>
<rect x="311.00" y="166.00" width="2.03" height="1.03" fill="#e6c6bb"/>
<rect x="313.00" y="166.00" width="1.03" height="1.03" fill="#fefefe"/>
<rect x="314.00" y="166.00" width="1.03" height="1.03" fill="#d3e6ca"/>
<rect x="315.00" y="166.00" width="1.03" height="1.03" fill="#3f9a35"/>
<rect x="316.00" y="166.00" width="8.03" height="1.03" fill="#000"/>
<rect x="266.00" y="167.00" width="6.03" height="1.03" fill="#d5ab9f"/>
<rect x="272.00" y="167.00" width="2.03" height="1.03" fill="#c29a92"/>
<rect x="274.00" y="167.00" width="1.03" height="1.03" fill="#a98b93"/>
<rect x="275.00" y="167.00" width="2.03" height="1.03" fill="#3f9a35"/>
<rect x="277.00" y="167.00" width="4.03" height="1.03" fill="#a98b93"/>
<rect x="281.00" y="167.00" width="1.03" height="1.03" fill="#3f9a35"/>
<rect x="282.00" y="167.00" width="1.03" height="1.03" fill="#7cc865"/>
<rect x="283.00" y="167.00" width="1.03" height="1.03" fill="#33862e"/>
<rect x="284.00" y="167.00" width="1.03" height="1.03" fill="#7cc865"/>
<rect x="285.00" y="167.00" width="1.03" height="1.03" fill="#8fcf7a"/>
<rect x="286.00" y="167.00" width="2.03" height="1.03" fill="#3f9a35"/>
<rect x="288.00" y="167.00" width="3.03" height="1.03" fill="#d5ab9f"/>
<rect x="291.00" y="167.00" width="6.03" height="1.03" fill="#e6c6bb"/>
<rect x="297.00" y="167.00" width="1.03" height="1.03" fill="#d5ab9f"/>
<rect x="298.00" y="167.00" width="2.03" height="1.03" fill="#c29a92"/>
<rect x="300.00" y="167.00" width="8.03" height="1.03" fill="#a98b93"/>
<rect x="308.00" y="167.00" width="1.03" height="1.03" fill="#8fcf7a"/>
<rect x="309.00" y="167.00" width="1.03" height="1.03" fill="#3f9a35"/>
<rect x="310.00" y="167.00" width="3.03" height="1.03" fill="#e6c6bb"/>
<rect x="313.00" y="167.00" width="1.03" height="1.03" fill="#8fcf7a"/>
<rect x="314.00" y="167.00" width="1.03" height="1.03" fill="#3f9a35"/>
<rect x="315.00" y="167.00" width="1.03" height="1.03" fill="#8fcf7a"/>
<rect x="316.00" y="167.00" width="8.03" height="1.03" fill="#000"/>
<rect x="266.00" y="168.00" width="1.03" height="1.03" fill="#3f9a35"/>
<rect x="267.00" y="168.00" width="1.03" height="1.03" fill="#5cb347"/>
<rect x="268.00" y="168.00" width="4.03" height="1.03" fill="#d5ab9f"/>
<rect x="272.00" y="168.00" width="3.03" height="1.03" fill="#c29a92"/>
<rect x="275.00" y="168.00" width="1.03" height="1.03" fill="#a98b93"/>
<rect x="276.00" y="168.00" width="1.03" height="1.03" fill="#c29a92"/>
<rect x="277.00" y="168.00" width="1.03" height="1.03" fill="#7cc865"/>
<rect x="278.00" y="168.00" width="1.03" height="1.03" fill="#3f9a35"/>
<rect x="279.00" y="168.00" width="1.03" height="1.03" fill="#5cb347"/>
<rect x="280.00" y="168.00" width="3.03" height="1.03" fill="#a98b93"/>
<rect x="283.00" y="168.00" width="1.03" height="1.03" fill="#c29a92"/>
<rect x="284.00" y="168.00" width="1.03" height="1.03" fill="#33862e"/>
<rect x="285.00" y="168.00" width="1.03" height="1.03" fill="#7cc865"/>
<rect x="286.00" y="168.00" width="2.03" height="1.03" fill="#5cb347"/>
<rect x="288.00" y="168.00" width="3.03" height="1.03" fill="#d5ab9f"/>
<rect x="291.00" y="168.00" width="6.03" height="1.03" fill="#e6c6bb"/>
<rect x="297.00" y="168.00" width="1.03" height="1.03" fill="#d5ab9f"/>
<rect x="298.00" y="168.00" width="1.03" height="1.03" fill="#5cb347"/>
<rect x="299.00" y="168.00" width="1.03" height="1.03" fill="#c29a92"/>
<rect x="300.00" y="168.00" width="7.03" height="1.03" fill="#a98b93"/>
<rect x="307.00" y="168.00" width="2.03" height="1.03" fill="#c29a92"/>
<rect x="309.00" y="168.00" width="1.03" height="1.03" fill="#8fcf7a"/>
<rect x="310.00" y="168.00" width="3.03" height="1.03" fill="#e6c6bb"/>
<rect x="313.00" y="168.00" width="1.03" height="1.03" fill="#7cc865"/>
<rect x="314.00" y="168.00" width="1.03" height="1.03" fill="#d3e6ca"/>
<rect x="315.00" y="168.00" width="9.03" height="1.03" fill="#000"/>
<rect x="266.00" y="169.00" width="2.03" height="1.03" fill="#d5ab9f"/>
<rect x="268.00" y="169.00" width="1.03" height="1.03" fill="#33862e"/>
<rect x="269.00" y="169.00" width="1.03" height="1.03" fill="#7cc865"/>
<rect x="270.00" y="169.00" width="2.03" height="1.03" fill="#e6c6bb"/>
<rect x="272.00" y="169.00" width="2.03" height="1.03" fill="#d5ab9f"/>
<rect x="274.00" y="169.00" width="2.03" height="1.03" fill="#c29a92"/>
<rect x="276.00" y="169.00" width="1.03" height="1.03" fill="#a98b93"/>
<rect x="277.00" y="169.00" width="8.03" height="1.03" fill="#c29a92"/>
<rect x="285.00" y="169.00" width="1.03" height="1.03" fill="#33862e"/>
<rect x="286.00" y="169.00" width="5.03" height="1.03" fill="#d5ab9f"/>
<rect x="291.00" y="169.00" width="6.03" height="1.03" fill="#e6c6bb"/>
<rect x="297.00" y="169.00" width="1.03" height="1.03" fill="#5cb347"/>
<rect x="298.00" y="169.00" width="2.03" height="1.03" fill="#d5ab9f"/>
<rect x="300.00" y="169.00" width="2.03" height="1.03" fill="#c29a92"/>
<rect x="302.00" y="169.00" width="5.03" height="1.03" fill="#a98b93"/>
<rect x="307.00" y="169.00" width="2.03" height="1.03" fill="#c29a92"/>
<rect x="309.00" y="169.00" width="1.03" height="1.03" fill="#d5ab9f"/>
<rect x="310.00" y="169.00" width="2.03" height="1.03" fill="#e6c6bb"/>
<rect x="312.00" y="169.00" width="1.03" height="1.03" fill="#7cc865"/>
<rect x="313.00" y="169.00" width="1.03" height="1.03" fill="#33862e"/>
<rect x="314.00" y="169.00" width="1.03" height="1.03" fill="#f7f6f6"/>
<rect x="315.00" y="169.00" width="9.03" height="1.03" fill="#000"/>
<rect x="266.00" y="170.00" width="2.03" height="1.03" fill="#e6c6bb"/>
<rect x="268.00" y="170.00" width="2.03" height="1.03" fill="#7cc865"/>
<rect x="270.00" y="170.00" width="4.03" height="1.03" fill="#e6c6bb"/>
<rect x="274.00" y="170.00" width="1.03" height="1.03" fill="#d5ab9f"/>
<rect x="275.00" y="170.00" width="3.03" height="1.03" fill="#c29a92"/>
<rect x="278.00" y="170.00" width="1.03" height="1.03" fill="#d5ab9f"/>
<rect x="279.00" y="170.00" width="1.03" height="1.03" fill="#e6c6bb"/>
<rect x="280.00" y="170.00" width="1.03" height="1.03" fill="#8fcf7a"/>
<rect x="281.00" y="170.00" width="1.03" height="1.03" fill="#d5ab9f"/>
<rect x="282.00" y="170.00" width="1.03" height="1.03" fill="#c29a92"/>
<rect x="283.00" y="170.00" width="1.03" height="1.03" fill="#a98b93"/>
<rect x="284.00" y="170.00" width="1.03" height="1.03" fill="#c29a92"/>
<rect x="285.00" y="170.00" width="1.03" height="1.03" fill="#7cc865"/>
<rect x="286.00" y="170.00" width="6.03" height="1.03" fill="#e6c6bb"/>
<rect x="292.00" y="170.00" width="1.03" height="1.03" fill="#3f9a35"/>
<rect x="293.00" y="170.00" width="7.03" height="1.03" fill="#e6c6bb"/>
<rect x="300.00" y="170.00" width="2.03" height="1.03" fill="#d5ab9f"/>
<rect x="302.00" y="170.00" width="1.03" height="1.03" fill="#c29a92"/>
<rect x="303.00" y="170.00" width="4.03" height="1.03" fill="#a98b93"/>
<rect x="307.00" y="170.00" width="1.03" height="1.03" fill="#c29a92"/>
<rect x="308.00" y="170.00" width="1.03" height="1.03" fill="#7cc865"/>
<rect x="309.00" y="170.00" width="1.03" height="1.03" fill="#5cb347"/>
<rect x="310.00" y="170.00" width="1.03" height="1.03" fill="#d5ab9f"/>
<rect x="311.00" y="170.00" width="2.03" height="1.03" fill="#5cb347"/>
<rect x="313.00" y="170.00" width="1.03" height="1.03" fill="#7cc865"/>
<rect x="314.00" y="170.00" width="1.03" height="1.03" fill="#f7f6f6"/>
<rect x="315.00" y="170.00" width="9.03" height="1.03" fill="#000"/>
<rect x="266.00" y="171.00" width="1.03" height="1.03" fill="#7cc865"/>
<rect x="267.00" y="171.00" width="3.03" height="1.03" fill="#e6c6bb"/>
<rect x="270.00" y="171.00" width="6.03" height="1.03" fill="#efe0dc"/>
<rect x="276.00" y="171.00" width="1.03" height="1.03" fill="#c29a92"/>
<rect x="277.00" y="171.00" width="1.03" height="1.03" fill="#d5ab9f"/>
<rect x="278.00" y="171.00" width="3.03" height="1.03" fill="#e6c6bb"/>
<rect x="281.00" y="171.00" width="1.03" height="1.03" fill="#d5ab9f"/>
<rect x="282.00" y="171.00" width="3.03" height="1.03" fill="#c29a92"/>
<rect x="285.00" y="171.00" width="1.03" height="1.03" fill="#d5ab9f"/>
<rect x="286.00" y="171.00" width="1.03" height="1.03" fill="#5cb347"/>
<rect x="287.00" y="171.00" width="1.03" height="1.03" fill="#8fcf7a"/>
<rect x="288.00" y="171.00" width="4.03" height="1.03" fill="#e6c6bb"/>
<rect x="292.00" y="171.00" width="2.03" height="1.03" fill="#33862e"/>
<rect x="294.00" y="171.00" width="1.03" height="1.03" fill="#7cc865"/>
<rect x="295.00" y="171.00" width="5.03" height="1.03" fill="#e6c6bb"/>
<rect x="300.00" y="171.00" width="2.03" height="1.03" fill="#d5ab9f"/>
<rect x="302.00" y="171.00" width="1.03" height="1.03" fill="#c29a92"/>
<rect x="303.00" y="171.00" width="3.03" height="1.03" fill="#a98b93"/>
<rect x="306.00" y="171.00" width="2.03" height="1.03" fill="#c29a92"/>
<rect x="308.00" y="171.00" width="2.03" height="1.03" fill="#d5ab9f"/>
<rect x="310.00" y="171.00" width="1.03" height="1.03" fill="#8fcf7a"/>
<rect x="311.00" y="171.00" width="1.03" height="1.03" fill="#7cc865"/>
<rect x="312.00" y="171.00" width="2.03" height="1.03" fill="#fefefe"/>
<rect x="314.00" y="171.00" width="1.03" height="1.03" fill="#f7f6f6"/>
<rect x="315.00" y="171.00" width="9.03" height="1.03" fill="#000"/>
<rect x="266.00" y="172.00" width="1.03" height="1.03" fill="#c29a92"/>
<rect x="267.00" y="172.00" width="1.03" height="1.03" fill="#d5ab9f"/>
<rect x="268.00" y="172.00" width="3.03" height="1.03" fill="#efe0dc"/>
<rect x="271.00" y="172.00" width="5.03" height="1.03" fill="#fbf8f7"/>
<rect x="276.00" y="172.00" width="2.03" height="1.03" fill="#efe0dc"/>
<rect x="278.00" y="172.00" width="1.03" height="1.03" fill="#d5ab9f"/>
<rect x="279.00" y="172.00" width="2.03" height="1.03" fill="#e6c6bb"/>
<rect x="281.00" y="172.00" width="1.03" height="1.03" fill="#d5ab9f"/>
<rect x="282.00" y="172.00" width="1.03" height="1.03" fill="#c29a92"/>
<rect x="283.00" y="172.00" width="1.03" height="1.03" fill="#a98b93"/>
<rect x="284.00" y="172.00" width="1.03" height="1.03" fill="#c29a92"/>
<rect x="285.00" y="172.00" width="2.03" height="1.03" fill="#d5ab9f"/>
<rect x="287.00" y="172.00" width="1.03" height="1.03" fill="#3f9a35"/>
<rect x="288.00" y="172.00" width="3.03" height="1.03" fill="#e6c6bb"/>
<rect x="291.00" y="172.00" width="4.03" height="1.03" fill="#d5ab9f"/>
<rect x="295.00" y="172.00" width="5.03" height="1.03" fill="#e6c6bb"/>
<rect x="300.00" y="172.00" width="3.03" height="1.03" fill="#d5ab9f"/>
<rect x="303.00" y="172.00" width="3.03" height="1.03" fill="#c29a92"/>
<rect x="306.00" y="172.00" width="1.03" height="1.03" fill="#5cb347"/>
<rect x="307.00" y="172.00" width="3.03" height="1.03" fill="#d5ab9f"/>
<rect x="310.00" y="172.00" width="1.03" height="1.03" fill="#3f9a35"/>
<rect x="311.00" y="172.00" width="1.03" height="1.03" fill="#5cb347"/>
<rect x="312.00" y="172.00" width="1.03" height="1.03" fill="#fefefe"/>
<rect x="313.00" y="172.00" width="1.03" height="1.03" fill="#f7f6f6"/>
<rect x="314.00" y="172.00" width="10.03" height="1.03" fill="#000"/>
<rect x="266.00" y="173.00" width="1.03" height="1.03" fill="#c29a92"/>
<rect x="267.00" y="173.00" width="1.03" height="1.03" fill="#efe0dc"/>
<rect x="268.00" y="173.00" width="1.03" height="1.03" fill="#7cc865"/>
<rect x="269.00" y="173.00" width="8.03" height="1.03" fill="#fbf8f7"/>
<rect x="277.00" y="173.00" width="2.03" height="1.03" fill="#efe0dc"/>
<rect x="279.00" y="173.00" width="3.03" height="1.03" fill="#d5ab9f"/>
<rect x="282.00" y="173.00" width="2.03" height="1.03" fill="#c29a92"/>
<rect x="284.00" y="173.00" width="4.03" height="1.03" fill="#d5ab9f"/>
<rect x="288.00" y="173.00" width="1.03" height="1.03" fill="#8fcf7a"/>
<rect x="289.00" y="173.00" width="1.03" height="1.03" fill="#5cb347"/>
<rect x="290.00" y="173.00" width="1.03" height="1.03" fill="#8fcf7a"/>
<rect x="291.00" y="173.00" width="5.03" height="1.03" fill="#e6c6bb"/>
<rect x="296.00" y="173.00" width="1.03" height="1.03" fill="#8fcf7a"/>
<rect x="297.00" y="173.00" width="1.03" height="1.03" fill="#5cb347"/>
<rect x="298.00" y="173.00" width="1.03" height="1.03" fill="#e6c6bb"/>
<rect x="299.00" y="173.00" width="3.03" height="1.03" fill="#d5ab9f"/>
<rect x="302.00" y="173.00" width="4.03" height="1.03" fill="#c29a92"/>
<rect x="306.00" y="173.00" width="1.03" height="1.03" fill="#8fcf7a"/>
<rect x="307.00" y="173.00" width="1.03" height="1.03" fill="#5cb347"/>
<rect x="308.00" y="173.00" width="2.03" height="1.03" fill="#d5ab9f"/>
<rect x="310.00" y="173.00" width="3.03" height="1.03" fill="#fefefe"/>
<rect x="313.00" y="173.00" width="1.03" height="1.03" fill="#f7f6f6"/>
<rect x="314.00" y="173.00" width="10.03" height="1.03" fill="#000"/>
<rect x="266.00" y="174.00" width="1.03" height="1.03" fill="#a98b93"/>
<rect x="267.00" y="174.00" width="1.03" height="1.03" fill="#efe0dc"/>
<rect x="268.00" y="174.00" width="10.03" height="1.03" fill="#fbf8f7"/>
<rect x="278.00" y="174.00" width="2.03" height="1.03" fill="#efe0dc"/>
<rect x="280.00" y="174.00" width="7.03" height="1.03" fill="#d5ab9f"/>
<rect x="287.00" y="174.00" width="1.03" height="1.03" fill="#3f9a35"/>
<rect x="288.00" y="174.00" width="1.03" height="1.03" fill="#d5ab9f"/>
<rect x="289.00" y="174.00" width="3.03" height="1.03" fill="#e6c6bb"/>
<rect x="292.00" y="174.00" width="3.03" height="1.03" fill="#3f9a35"/>
<rect x="295.00" y="174.00" width="1.03" height="1.03" fill="#33862e"/>
<rect x="296.00" y="174.00" width="1.03" height="1.03" fill="#7cc865"/>
<rect x="297.00" y="174.00" width="1.03" height="1.03" fill="#5cb347"/>
<rect x="298.00" y="174.00" width="1.03" height="1.03" fill="#d5ab9f"/>
<rect x="299.00" y="174.00" width="5.03" height="1.03" fill="#c29a92"/>
<rect x="304.00" y="174.00" width="1.03" height="1.03" fill="#d5ab9f"/>
<rect x="305.00" y="174.00" width="1.03" height="1.03" fill="#7cc865"/>
<rect x="306.00" y="174.00" width="1.03" height="1.03" fill="#33862e"/>
<rect x="307.00" y="174.00" width="1.03" height="1.03" fill="#3f9a35"/>
<rect x="308.00" y="174.00" width="1.03" height="1.03" fill="#5cb347"/>
<rect x="309.00" y="174.00" width="5.03" height="1.03" fill="#d3e6ca"/>
<rect x="314.00" y="174.00" width="10.03" height="1.03" fill="#000"/>
<rect x="266.00" y="175.00" width="1.03" height="1.03" fill="#efe0dc"/>
<rect x="267.00" y="175.00" width="12.03" height="1.03" fill="#fbf8f7"/>
<rect x="279.00" y="175.00" width="1.03" height="1.03" fill="#efe0dc"/>
<rect x="280.00" y="175.00" width="6.03" height="1.03" fill="#d5ab9f"/>
<rect x="286.00" y="175.00" width="1.03" height="1.03" fill="#c29a92"/>
<rect x="287.00" y="175.00" width="1.03" height="1.03" fill="#7cc865"/>
<rect x="288.00" y="175.00" width="1.03" height="1.03" fill="#8fcf7a"/>
<rect x="289.00" y="175.00" width="3.03" height="1.03" fill="#e6c6bb"/>
<rect x="292.00" y="175.00" width="1.03" height="1.03" fill="#33862e"/>
<rect x="293.00" y="175.00" width="2.03" height="1.03" fill="#7cc865"/>
<rect x="295.00" y="175.00" width="1.03" height="1.03" fill="#8fcf7a"/>
<rect x="296.00" y="175.00" width="1.03" height="1.03" fill="#7cc865"/>
<rect x="297.00" y="175.00" width="1.03" height="1.03" fill="#3f9a35"/>
<rect x="298.00" y="175.00" width="1.03" height="1.03" fill="#d5ab9f"/>
<rect x="299.00" y="175.00" width="1.03" height="1.03" fill="#c29a92"/>
<rect x="300.00" y="175.00" width="1.03" height="1.03" fill="#7cc865"/>
<rect x="301.00" y="175.00" width="3.03" height="1.03" fill="#c29a92"/>
<rect x="304.00" y="175.00" width="1.03" height="1.03" fill="#d5ab9f"/>
<rect x="305.00" y="175.00" width="1.03" height="1.03" fill="#7cc865"/>
<rect x="306.00" y="175.00" width="1.03" height="1.03" fill="#33862e"/>
<rect x="307.00" y="175.00" width="1.03" height="1.03" fill="#3f9a35"/>
<rect x="308.00" y="175.00" width="1.03" height="1.03" fill="#5cb347"/>
<rect x="309.00" y="175.00" width="4.03" height="1.03" fill="#d3e6ca"/>
<rect x="313.00" y="175.00" width="1.03" height="1.03" fill="#8fcf7a"/>
<rect x="314.00" y="175.00" width="10.03" height="1.03" fill="#000"/>
<rect x="266.00" y="176.00" width="1.03" height="1.03" fill="#efe0dc"/>
<rect x="267.00" y="176.00" width="13.03" height="1.03" fill="#fbf8f7"/>
<rect x="280.00" y="176.00" width="1.03" height="1.03" fill="#8fcf7a"/>
<rect x="281.00" y="176.00" width="8.03" height="1.03" fill="#d5ab9f"/>
<rect x="289.00" y="176.00" width="2.03" height="1.03" fill="#e6c6bb"/>
<rect x="291.00" y="176.00" width="1.03" height="1.03" fill="#3f9a35"/>
<rect x="292.00" y="176.00" width="4.03" height="1.03" fill="#e6c6bb"/>
<rect x="296.00" y="176.00" width="4.03" height="1.03" fill="#d5ab9f"/>
<rect x="300.00" y="176.00" width="1.03" height="1.03" fill="#33862e"/>
<rect x="301.00" y="176.00" width="6.03" height="1.03" fill="#d5ab9f"/>
<rect x="307.00" y="176.00" width="1.03" height="1.03" fill="#7cc865"/>
<rect x="308.00" y="176.00" width="1.03" height="1.03" fill="#5cb347"/>
<rect x="309.00" y="176.00" width="1.03" height="1.03" fill="#7cc865"/>
<rect x="310.00" y="176.00" width="3.03" height="1.03" fill="#fefefe"/>
<rect x="313.00" y="176.00" width="11.03" height="1.03" fill="#000"/>
<rect x="266.00" y="177.00" width="14.03" height="1.03" fill="#fbf8f7"/>
<rect x="280.00" y="177.00" width="1.03" height="1.03" fill="#8fcf7a"/>
<rect x="281.00" y="177.00" width="1.03" height="1.03" fill="#d5ab9f"/>
<rect x="282.00" y="177.00" width="1.03" height="1.03" fill="#e6c6bb"/>
<rect x="283.00" y="177.00" width="8.03" height="1.03" fill="#d5ab9f"/>
<rect x="291.00" y="177.00" width="1.03" height="1.03" fill="#8fcf7a"/>
<rect x="292.00" y="177.00" width="4.03" height="1.03" fill="#d5ab9f"/>
<rect x="296.00" y="177.00" width="3.03" height="1.03" fill="#e6c6bb"/>
<rect x="299.00" y="177.00" width="1.03" height="1.03" fill="#5cb347"/>
<rect x="300.00" y="177.00" width="1.03" height="1.03" fill="#7cc865"/>
<rect x="301.00" y="177.00" width="1.03" height="1.03" fill="#e6c6bb"/>
<rect x="302.00" y="177.00" width="1.03" height="1.03" fill="#33862e"/>
<rect x="303.00" y="177.00" width="1.03" height="1.03" fill="#e6c6bb"/>
<rect x="304.00" y="177.00" width="3.03" height="1.03" fill="#d5ab9f"/>
<rect x="307.00" y="177.00" width="1.03" height="1.03" fill="#8fcf7a"/>
<rect x="308.00" y="177.00" width="1.03" height="1.03" fill="#33862e"/>
<rect x="309.00" y="177.00" width="1.03" height="1.03" fill="#5cb347"/>
<rect x="310.00" y="177.00" width="3.03" height="1.03" fill="#fefefe"/>
<rect x="313.00" y="177.00" width="11.03" height="1.03" fill="#000"/>
<rect x="266.00" y="178.00" width="14.03" height="1.03" fill="#fbf8f7"/>
<rect x="280.00" y="178.00" width="1.03" height="1.03" fill="#33862e"/>
<rect x="281.00" y="178.00" width="1.03" height="1.03" fill="#7cc865"/>
<rect x="282.00" y="178.00" width="2.03" height="1.03" fill="#e6c6bb"/>
<rect x="284.00" y="178.00" width="7.03" height="1.03" fill="#d5ab9f"/>
<rect x="291.00" y="178.00" width="1.03" height="1.03" fill="#5cb347"/>
<rect x="292.00" y="178.00" width="1.03" height="1.03" fill="#d5ab9f"/>
<rect x="293.00" y="178.00" width="1.03" height="1.03" fill="#7cc865"/>
<rect x="294.00" y="178.00" width="1.03" height="1.03" fill="#33862e"/>
<rect x="295.00" y="178.00" width="1.03" height="1.03" fill="#7cc865"/>
<rect x="296.00" y="178.00" width="2.03" height="1.03" fill="#e6c6bb"/>
<rect x="298.00" y="178.00" width="1.03" height="1.03" fill="#8fcf7a"/>
<rect x="299.00" y="178.00" width="1.03" height="1.03" fill="#33862e"/>
<rect x="300.00" y="178.00" width="1.03" height="1.03" fill="#3f9a35"/>
<rect x="301.00" y="178.00" width="1.03" height="1.03" fill="#5cb347"/>
<rect x="302.00" y="178.00" width="1.03" height="1.03" fill="#33862e"/>
<rect x="303.00" y="178.00" width="1.03" height="1.03" fill="#e6c6bb"/>
<rect x="304.00" y="178.00" width="2.03" height="1.03" fill="#d5ab9f"/>
<rect x="306.00" y="178.00" width="1.03" height="1.03" fill="#33862e"/>
<rect x="307.00" y="178.00" width="1.03" height="1.03" fill="#7cc865"/>
<rect x="308.00" y="178.00" width="1.03" height="1.03" fill="#5cb347"/>
<rect x="309.00" y="178.00" width="1.03" height="1.03" fill="#d3e6ca"/>
<rect x="310.00" y="178.00" width="3.03" height="1.03" fill="#fefefe"/>
<rect x="313.00" y="178.00" width="11.03" height="1.03" fill="#000"/>
<rect x="266.00" y="179.00" width="15.03" height="1.03" fill="#fbf8f7"/>
<rect x="281.00" y="179.00" width="1.03" height="1.03" fill="#efe0dc"/>
<rect x="282.00" y="179.00" width="1.03" height="1.03" fill="#d5ab9f"/>
<rect x="283.00" y="179.00" width="1.03" height="1.03" fill="#7cc865"/>
<rect x="284.00" y="179.00" width="4.03" height="1.03" fill="#d5ab9f"/>
<rect x="288.00" y="179.00" width="2.03" height="1.03" fill="#c29a92"/>
<rect x="290.00" y="179.00" width="1.03" height="1.03" fill="#d5ab9f"/>
<rect x="291.00" y="179.00" width="1.03" height="1.03" fill="#8fcf7a"/>
<rect x="292.00" y="179.00" width="1.03" height="1.03" fill="#33862e"/>
<rect x="293.00" y="179.00" width="2.03" height="1.03" fill="#3f9a35"/>
<rect x="295.00" y="179.00" width="2.03" height="1.03" fill="#d5ab9f"/>
<rect x="297.00" y="179.00" width="3.03" height="1.03" fill="#33862e"/>
<rect x="300.00" y="179.00" width="1.03" height="1.03" fill="#5cb347"/>
<rect x="301.00" y="179.00" width="2.03" height="1.03" fill="#33862e"/>
<rect x="303.00" y="179.00" width="2.03" height="1.03" fill="#d5ab9f"/>
<rect x="305.00" y="179.00" width="3.03" height="1.03" fill="#d3e6ca"/>
<rect x="308.00" y="179.00" width="1.03" height="1.03" fill="#33862e"/>
<rect x="309.00" y="179.00" width="2.03" height="1.03" fill="#d3e6ca"/>
<rect x="311.00" y="179.00" width="2.03" height="1.03" fill="#fefefe"/>
<rect x="313.00" y="179.00" width="11.03" height="1.03" fill="#000"/>
<rect x="266.00" y="180.00" width="15.03" height="1.03" fill="#fbf8f7"/>
<rect x="281.00" y="180.00" width="1.03" height="1.03" fill="#efe0dc"/>
<rect x="282.00" y="180.00" width="1.03" height="1.03" fill="#d5ab9f"/>
<rect x="283.00" y="180.00" width="1.03" height="1.03" fill="#7cc865"/>
<rect x="284.00" y="180.00" width="1.03" height="1.03" fill="#5cb347"/>
<rect x="285.00" y="180.00" width="5.03" height="1.03" fill="#c29a92"/>
<rect x="290.00" y="180.00" width="1.03" height="1.03" fill="#3f9a35"/>
<rect x="291.00" y="180.00" width="2.03" height="1.03" fill="#8fcf7a"/>
<rect x="293.00" y="180.00" width="1.03" height="1.03" fill="#3f9a35"/>
<rect x="294.00" y="180.00" width="1.03" height="1.03" fill="#5cb347"/>
<rect x="295.00" y="180.00" width="2.03" height="1.03" fill="#33862e"/>
<rect x="297.00" y="180.00" width="1.03" height="1.03" fill="#7cc865"/>
<rect x="298.00" y="180.00" width="1.03" height="1.03" fill="#33862e"/>
<rect x="299.00" y="180.00" width="2.03" height="1.03" fill="#e6c6bb"/>
<rect x="301.00" y="180.00" width="1.03" height="1.03" fill="#5cb347"/>
<rect x="302.00" y="180.00" width="3.03" height="1.03" fill="#33862e"/>
<rect x="305.00" y="180.00" width="1.03" height="1.03" fill="#8fcf7a"/>
<rect x="306.00" y="180.00" width="1.03" height="1.03" fill="#d3e6ca"/>
<rect x="307.00" y="180.00" width="2.03" height="1.03" fill="#fefefe"/>
<rect x="309.00" y="180.00" width="2.03" height="1.03" fill="#8fcf7a"/>
<rect x="311.00" y="180.00" width="1.03" height="1.03" fill="#fefefe"/>
<rect x="312.00" y="180.00" width="12.03" height="1.03" fill="#000"/>
<rect x="266.00" y="181.00" width="15.03" height="1.03" fill="#fbf8f7"/>
<rect x="281.00" y="181.00" width="1.03" height="1.03" fill="#efe0dc"/>
<rect x="282.00" y="181.00" width="2.03" height="1.03" fill="#c29a92"/>
<rect x="284.00" y="181.00" width="1.03" height="1.03" fill="#5cb347"/>
<rect x="285.00" y="181.00" width="4.03" height="1.03" fill="#c29a92"/>
<rect x="289.00" y="181.00" width="1.03" height="1.03" fill="#8fcf7a"/>
<rect x="290.00" y="181.00" width="1.03" height="1.03" fill="#7cc865"/>
<rect x="291.00" y="181.00" width="2.03" height="1.03" fill="#c29a92"/>
<rect x="293.00" y="181.00" width="2.03" height="1.03" fill="#a98b93"/>
<rect x="295.00" y="181.00" width="1.03" height="1.03" fill="#f7f6f6"/>
<rect x="296.00" y="181.00" width="1.03" height="1.03" fill="#d3e6ca"/>
<rect x="297.00" y="181.00" width="2.03" height="1.03" fill="#5cb347"/>
<rect x="299.00" y="181.00" width="1.03" height="1.03" fill="#d3e6ca"/>
<rect x="300.00" y="181.00" width="1.03" height="1.03" fill="#fefefe"/>
<rect x="301.00" y="181.00" width="1.03" height="1.03" fill="#d3e6ca"/>
<rect x="302.00" y="181.00" width="1.03" height="1.03" fill="#8fcf7a"/>
<rect x="303.00" y="181.00" width="1.03" height="1.03" fill="#7cc865"/>
<rect x="304.00" y="181.00" width="1.03" height="1.03" fill="#3f9a35"/>
<rect x="305.00" y="181.00" width="7.03" height="1.03" fill="#fefefe"/>
<rect x="312.00" y="181.00" width="12.03" height="1.03" fill="#000"/>
<rect x="266.00" y="182.00" width="15.03" height="1.03" fill="#fbf8f7"/>
<rect x="281.00" y="182.00" width="1.03" height="1.03" fill="#efe0dc"/>
<rect x="282.00" y="182.00" width="1.03" height="1.03" fill="#8fcf7a"/>
<rect x="283.00" y="182.00" width="1.03" height="1.03" fill="#5cb347"/>
<rect x="284.00" y="182.00" width="1.03" height="1.03" fill="#7cc865"/>
<rect x="285.00" y="182.00" width="3.03" height="1.03" fill="#c29a92"/>
<rect x="288.00" y="182.00" width="2.03" height="1.03" fill="#7cc865"/>
<rect x="290.00" y="182.00" width="1.03" height="1.03" fill="#d3e6ca"/>
<rect x="291.00" y="182.00" width="2.03" height="1.03" fill="#fefefe"/>
<rect x="293.00" y="182.00" width="4.03" height="1.03" fill="#f7f6f6"/>
<rect x="297.00" y="182.00" width="1.03" height="1.03" fill="#8fcf7a"/>
<rect x="298.00" y="182.00" width="1.03" height="1.03" fill="#3f9a35"/>
<rect x="299.00" y="182.00" width="2.03" height="1.03" fill="#d3e6ca"/>
<rect x="301.00" y="182.00" width="1.03" height="1.03" fill="#8fcf7a"/>
<rect x="302.00" y="182.00" width="1.03" height="1.03" fill="#5cb347"/>
<rect x="303.00" y="182.00" width="1.03" height="1.03" fill="#8fcf7a"/>
<rect x="304.00" y="182.00" width="1.03" height="1.03" fill="#7cc865"/>
<rect x="305.00" y="182.00" width="7.03" height="1.03" fill="#fefefe"/>
<rect x="312.00" y="182.00" width="12.03" height="1.03" fill="#000"/>
<rect x="266.00" y="183.00" width="14.03" height="1.03" fill="#fbf8f7"/>
<rect x="280.00" y="183.00" width="2.03" height="1.03" fill="#efe0dc"/>
<rect x="282.00" y="183.00" width="1.03" height="1.03" fill="#c29a92"/>
<rect x="283.00" y="183.00" width="1.03" height="1.03" fill="#7cc865"/>
<rect x="284.00" y="183.00" width="1.03" height="1.03" fill="#8fcf7a"/>
<rect x="285.00" y="183.00" width="2.03" height="1.03" fill="#d5ab9f"/>
<rect x="287.00" y="183.00" width="1.03" height="1.03" fill="#8fcf7a"/>
<rect x="288.00" y="183.00" width="1.03" height="1.03" fill="#5cb347"/>
<rect x="289.00" y="183.00" width="1.03" height="1.03" fill="#8fcf7a"/>
<rect x="290.00" y="183.00" width="1.03" height="1.03" fill="#fefefe"/>
<rect x="291.00" y="183.00" width="1.03" height="1.03" fill="#d3e6ca"/>
<rect x="292.00" y="183.00" width="2.03" height="1.03" fill="#33862e"/>
<rect x="294.00" y="183.00" width="1.03" height="1.03" fill="#5cb347"/>
<rect x="295.00" y="183.00" width="2.03" height="1.03" fill="#f7f6f6"/>
<rect x="297.00" y="183.00" width="1.03" height="1.03" fill="#5cb347"/>
<rect x="298.00" y="183.00" width="2.03" height="1.03" fill="#fefefe"/>
<rect x="300.00" y="183.00" width="1.03" height="1.03" fill="#5cb347"/>
<rect x="301.00" y="183.00" width="1.03" height="1.03" fill="#3f9a35"/>
<rect x="302.00" y="183.00" width="2.03" height="1.03" fill="#d3e6ca"/>
<rect x="304.00" y="183.00" width="8.03" height="1.03" fill="#fefefe"/>
<rect x="312.00" y="183.00" width="12.03" height="1.03" fill="#000"/>
<rect x="266.00" y="184.00" width="14.03" height="1.03" fill="#fbf8f7"/>
<rect x="280.00" y="184.00" width="1.03" height="1.03" fill="#efe0dc"/>
<rect x="281.00" y="184.00" width="1.03" height="1.03" fill="#c29a92"/>
<rect x="282.00" y="184.00" width="1.03" height="1.03" fill="#d5ab9f"/>
<rect x="283.00" y="184.00" width="1.03" height="1.03" fill="#7cc865"/>
<rect x="284.00" y="184.00" width="2.03" height="1.03" fill="#e6c6bb"/>
<rect x="286.00" y="184.00" width="6.03" height="1.03" fill="#d3e6ca"/>
<rect x="292.00" y="184.00" width="1.03" height="1.03" fill="#5cb347"/>
<rect x="293.00" y="184.00" width="6.03" height="1.03" fill="#f7f6f6"/>
<rect x="299.00" y="184.00" width="3.03" height="1.03" fill="#fefefe"/>
<rect x="302.00" y="184.00" width="1.03" height="1.03" fill="#d3e6ca"/>
<rect x="303.00" y="184.00" width="8.03" height="1.03" fill="#fefefe"/>
<rect x="311.00" y="184.00" width="13.03" height="1.03" fill="#000"/>
<rect x="266.00" y="185.00" width="1.03" height="1.03" fill="#efe0dc"/>
<rect x="267.00" y="185.00" width="13.03" height="1.03" fill="#fbf8f7"/>
<rect x="280.00" y="185.00" width="1.03" height="1.03" fill="#efe0dc"/>
<rect x="281.00" y="185.00" width="2.03" height="1.03" fill="#d5ab9f"/>
<rect x="283.00" y="185.00" width="1.03" height="1.03" fill="#e6c6bb"/>
<rect x="284.00" y="185.00" width="1.03" height="1.03" fill="#d3e6ca"/>
<rect x="285.00" y="185.00" width="1.03" height="1.03" fill="#33862e"/>
<rect x="286.00" y="185.00" width="1.03" height="1.03" fill="#d3e6ca"/>
<rect x="287.00" y="185.00" width="3.03" height="1.03" fill="#fefefe"/>
<rect x="290.00" y="185.00" width="1.03" height="1.03" fill="#f7f6f6"/>
<rect x="291.00" y="185.00" width="1.03" height="1.03" fill="#d3e6ca"/>
<rect x="292.00" y="185.00" width="1.03" height="1.03" fill="#33862e"/>
<rect x="293.00" y="185.00" width="2.03" height="1.03" fill="#f7f6f6"/>
<rect x="295.00" y="185.00" width="1.03" height="1.03" fill="#d3e6ca"/>
<rect x="296.00" y="185.00" width="3.03" height="1.03" fill="#f7f6f6"/>
<rect x="299.00" y="185.00" width="3.03" height="1.03" fill="#fefefe"/>
<rect x="302.00" y="185.00" width="1.03" height="1.03" fill="#3f9a35"/>
<rect x="303.00" y="185.00" width="5.03" height="1.03" fill="#fefefe"/>
<rect x="308.00" y="185.00" width="3.03" height="1.03" fill="#f7f6f6"/>
<rect x="311.00" y="185.00" width="13.03" height="1.03" fill="#000"/>
<rect x="266.00" y="186.00" width="1.03" height="1.03" fill="#efe0dc"/>
<rect x="267.00" y="186.00" width="12.03" height="1.03" fill="#fbf8f7"/>
<rect x="279.00" y="186.00" width="1.03" height="1.03" fill="#efe0dc"/>
<rect x="280.00" y="186.00" width="1.03" height="1.03" fill="#c29a92"/>
<rect x="281.00" y="186.00" width="2.03" height="1.03" fill="#d5ab9f"/>
<rect x="283.00" y="186.00" width="1.03" height="1.03" fill="#d3e6ca"/>
<rect x="284.00" y="186.00" width="1.03" height="1.03" fill="#33862e"/>
<rect x="285.00" y="186.00" width="1.03" height="1.03" fill="#8fcf7a"/>
<rect x="286.00" y="186.00" width="1.03" height="1.03" fill="#3f9a35"/>
<rect x="287.00" y="186.00" width="2.03" height="1.03" fill="#fefefe"/>
<rect x="289.00" y="186.00" width="8.03" height="1.03" fill="#f7f6f6"/>
<rect x="297.00" y="186.00" width="3.03" height="1.03" fill="#d3e6ca"/>
<rect x="300.00" y="186.00" width="8.03" height="1.03" fill="#fefefe"/>
<rect x="308.00" y="186.00" width="3.03" height="1.03" fill="#f7f6f6"/>
<rect x="311.00" y="186.00" width="13.03" height="1.03" fill="#000"/>
<rect x="266.00" y="187.00" width="1.03" height="1.03" fill="#d5ab9f"/>
<rect x="267.00" y="187.00" width="1.03" height="1.03" fill="#efe0dc"/>
<rect x="268.00" y="187.00" width="10.03" height="1.03" fill="#fbf8f7"/>
<rect x="278.00" y="187.00" width="2.03" height="1.03" fill="#efe0dc"/>
<rect x="280.00" y="187.00" width="1.03" height="1.03" fill="#c29a92"/>
<rect x="281.00" y="187.00" width="1.03" height="1.03" fill="#d5ab9f"/>
<rect x="282.00" y="187.00" width="3.03" height="1.03" fill="#d3e6ca"/>
<rect x="285.00" y="187.00" width="1.03" height="1.03" fill="#5cb347"/>
<rect x="286.00" y="187.00" width="2.03" height="1.03" fill="#fefefe"/>
<rect x="288.00" y="187.00" width="4.03" height="1.03" fill="#f7f6f6"/>
<rect x="292.00" y="187.00" width="5.03" height="1.03" fill="#fefefe"/>
<rect x="297.00" y="187.00" width="1.03" height="1.03" fill="#7cc865"/>
<rect x="298.00" y="187.00" width="1.03" height="1.03" fill="#d3e6ca"/>
<rect x="299.00" y="187.00" width="12.03" height="1.03" fill="#fefefe"/>
<rect x="311.00" y="187.00" width="13.03" height="1.03" fill="#000"/>
<rect x="266.00" y="188.00" width="1.03" height="1.03" fill="#d5ab9f"/>
<rect x="267.00" y="188.00" width="2.03" height="1.03" fill="#efe0dc"/>
<rect x="269.00" y="188.00" width="8.03" height="1.03" fill="#fbf8f7"/>
<rect x="277.00" y="188.00" width="2.03" height="1.03" fill="#efe0dc"/>
<rect x="279.00" y="188.00" width="2.03" height="1.03" fill="#d5ab9f"/>
<rect x="281.00" y="188.00" width="1.03" height="1.03" fill="#fefefe"/>
<rect x="282.00" y="188.00" width="1.03" height="1.03" fill="#d3e6ca"/>
<rect x="283.00" y="188.00" width="1.03" height="1.03" fill="#fefefe"/>
<rect x="284.00" y="188.00" width="2.03" height="1.03" fill="#d3e6ca"/>
<rect x="286.00" y="188.00" width="6.03" height="1.03" fill="#f7f6f6"/>
<rect x="292.00" y="188.00" width="1.03" height="1.03" fill="#fefefe"/>
<rect x="293.00" y="188.00" width="1.03" height="1.03" fill="#d3e6ca"/>
<rect x="294.00" y="188.00" width="1.03" height="1.03" fill="#7cc865"/>
<rect x="295.00" y="188.00" width="2.03" height="1.03" fill="#fefefe"/>
<rect x="297.00" y="188.00" width="1.03" height="1.03" fill="#d3e6ca"/>
<rect x="298.00" y="188.00" width="5.03" height="1.03" fill="#fefefe"/>
<rect x="303.00" y="188.00" width="1.03" height="1.03" fill="#f7f6f6"/>
<rect x="304.00" y="188.00" width="1.03" height="1.03" fill="#5cb347"/>
<rect x="305.00" y="188.00" width="1.03" height="1.03" fill="#f7f6f6"/>
<rect x="306.00" y="188.00" width="5.03" height="1.03" fill="#fefefe"/>
<rect x="311.00" y="188.00" width="13.03" height="1.03" fill="#000"/>
<rect x="266.00" y="189.00" width="2.03" height="1.03" fill="#d5ab9f"/>
<rect x="268.00" y="189.00" width="3.03" height="1.03" fill="#efe0dc"/>
<rect x="271.00" y="189.00" width="5.03" height="1.03" fill="#fbf8f7"/>
<rect x="276.00" y="189.00" width="2.03" height="1.03" fill="#efe0dc"/>
<rect x="278.00" y="189.00" width="2.03" height="1.03" fill="#d5ab9f"/>
<rect x="280.00" y="189.00" width="4.03" height="1.03" fill="#d3e6ca"/>
<rect x="284.00" y="189.00" width="2.03" height="1.03" fill="#fefefe"/>
<rect x="286.00" y="189.00" width="6.03" height="1.03" fill="#f7f6f6"/>
<rect x="292.00" y="189.00" width="5.03" height="1.03" fill="#fefefe"/>
<rect x="297.00" y="189.00" width="1.03" height="1.03" fill="#d3e6ca"/>
<rect x="298.00" y="189.00" width="5.03" height="1.03" fill="#fefefe"/>
<rect x="303.00" y="189.00" width="1.03" height="1.03" fill="#d3e6ca"/>
<rect x="304.00" y="189.00" width="2.03" height="1.03" fill="#f7f6f6"/>
<rect x="306.00" y="189.00" width="4.03" height="1.03" fill="#fefefe"/>
<rect x="310.00" y="189.00" width="14.03" height="1.03" fill="#000"/>
<rect x="266.00" y="190.00" width="3.03" height="1.03" fill="#d5ab9f"/>
<rect x="269.00" y="190.00" width="1.03" height="1.03" fill="#c29a92"/>
<rect x="270.00" y="190.00" width="1.03" height="1.03" fill="#efe0dc"/>
<rect x="271.00" y="190.00" width="1.03" height="1.03" fill="#33862e"/>
<rect x="272.00" y="190.00" width="2.03" height="1.03" fill="#8fcf7a"/>
<rect x="274.00" y="190.00" width="2.03" height="1.03" fill="#efe0dc"/>
<rect x="276.00" y="190.00" width="3.03" height="1.03" fill="#c29a92"/>
<rect x="279.00" y="190.00" width="1.03" height="1.03" fill="#d3e6ca"/>
<rect x="280.00" y="190.00" width="1.03" height="1.03" fill="#3f9a35"/>
<rect x="281.00" y="190.00" width="4.03" height="1.03" fill="#d3e6ca"/>
<rect x="285.00" y="190.00" width="6.03" height="1.03" fill="#f7f6f6"/>
<rect x="291.00" y="190.00" width="1.03" height="1.03" fill="#d3e6ca"/>
<rect x="292.00" y="190.00" width="1.03" height="1.03" fill="#7cc865"/>
<rect x="293.00" y="190.00" width="4.03" height="1.03" fill="#fefefe"/>
<rect x="297.00" y="190.00" width="1.03" height="1.03" fill="#d3e6ca"/>
<rect x="298.00" y="190.00" width="4.03" height="1.03" fill="#fefefe"/>
<rect x="302.00" y="190.00" width="1.03" height="1.03" fill="#33862e"/>
<rect x="303.00" y="190.00" width="1.03" height="1.03" fill="#d3e6ca"/>
<rect x="304.00" y="190.00" width="6.03" height="1.03" fill="#fefefe"/>
<rect x="310.00" y="190.00" width="14.03" height="1.03" fill="#000"/>
<rect x="266.00" y="191.00" width="5.03" height="1.03" fill="#c29a92"/>
<rect x="271.00" y="191.00" width="2.03" height="1.03" fill="#a98b93"/>
<rect x="273.00" y="191.00" width="1.03" height="1.03" fill="#3f9a35"/>
<rect x="274.00" y="191.00" width="1.03" height="1.03" fill="#7cc865"/>
<rect x="275.00" y="191.00" width="2.03" height="1.03" fill="#33862e"/>
<rect x="277.00" y="191.00" width="1.03" height="1.03" fill="#a98b93"/>
<rect x="278.00" y="191.00" width="1.03" height="1.03" fill="#d3e6ca"/>
<rect x="279.00" y="191.00" width="1.03" height="1.03" fill="#33862e"/>
<rect x="280.00" y="191.00" width="1.03" height="1.03" fill="#8fcf7a"/>
<rect x="281.00" y="191.00" width="1.03" height="1.03" fill="#d3e6ca"/>
<rect x="282.00" y="191.00" width="2.03" height="1.03" fill="#fefefe"/>
<rect x="284.00" y="191.00" width="5.03" height="1.03" fill="#f7f6f6"/>
<rect x="289.00" y="191.00" width="3.03" height="1.03" fill="#fefefe"/>
<rect x="292.00" y="191.00" width="1.03" height="1.03" fill="#33862e"/>
<rect x="293.00" y="191.00" width="10.03" height="1.03" fill="#fefefe"/>
<rect x="303.00" y="191.00" width="1.03" height="1.03" fill="#d3e6ca"/>
<rect x="304.00" y="191.00" width="6.03" height="1.03" fill="#fefefe"/>
<rect x="310.00" y="191.00" width="14.03" height="1.03" fill="#000"/>
<rect x="266.00" y="192.00" width="1.03" height="1.03" fill="#c29a92"/>
<rect x="267.00" y="192.00" width="1.03" height="1.03" fill="#8fcf7a"/>
<rect x="268.00" y="192.00" width="2.03" height="1.03" fill="#c29a92"/>
<rect x="270.00" y="192.00" width="1.03" height="1.03" fill="#7cc865"/>
<rect x="271.00" y="192.00" width="2.03" height="1.03" fill="#8fcf7a"/>
<rect x="273.00" y="192.00" width="1.03" height="1.03" fill="#3f9a35"/>
<rect x="274.00" y="192.00" width="1.03" height="1.03" fill="#33862e"/>
<rect x="275.00" y="192.00" width="1.03" height="1.03" fill="#3f9a35"/>
<rect x="276.00" y="192.00" width="1.03" height="1.03" fill="#33862e"/>
<rect x="277.00" y="192.00" width="2.03" height="1.03" fill="#d3e6ca"/>
<rect x="279.00" y="192.00" width="1.03" height="1.03" fill="#7cc865"/>
<rect x="280.00" y="192.00" width="9.03" height="1.03" fill="#f7f6f6"/>
<rect x="289.00" y="192.00" width="3.03" height="1.03" fill="#fefefe"/>
<rect x="292.00" y="192.00" width="1.03" height="1.03" fill="#7cc865"/>
<rect x="293.00" y="192.00" width="2.03" height="1.03" fill="#f7f6f6"/>
<rect x="295.00" y="192.00" width="15.03" height="1.03" fill="#fefefe"/>
<rect x="310.00" y="192.00" width="14.03" height="1.03" fill="#000"/>
<rect x="266.00" y="193.00" width="1.03" height="1.03" fill="#c29a92"/>
<rect x="267.00" y="193.00" width="1.03" height="1.03" fill="#7cc865"/>
<rect x="268.00" y="193.00" width="1.03" height="1.03" fill="#33862e"/>
<rect x="269.00" y="193.00" width="2.03" height="1.03" fill="#3f9a35"/>
<rect x="271.00" y="193.00" width="1.03" height="1.03" fill="#7cc865"/>
<rect x="272.00" y="193.00" width="1.03" height="1.03" fill="#a98b93"/>
<rect x="273.00" y="193.00" width="1.03" height="1.03" fill="#3f9a35"/>
<rect x="274.00" y="193.00" width="1.03" height="1.03" fill="#33862e"/>
<rect x="275.00" y="193.00" width="1.03" height="1.03" fill="#a98b93"/>
<rect x="276.00" y="193.00" width="1.03" height="1.03" fill="#33862e"/>
<rect x="277.00" y="193.00" width="2.03" height="1.03" fill="#d3e6ca"/>
<rect x="279.00" y="193.00" width="1.03" height="1.03" fill="#33862e"/>
<rect x="280.00" y="193.00" width="7.03" height="1.03" fill="#f7f6f6"/>
<rect x="287.00" y="193.00" width="2.03" height="1.03" fill="#fefefe"/>
<rect x="289.00" y="193.00" width="1.03" height="1.03" fill="#d3e6ca"/>
<rect x="290.00" y="193.00" width="2.03" height="1.03" fill="#fefefe"/>
<rect x="292.00" y="193.00" width="1.03" height="1.03" fill="#7cc865"/>
<rect x="293.00" y="193.00" width="2.03" height="1.03" fill="#f7f6f6"/>
<rect x="295.00" y="193.00" width="14.03" height="1.03" fill="#fefefe"/>
<rect x="309.00" y="193.00" width="15.03" height="1.03" fill="#000"/>
<rect x="266.00" y="194.00" width="2.03" height="1.03" fill="#a98b93"/>
<rect x="268.00" y="194.00" width="1.03" height="1.03" fill="#3f9a35"/>
<rect x="269.00" y="194.00" width="1.03" height="1.03" fill="#7cc865"/>
<rect x="270.00" y="194.00" width="1.03" height="1.03" fill="#8fcf7a"/>
<rect x="271.00" y="194.00" width="3.03" height="1.03" fill="#a98b93"/>
<rect x="274.00" y="194.00" width="1.03" height="1.03" fill="#7cc865"/>
<rect x="275.00" y="194.00" width="1.03" height="1.03" fill="#fefefe"/>
<rect x="276.00" y="194.00" width="1.03" height="1.03" fill="#3f9a35"/>
<rect x="277.00" y="194.00" width="1.03" height="1.03" fill="#d3e6ca"/>
<rect x="278.00" y="194.00" width="6.03" height="1.03" fill="#f7f6f6"/>
<rect x="284.00" y="194.00" width="5.03" height="1.03" fill="#fefefe"/>
<rect x="289.00" y="194.00" width="3.03" height="1.03" fill="#f7f6f6"/>
<rect x="292.00" y="194.00" width="17.03" height="1.03" fill="#fefefe"/>
<rect x="309.00" y="194.00" width="15.03" height="1.03" fill="#000"/>
<rect x="266.00" y="195.00" width="1.03" height="1.03" fill="#a98b93"/>
<rect x="267.00" y="195.00" width="1.03" height="1.03" fill="#33862e"/>
<rect x="268.00" y="195.00" width="1.03" height="1.03" fill="#a98b93"/>
<rect x="269.00" y="195.00" width="1.03" height="1.03" fill="#33862e"/>
<rect x="270.00" y="195.00" width="1.03" height="1.03" fill="#7cc865"/>
<rect x="271.00" y="195.00" width="2.03" height="1.03" fill="#a98b93"/>
<rect x="273.00" y="195.00" width="1.03" height="1.03" fill="#d3e6ca"/>
<rect x="274.00" y="195.00" width="1.03" height="1.03" fill="#8fcf7a"/>
<rect x="275.00" y="195.00" width="14.03" height="1.03" fill="#fefefe"/>
<rect x="289.00" y="195.00" width="3.03" height="1.03" fill="#f7f6f6"/>
<rect x="292.00" y="195.00" width="3.03" height="1.03" fill="#fefefe"/>
<rect x="295.00" y="195.00" width="1.03" height="1.03" fill="#8fcf7a"/>
<rect x="296.00" y="195.00" width="1.03" height="1.03" fill="#5cb347"/>
<rect x="297.00" y="195.00" width="1.03" height="1.03" fill="#7cc865"/>
<rect x="298.00" y="195.00" width="2.03" height="1.03" fill="#fefefe"/>
<rect x="300.00" y="195.00" width="1.03" height="1.03" fill="#8fcf7a"/>
<rect x="301.00" y="195.00" width="2.03" height="1.03" fill="#5cb347"/>
<rect x="303.00" y="195.00" width="5.03" height="1.03" fill="#fefefe"/>
<rect x="308.00" y="195.00" width="1.03" height="1.03" fill="#f7f6f6"/>
<rect x="309.00" y="195.00" width="15.03" height="1.03" fill="#000"/>
<rect x="266.00" y="196.00" width="1.03" height="1.03" fill="#a98b93"/>
<rect x="267.00" y="196.00" width="1.03" height="1.03" fill="#33862e"/>
<rect x="268.00" y="196.00" width="1.03" height="1.03" fill="#3f9a35"/>
<rect x="269.00" y="196.00" width="1.03" height="1.03" fill="#7cc865"/>
<rect x="270.00" y="196.00" width="1.03" height="1.03" fill="#8fcf7a"/>
<rect x="271.00" y="196.00" width="1.03" height="1.03" fill="#a98b93"/>
<rect x="272.00" y="196.00" width="1.03" height="1.03" fill="#fefefe"/>
<rect x="273.00" y="196.00" width="1.03" height="1.03" fill="#d3e6ca"/>
<rect x="274.00" y="196.00" width="2.03" height="1.03" fill="#8fcf7a"/>
<rect x="276.00" y="196.00" width="13.03" height="1.03" fill="#fefefe"/>
<rect x="289.00" y="196.00" width="3.03" height="1.03" fill="#f7f6f6"/>
<rect x="292.00" y="196.00" width="5.03" height="1.03" fill="#fefefe"/>
<rect x="297.00" y="196.00" width="2.03" height="1.03" fill="#7cc865"/>
<rect x="299.00" y="196.00" width="3.03" height="1.03" fill="#d3e6ca"/>
<rect x="302.00" y="196.00" width="1.03" height="1.03" fill="#5cb347"/>
<rect x="303.00" y="196.00" width="5.03" height="1.03" fill="#fefefe"/>
<rect x="308.00" y="196.00" width="1.03" height="1.03" fill="#f7f6f6"/>
<rect x="309.00" y="196.00" width="15.03" height="1.03" fill="#000"/>
<rect x="266.00" y="197.00" width="1.03" height="1.03" fill="#8fcf7a"/>
<rect x="267.00" y="197.00" width="1.03" height="1.03" fill="#3f9a35"/>
<rect x="268.00" y="197.00" width="3.03" height="1.03" fill="#8fcf7a"/>
<rect x="271.00" y="197.00" width="2.03" height="1.03" fill="#fefefe"/>
<rect x="273.00" y="197.00" width="2.03" height="1.03" fill="#d3e6ca"/>
<rect x="275.00" y="197.00" width="1.03" height="1.03" fill="#fefefe"/>
<rect x="276.00" y="197.00" width="1.03" height="1.03" fill="#d3e6ca"/>
<rect x="277.00" y="197.00" width="1.03" height="1.03" fill="#7cc865"/>
<rect x="278.00" y="197.00" width="12.03" height="1.03" fill="#fefefe"/>
<rect x="290.00" y="197.00" width="2.03" height="1.03" fill="#f7f6f6"/>
<rect x="292.00" y="197.00" width="5.03" height="1.03" fill="#fefefe"/>
<rect x="297.00" y="197.00" width="3.03" height="1.03" fill="#3f9a35"/>
<rect x="300.00" y="197.00" width="8.03" height="1.03" fill="#fefefe"/>
<rect x="308.00" y="197.00" width="16.03" height="1.03" fill="#000"/>
<rect x="266.00" y="198.00" width="1.03" height="1.03" fill="#a98b93"/>
<rect x="267.00" y="198.00" width="1.03" height="1.03" fill="#c29a92"/>
<rect x="268.00" y="198.00" width="1.03" height="1.03" fill="#d5ab9f"/>
<rect x="269.00" y="198.00" width="1.03" height="1.03" fill="#33862e"/>
<rect x="270.00" y="198.00" width="1.03" height="1.03" fill="#7cc865"/>
<rect x="271.00" y="198.00" width="1.03" height="1.03" fill="#d3e6ca"/>
<rect x="272.00" y="198.00" width="3.03" height="1.03" fill="#fefefe"/>
<rect x="275.00" y="198.00" width="1.03" height="1.03" fill="#8fcf7a"/>
<rect x="276.00" y="198.00" width="1.03" height="1.03" fill="#f7f6f6"/>
<rect x="277.00" y="198.00" width="19.03" height="1.03" fill="#fefefe"/>
<rect x="296.00" y="198.00" width="4.03" height="1.03" fill="#f7f6f6"/>
<rect x="300.00" y="198.00" width="1.03" height="1.03" fill="#5cb347"/>
<rect x="301.00" y="198.00" width="1.03" height="1.03" fill="#7cc865"/>
<rect x="302.00" y="198.00" width="6.03" height="1.03" fill="#fefefe"/>
<rect x="308.00" y="198.00" width="16.03" height="1.03" fill="#000"/>
<rect x="266.00" y="199.00" width="1.03" height="1.03" fill="#a98b93"/>
<rect x="267.00" y="199.00" width="2.03" height="1.03" fill="#d3e6ca"/>
<rect x="269.00" y="199.00" width="1.03" height="1.03" fill="#33862e"/>
<rect x="270.00" y="199.00" width="2.03" height="1.03" fill="#3f9a35"/>
<rect x="272.00" y="199.00" width="3.03" height="1.03" fill="#fefefe"/>
<rect x="275.00" y="199.00" width="1.03" height="1.03" fill="#3f9a35"/>
<rect x="276.00" y="199.00" width="1.03" height="1.03" fill="#f7f6f6"/>
<rect x="277.00" y="199.00" width="19.03" height="1.03" fill="#fefefe"/>
<rect x="296.00" y="199.00" width="4.03" height="1.03" fill="#f7f6f6"/>
<rect x="300.00" y="199.00" width="1.03" height="1.03" fill="#5cb347"/>
<rect x="301.00" y="199.00" width="1.03" height="1.03" fill="#7cc865"/>
<rect x="302.00" y="199.00" width="6.03" height="1.03" fill="#fefefe"/>
<rect x="308.00" y="199.00" width="16.03" height="1.03" fill="#000"/>
<rect x="266.00" y="200.00" width="1.03" height="1.03" fill="#33862e"/>
<rect x="267.00" y="200.00" width="3.03" height="1.03" fill="#d3e6ca"/>
<rect x="270.00" y="200.00" width="1.03" height="1.03" fill="#fefefe"/>
<rect x="271.00" y="200.00" width="2.03" height="1.03" fill="#d3e6ca"/>
<rect x="273.00" y="200.00" width="1.03" height="1.03" fill="#fefefe"/>
<rect x="274.00" y="200.00" width="1.03" height="1.03" fill="#7cc865"/>
<rect x="275.00" y="200.00" width="2.03" height="1.03" fill="#f7f6f6"/>
<rect x="277.00" y="200.00" width="13.03" height="1.03" fill="#fefefe"/>
<rect x="290.00" y="200.00" width="1.03" height="1.03" fill="#5cb347"/>
<rect x="291.00" y="200.00" width="5.03" height="1.03" fill="#fefefe"/>
<rect x="296.00" y="200.00" width="2.03" height="1.03" fill="#f7f6f6"/>
<rect x="298.00" y="200.00" width="1.03" height="1.03" fill="#d3e6ca"/>
<rect x="299.00" y="200.00" width="1.03" height="1.03" fill="#8fcf7a"/>
<rect x="300.00" y="200.00" width="2.03" height="1.03" fill="#d3e6ca"/>
<rect x="302.00" y="200.00" width="6.03" height="1.03" fill="#fefefe"/>
<rect x="308.00" y="200.00" width="16.03" height="1.03" fill="#000"/>
<rect x="266.00" y="201.00" width="1.03" height="1.03" fill="#7cc865"/>
<rect x="267.00" y="201.00" width="1.03" height="1.03" fill="#8fcf7a"/>
<rect x="268.00" y="201.00" width="1.03" height="1.03" fill="#d3e6ca"/>
<rect x="269.00" y="201.00" width="3.03" height="1.03" fill="#fefefe"/>
<rect x="272.00" y="201.00" width="1.03" height="1.03" fill="#d3e6ca"/>
<rect x="273.00" y="201.00" width="1.03" height="1.03" fill="#f7f6f6"/>
<rect x="274.00" y="201.00" width="13.03" height="1.03" fill="#fefefe"/>
<rect x="287.00" y="201.00" width="1.03" height="1.03" fill="#d3e6ca"/>
<rect x="288.00" y="201.00" width="9.03" height="1.03" fill="#fefefe"/>
<rect x="297.00" y="201.00" width="1.03" height="1.03" fill="#f7f6f6"/>
<rect x="298.00" y="201.00" width="1.03" height="1.03" fill="#7cc865"/>
<rect x="299.00" y="201.00" width="1.03" height="1.03" fill="#5cb347"/>
<rect x="300.00" y="201.00" width="1.03" height="1.03" fill="#33862e"/>
<rect x="301.00" y="201.00" width="6.03" height="1.03" fill="#fefefe"/>
<rect x="307.00" y="201.00" width="17.03" height="1.03" fill="#000"/>
<rect x="266.00" y="202.00" width="2.03" height="1.03" fill="#fefefe"/>
<rect x="268.00" y="202.00" width="1.03" height="1.03" fill="#d3e6ca"/>
<rect x="269.00" y="202.00" width="3.03" height="1.03" fill="#fefefe"/>
<rect x="272.00" y="202.00" width="2.03" height="1.03" fill="#f7f6f6"/>
<rect x="274.00" y="202.00" width="6.03" height="1.03" fill="#fefefe"/>
<rect x="280.00" y="202.00" width="4.03" height="1.03" fill="#f7f6f6"/>
<rect x="284.00" y="202.00" width="3.03" height="1.03" fill="#fefefe"/>
<rect x="287.00" y="202.00" width="1.03" height="1.03" fill="#d3e6ca"/>
<rect x="288.00" y="202.00" width="9.03" height="1.03" fill="#fefefe"/>
<rect x="297.00" y="202.00" width="1.03" height="1.03" fill="#d3e6ca"/>
<rect x="298.00" y="202.00" width="1.03" height="1.03" fill="#8fcf7a"/>
<rect x="299.00" y="202.00" width="1.03" height="1.03" fill="#7cc865"/>
<rect x="300.00" y="202.00" width="1.03" height="1.03" fill="#5cb347"/>
<rect x="301.00" y="202.00" width="6.03" height="1.03" fill="#fefefe"/>
<rect x="307.00" y="202.00" width="17.03" height="1.03" fill="#000"/>
<rect x="266.00" y="203.00" width="6.03" height="1.03" fill="#fefefe"/>
<rect x="272.00" y="203.00" width="2.03" height="1.03" fill="#f7f6f6"/>
<rect x="274.00" y="203.00" width="5.03" height="1.03" fill="#fefefe"/>
<rect x="279.00" y="203.00" width="5.03" height="1.03" fill="#f7f6f6"/>
<rect x="284.00" y="203.00" width="4.03" height="1.03" fill="#fefefe"/>
<rect x="288.00" y="203.00" width="1.03" height="1.03" fill="#d3e6ca"/>
<rect x="289.00" y="203.00" width="5.03" height="1.03" fill="#fefefe"/>
<rect x="294.00" y="203.00" width="1.03" height="1.03" fill="#d3e6ca"/>
<rect x="295.00" y="203.00" width="3.03" height="1.03" fill="#fefefe"/>
<rect x="298.00" y="203.00" width="1.03" height="1.03" fill="#d3e6ca"/>
<rect x="299.00" y="203.00" width="1.03" height="1.03" fill="#5cb347"/>
<rect x="300.00" y="203.00" width="1.03" height="1.03" fill="#3f9a35"/>
<rect x="301.00" y="203.00" width="6.03" height="1.03" fill="#fefefe"/>
<rect x="307.00" y="203.00" width="17.03" height="1.03" fill="#000"/>
<rect x="266.00" y="204.00" width="28.03" height="1.03" fill="#fefefe"/>
<rect x="294.00" y="204.00" width="1.03" height="1.03" fill="#d3e6ca"/>
<rect x="295.00" y="204.00" width="4.03" height="1.03" fill="#fefefe"/>
<rect x="299.00" y="204.00" width="1.03" height="1.03" fill="#3f9a35"/>
<rect x="300.00" y="204.00" width="1.03" height="1.03" fill="#33862e"/>
<rect x="301.00" y="204.00" width="6.03" height="1.03" fill="#fefefe"/>
<rect x="307.00" y="204.00" width="17.03" height="1.03" fill="#000"/>
<rect x="266.00" y="205.00" width="30.03" height="1.03" fill="#fefefe"/>
<rect x="296.00" y="205.00" width="3.03" height="1.03" fill="#f7f6f6"/>
<rect x="299.00" y="205.00" width="1.03" height="1.03" fill="#d3e6ca"/>
<rect x="300.00" y="205.00" width="3.03" height="1.03" fill="#f7f6f6"/>
<rect x="303.00" y="205.00" width="3.03" height="1.03" fill="#fefefe"/>
<rect x="306.00" y="205.00" width="18.03" height="1.03" fill="#000"/>
<rect x="266.00" y="206.00" width="19.03" height="1.03" fill="#fefefe"/>
<rect x="285.00" y="206.00" width="3.03" height="1.03" fill="#f7f6f6"/>
<rect x="288.00" y="206.00" width="5.03" height="1.03" fill="#fefefe"/>
<rect x="293.00" y="206.00" width="13.03" height="1.03" fill="#f7f6f6"/>
<rect x="306.00" y="206.00" width="18.03" height="1.03" fill="#000"/>
<rect x="266.00" y="207.00" width="19.03" height="1.03" fill="#fefefe"/>
<rect x="285.00" y="207.00" width="1.03" height="1.03" fill="#f7f6f6"/>
<rect x="286.00" y="207.00" width="1.03" height="1.03" fill="#8fcf7a"/>
<rect x="287.00" y="207.00" width="1.03" height="1.03" fill="#3f9a35"/>
<rect x="288.00" y="207.00" width="1.03" height="1.03" fill="#33862e"/>
<rect x="289.00" y="207.00" width="1.03" height="1.03" fill="#d3e6ca"/>
<rect x="290.00" y="207.00" width="2.03" height="1.03" fill="#fefefe"/>
<rect x="292.00" y="207.00" width="1.03" height="1.03" fill="#d3e6ca"/>
<rect x="293.00" y="207.00" width="2.03" height="1.03" fill="#fefefe"/>
<rect x="295.00" y="207.00" width="1.03" height="1.03" fill="#5cb347"/>
<rect x="296.00" y="207.00" width="1.03" height="1.03" fill="#7cc865"/>
<rect x="297.00" y="207.00" width="1.03" height="1.03" fill="#5cb347"/>
<rect x="298.00" y="207.00" width="5.03" height="1.03" fill="#f7f6f6"/>
<rect x="303.00" y="207.00" width="3.03" height="1.03" fill="#fefefe"/>
<rect x="306.00" y="207.00" width="18.03" height="1.03" fill="#000"/>
<rect x="266.00" y="208.00" width="14.03" height="1.03" fill="#fefefe"/>
<rect x="280.00" y="208.00" width="4.03" height="1.03" fill="#f7f6f6"/>
<rect x="284.00" y="208.00" width="2.03" height="1.03" fill="#fefefe"/>
<rect x="286.00" y="208.00" width="1.03" height="1.03" fill="#7cc865"/>
<rect x="287.00" y="208.00" width="1.03" height="1.03" fill="#5cb347"/>
<rect x="288.00" y="208.00" width="4.03" height="1.03" fill="#fefefe"/>
<rect x="292.00" y="208.00" width="3.03" height="1.03" fill="#d3e6ca"/>
<rect x="295.00" y="208.00" width="1.03" height="1.03" fill="#3f9a35"/>
<rect x="296.00" y="208.00" width="1.03" height="1.03" fill="#7cc865"/>
<rect x="297.00" y="208.00" width="2.03" height="1.03" fill="#fefefe"/>
<rect x="299.00" y="208.00" width="1.03" height="1.03" fill="#d3e6ca"/>
<rect x="300.00" y="208.00" width="2.03" height="1.03" fill="#f7f6f6"/>
<rect x="302.00" y="208.00" width="4.03" height="1.03" fill="#fefefe"/>
<rect x="306.00" y="208.00" width="18.03" height="1.03" fill="#000"/>
<rect x="266.00" y="209.00" width="3.03" height="1.03" fill="#fefefe"/>
<rect x="269.00" y="209.00" width="1.03" height="1.03" fill="#f7f6f6"/>
<rect x="270.00" y="209.00" width="9.03" height="1.03" fill="#fefefe"/>
<rect x="279.00" y="209.00" width="6.03" height="1.03" fill="#f7f6f6"/>
<rect x="285.00" y="209.00" width="1.03" height="1.03" fill="#fefefe"/>
<rect x="286.00" y="209.00" width="2.03" height="1.03" fill="#d3e6ca"/>
<rect x="288.00" y="209.00" width="4.03" height="1.03" fill="#fefefe"/>
<rect x="292.00" y="209.00" width="1.03" height="1.03" fill="#5cb347"/>
<rect x="293.00" y="209.00" width="1.03" height="1.03" fill="#33862e"/>
<rect x="294.00" y="209.00" width="1.03" height="1.03" fill="#8fcf7a"/>
<rect x="295.00" y="209.00" width="1.03" height="1.03" fill="#3f9a35"/>
<rect x="296.00" y="209.00" width="1.03" height="1.03" fill="#5cb347"/>
<rect x="297.00" y="209.00" width="2.03" height="1.03" fill="#fefefe"/>
<rect x="299.00" y="209.00" width="1.03" height="1.03" fill="#5cb347"/>
<rect x="300.00" y="209.00" width="2.03" height="1.03" fill="#f7f6f6"/>
<rect x="302.00" y="209.00" width="4.03" height="1.03" fill="#fefefe"/>
<rect x="306.00" y="209.00" width="18.03" height="1.03" fill="#000"/>
<rect x="266.00" y="210.00" width="3.03" height="1.03" fill="#fefefe"/>
<rect x="269.00" y="210.00" width="2.03" height="1.03" fill="#f7f6f6"/>
<rect x="271.00" y="210.00" width="8.03" height="1.03" fill="#fefefe"/>
<rect x="279.00" y="210.00" width="6.03" height="1.03" fill="#f7f6f6"/>
<rect x="285.00" y="210.00" width="2.03" height="1.03" fill="#fefefe"/>
<rect x="287.00" y="210.00" width="1.03" height="1.03" fill="#d3e6ca"/>
<rect x="288.00" y="210.00" width="2.03" height="1.03" fill="#fefefe"/>
<rect x="290.00" y="210.00" width="1.03" height="1.03" fill="#3f9a35"/>
<rect x="291.00" y="210.00" width="2.03" height="1.03" fill="#5cb347"/>
<rect x="293.00" y="210.00" width="1.03" height="1.03" fill="#d3e6ca"/>
<rect x="294.00" y="210.00" width="6.03" height="1.03" fill="#fefefe"/>
<rect x="300.00" y="210.00" width="2.03" height="1.03" fill="#f7f6f6"/>
<rect x="302.00" y="210.00" width="3.03" height="1.03" fill="#fefefe"/>
<rect x="305.00" y="210.00" width="19.03" height="1.03" fill="#000"/>
<rect x="266.00" y="211.00" width="16.03" height="1.03" fill="#fefefe"/>
<rect x="282.00" y="211.00" width="1.03" height="1.03" fill="#3f9a35"/>
<rect x="283.00" y="211.00" width="7.03" height="1.03" fill="#fefefe"/>
<rect x="290.00" y="211.00" width="2.03" height="1.03" fill="#7cc865"/>
<rect x="292.00" y="211.00" width="1.03" height="1.03" fill="#5cb347"/>
<rect x="293.00" y="211.00" width="12.03" height="1.03" fill="#fefefe"/>
<rect x="305.00" y="211.00" width="19.03" height="1.03" fill="#000"/>
<rect x="266.00" y="212.00" width="16.03" height="1.03" fill="#fefefe"/>
<rect x="282.00" y="212.00" width="1.03" height="1.03" fill="#3f9a35"/>
<rect x="283.00" y="212.00" width="2.03" height="1.03" fill="#fefefe"/>
<rect x="285.00" y="212.00" width="1.03" height="1.03" fill="#8fcf7a"/>
<rect x="286.00" y="212.00" width="11.03" height="1.03" fill="#fefefe"/>
<rect x="297.00" y="212.00" width="1.03" height="1.03" fill="#d3e6ca"/>
<rect x="298.00" y="212.00" width="7.03" height="1.03" fill="#fefefe"/>
<rect x="305.00" y="212.00" width="19.03" height="1.03" fill="#000"/>
<rect x="266.00" y="213.00" width="28.03" height="1.03" fill="#fefefe"/>
<rect x="294.00" y="213.00" width="1.03" height="1.03" fill="#d3e6ca"/>
<rect x="295.00" y="213.00" width="10.03" height="1.03" fill="#fefefe"/>
<rect x="305.00" y="213.00" width="19.03" height="1.03" fill="#000"/>
<rect x="266.00" y="214.00" width="27.03" height="1.03" fill="#fefefe"/>
<rect x="293.00" y="214.00" width="1.03" height="1.03" fill="#d3e6ca"/>
<rect x="294.00" y="214.00" width="1.03" height="1.03" fill="#7cc865"/>
<rect x="295.00" y="214.00" width="9.03" height="1.03" fill="#fefefe"/>
<rect x="304.00" y="214.00" width="20.03" height="1.03" fill="#000"/>
<rect x="266.00" y="215.00" width="21.03" height="1.03" fill="#fefefe"/>
<rect x="287.00" y="215.00" width="1.03" height="1.03" fill="#d3e6ca"/>
<rect x="288.00" y="215.00" width="1.03" height="1.03" fill="#fefefe"/>
<rect x="289.00" y="215.00" width="1.03" height="1.03" fill="#d3e6ca"/>
<rect x="290.00" y="215.00" width="1.03" height="1.03" fill="#33862e"/>
<rect x="291.00" y="215.00" width="13.03" height="1.03" fill="#fefefe"/>
<rect x="304.00" y="215.00" width="20.03" height="1.03" fill="#000"/>
<rect x="266" y="157" width="58" height="59" fill="none" stroke="#999" stroke-width="0.3"/>
<text x="327.4" y="219.6" font-size="5.8" font-family="'Liberation Serif', 'DejaVu Serif', serif" text-anchor="start" fill="#111" stroke="#111" stroke-width="0.09" >b1</text>
<text x="332.2" y="214.6" font-size="5.8" font-family="'Liberation Serif', 'DejaVu Serif', serif" text-anchor="start" fill="#111" stroke="#111" stroke-width="0.09" >b2</text>
<circle cx="336.4" cy="208.6" r="0.62" fill="#111"/>
<circle cx="338.7" cy="206.4" r="0.62" fill="#111"/>
<circle cx="343.6" cy="202.6" r="0.62" fill="#111"/>
<text x="345" y="203.2" font-size="5.8" font-family="'Liberation Serif', 'DejaVu Serif', serif" text-anchor="start" fill="#111" stroke="#111" stroke-width="0.09" >b13</text>
<text x="0" y="0" font-size="6.2" font-family="'Liberation Serif', 'DejaVu Serif', serif" text-anchor="middle" fill="#ee3030" stroke="#ee3030" stroke-width="0.1" transform="translate(254.4 189.6) rotate(-90)">(test set)</text>
<text x="0" y="0" font-size="7" font-family="'Liberation Serif', 'DejaVu Serif', serif" text-anchor="middle" fill="#111" stroke="#111" stroke-width="0.09" transform="translate(262.3 188.6) rotate(-90)">Sentinel-2 images</text>
<path d="M293.5 218V238.6H357.4M371 238.6H424.8V222" stroke="#444" stroke-width="0.6" fill="none"/>
<path d="M362.1 238.6H366.3M364.2 236.5V240.7" stroke="#222" stroke-width="0.6"/>
<path d="M364.2 242.6V250.3" stroke="#333" stroke-width="0.7"/>
<path d="M364.2 258.5V262.5" stroke="#333" stroke-width="0.7"/>
<path d="M362.8 262L364.2 265.2L365.6 262Z" fill="#222"/>
<text x="361.4" y="257" font-size="6.9" font-family="'Liberation Serif', 'DejaVu Serif', serif" text-anchor="middle" fill="#111" stroke="#111" stroke-width="0.09" >production of non-fine-tuned cloud masks</text>
<circle cx="424.7" cy="255.8" r="3.9" fill="#8b1a8f"/>
<text x="424.7" y="257.7" font-size="5.4" font-family="'Liberation Sans', sans-serif" text-anchor="middle" fill="#fff" font-weight="bold">5</text>
<rect x="336" y="266" width="59" height="58" fill="#000"/>
<rect x="373.00" y="266.00" width="1.03" height="1.03" fill="#7a7a7a"/>
<rect x="377.00" y="266.00" width="2.03" height="1.03" fill="#7a7a7a"/>
<rect x="373.00" y="267.00" width="2.03" height="1.03" fill="#c4c4c4"/>
<rect x="375.00" y="267.00" width="1.03" height="1.03" fill="#7a7a7a"/>
<rect x="377.00" y="267.00" width="3.03" height="1.03" fill="#7a7a7a"/>
<rect x="386.00" y="267.00" width="1.03" height="1.03" fill="#7a7a7a"/>
<rect x="373.00" y="268.00" width="1.03" height="1.03" fill="#7a7a7a"/>
<rect x="374.00" y="268.00" width="2.03" height="1.03" fill="#c4c4c4"/>
<rect x="376.00" y="268.00" width="2.03" height="1.03" fill="#7a7a7a"/>
<rect x="373.00" y="269.00" width="1.03" height="1.03" fill="#7a7a7a"/>
<rect x="374.00" y="269.00" width="1.03" height="1.03" fill="#c4c4c4"/>
<rect x="375.00" y="269.00" width="2.03" height="1.03" fill="#7a7a7a"/>
<rect x="382.00" y="269.00" width="1.03" height="1.03" fill="#7a7a7a"/>
<rect x="373.00" y="270.00" width="3.03" height="1.03" fill="#7a7a7a"/>
<rect x="374.00" y="271.00" width="3.03" height="1.03" fill="#c4c4c4"/>
<rect x="383.00" y="271.00" width="2.03" height="1.03" fill="#7a7a7a"/>
<rect x="374.00" y="272.00" width="3.03" height="1.03" fill="#c4c4c4"/>
<rect x="384.00" y="272.00" width="1.03" height="1.03" fill="#7a7a7a"/>
<rect x="374.00" y="273.00" width="1.03" height="1.03" fill="#7a7a7a"/>
<rect x="375.00" y="273.00" width="1.03" height="1.03" fill="#c4c4c4"/>
<rect x="376.00" y="273.00" width="1.03" height="1.03" fill="#7a7a7a"/>
<rect x="375.00" y="274.00" width="2.03" height="1.03" fill="#7a7a7a"/>
<rect x="390.00" y="275.00" width="1.03" height="1.03" fill="#7a7a7a"/>
<rect x="377.00" y="276.00" width="1.03" height="1.03" fill="#7a7a7a"/>
<rect x="390.00" y="276.00" width="1.03" height="1.03" fill="#7a7a7a"/>
<rect x="345.00" y="278.00" width="1.03" height="1.03" fill="#7a7a7a"/>
<rect x="346.00" y="278.00" width="4.03" height="1.03" fill="#fff"/>
<rect x="344.00" y="279.00" width="1.03" height="1.03" fill="#7a7a7a"/>
<rect x="345.00" y="279.00" width="1.03" height="1.03" fill="#fff"/>
<rect x="346.00" y="279.00" width="2.03" height="1.03" fill="#7a7a7a"/>
<rect x="348.00" y="279.00" width="3.03" height="1.03" fill="#fff"/>
<rect x="343.00" y="280.00" width="2.03" height="1.03" fill="#3c3c3c"/>
<rect x="345.00" y="280.00" width="1.03" height="1.03" fill="#fff"/>
<rect x="346.00" y="280.00" width="2.03" height="1.03" fill="#7a7a7a"/>
<rect x="348.00" y="280.00" width="4.03" height="1.03" fill="#fff"/>
<rect x="342.00" y="281.00" width="1.03" height="1.03" fill="#3c3c3c"/>
<rect x="343.00" y="281.00" width="3.03" height="1.03" fill="#7a7a7a"/>
<rect x="346.00" y="281.00" width="1.03" height="1.03" fill="#c4c4c4"/>
<rect x="347.00" y="281.00" width="1.03" height="1.03" fill="#7a7a7a"/>
<rect x="348.00" y="281.00" width="1.03" height="1.03" fill="#fff"/>
<rect x="349.00" y="281.00" width="1.03" height="1.03" fill="#7a7a7a"/>
<rect x="350.00" y="281.00" width="2.03" height="1.03" fill="#3c3c3c"/>
<rect x="379.00" y="281.00" width="1.03" height="1.03" fill="#7a7a7a"/>
<rect x="341.00" y="282.00" width="3.03" height="1.03" fill="#7a7a7a"/>
<rect x="344.00" y="282.00" width="1.03" height="1.03" fill="#3c3c3c"/>
<rect x="345.00" y="282.00" width="1.03" height="1.03" fill="#c4c4c4"/>
<rect x="346.00" y="282.00" width="1.03" height="1.03" fill="#7a7a7a"/>
<rect x="347.00" y="282.00" width="2.03" height="1.03" fill="#3c3c3c"/>
<rect x="349.00" y="282.00" width="1.03" height="1.03" fill="#fff"/>
<rect x="350.00" y="282.00" width="1.03" height="1.03" fill="#7a7a7a"/>
<rect x="351.00" y="282.00" width="1.03" height="1.03" fill="#fff"/>
<rect x="379.00" y="282.00" width="1.03" height="1.03" fill="#7a7a7a"/>
<rect x="340.00" y="283.00" width="2.03" height="1.03" fill="#7a7a7a"/>
<rect x="342.00" y="283.00" width="1.03" height="1.03" fill="#fff"/>
<rect x="343.00" y="283.00" width="1.03" height="1.03" fill="#c4c4c4"/>
<rect x="344.00" y="283.00" width="2.03" height="1.03" fill="#7a7a7a"/>
<rect x="346.00" y="283.00" width="3.03" height="1.03" fill="#c4c4c4"/>
<rect x="349.00" y="283.00" width="3.03" height="1.03" fill="#fff"/>
<rect x="358.00" y="283.00" width="1.03" height="1.03" fill="#c4c4c4"/>
<rect x="363.00" y="283.00" width="1.03" height="1.03" fill="#c4c4c4"/>
<rect x="378.00" y="283.00" width="1.03" height="1.03" fill="#7a7a7a"/>
<rect x="381.00" y="283.00" width="1.03" height="1.03" fill="#c4c4c4"/>
<rect x="340.00" y="284.00" width="2.03" height="1.03" fill="#3c3c3c"/>
<rect x="342.00" y="284.00" width="2.03" height="1.03" fill="#c4c4c4"/>
<rect x="347.00" y="284.00" width="2.03" height="1.03" fill="#c4c4c4"/>
<rect x="349.00" y="284.00" width="2.03" height="1.03" fill="#fff"/>
<rect x="358.00" y="284.00" width="1.03" height="1.03" fill="#c4c4c4"/>
<rect x="368.00" y="284.00" width="1.03" height="1.03" fill="#c4c4c4"/>
<rect x="377.00" y="284.00" width="1.03" height="1.03" fill="#c4c4c4"/>
<rect x="379.00" y="284.00" width="1.03" height="1.03" fill="#c4c4c4"/>
<rect x="383.00" y="284.00" width="1.03" height="1.03" fill="#7a7a7a"/>
<rect x="339.00" y="285.00" width="1.03" height="1.03" fill="#3c3c3c"/>
<rect x="340.00" y="285.00" width="2.03" height="1.03" fill="#7a7a7a"/>
<rect x="342.00" y="285.00" width="2.03" height="1.03" fill="#c4c4c4"/>
<rect x="347.00" y="285.00" width="1.03" height="1.03" fill="#c4c4c4"/>
<rect x="348.00" y="285.00" width="1.03" height="1.03" fill="#7a7a7a"/>
<rect x="349.00" y="285.00" width="2.03" height="1.03" fill="#fff"/>
<rect x="353.00" y="285.00" width="1.03" height="1.03" fill="#c4c4c4"/>
<rect x="355.00" y="285.00" width="1.03" height="1.03" fill="#c4c4c4"/>
<rect x="358.00" y="285.00" width="1.03" height="1.03" fill="#c4c4c4"/>
<rect x="360.00" y="285.00" width="2.03" height="1.03" fill="#3c3c3c"/>
<rect x="365.00" y="285.00" width="1.03" height="1.03" fill="#c4c4c4"/>
<rect x="368.00" y="285.00" width="2.03" height="1.03" fill="#c4c4c4"/>
<rect x="379.00" y="285.00" width="1.03" height="1.03" fill="#fff"/>
<rect x="380.00" y="285.00" width="1.03" height="1.03" fill="#c4c4c4"/>
<rect x="381.00" y="285.00" width="1.03" height="1.03" fill="#fff"/>
<rect x="385.00" y="285.00" width="1.03" height="1.03" fill="#7a7a7a"/>
<rect x="339.00" y="286.00" width="1.03" height="1.03" fill="#3c3c3c"/>
<rect x="340.00" y="286.00" width="1.03" height="1.03" fill="#fff"/>
<rect x="341.00" y="286.00" width="2.03" height="1.03" fill="#c4c4c4"/>
<rect x="347.00" y="286.00" width="1.03" height="1.03" fill="#c4c4c4"/>
<rect x="348.00" y="286.00" width="1.03" height="1.03" fill="#3c3c3c"/>
<rect x="349.00" y="286.00" width="2.03" height="1.03" fill="#7a7a7a"/>
<rect x="353.00" y="286.00" width="4.03" height="1.03" fill="#c4c4c4"/>
<rect x="357.00" y="286.00" width="2.03" height="1.03" fill="#fff"/>
<rect x="359.00" y="286.00" width="5.03" height="1.03" fill="#3c3c3c"/>
<rect x="364.00" y="286.00" width="1.03" height="1.03" fill="#c4c4c4"/>
<rect x="365.00" y="286.00" width="1.03" height="1.03" fill="#fff"/>
<rect x="366.00" y="286.00" width="1.03" height="1.03" fill="#c4c4c4"/>
<rect x="369.00" y="286.00" width="1.03" height="1.03" fill="#c4c4c4"/>
<rect x="376.00" y="286.00" width="1.03" height="1.03" fill="#fff"/>
<rect x="377.00" y="286.00" width="2.03" height="1.03" fill="#c4c4c4"/>
<rect x="379.00" y="286.00" width="1.03" height="1.03" fill="#fff"/>
<rect x="380.00" y="286.00" width="1.03" height="1.03" fill="#c4c4c4"/>
<rect x="381.00" y="286.00" width="2.03" height="1.03" fill="#fff"/>
<rect x="339.00" y="287.00" width="1.03" height="1.03" fill="#7a7a7a"/>
<rect x="340.00" y="287.00" width="1.03" height="1.03" fill="#fff"/>
<rect x="341.00" y="287.00" width="1.03" height="1.03" fill="#7a7a7a"/>
<rect x="342.00" y="287.00" width="1.03" height="1.03" fill="#c4c4c4"/>
<rect x="346.00" y="287.00" width="1.03" height="1.03" fill="#7a7a7a"/>
<rect x="347.00" y="287.00" width="1.03" height="1.03" fill="#c4c4c4"/>
<rect x="348.00" y="287.00" width="2.03" height="1.03" fill="#7a7a7a"/>
<rect x="354.00" y="287.00" width="1.03" height="1.03" fill="#c4c4c4"/>
<rect x="355.00" y="287.00" width="4.03" height="1.03" fill="#3c3c3c"/>
<rect x="359.00" y="287.00" width="4.03" height="1.03" fill="#fff"/>
<rect x="363.00" y="287.00" width="1.03" height="1.03" fill="#3c3c3c"/>
<rect x="364.00" y="287.00" width="1.03" height="1.03" fill="#c4c4c4"/>
<rect x="366.00" y="287.00" width="1.03" height="1.03" fill="#3c3c3c"/>
<rect x="367.00" y="287.00" width="1.03" height="1.03" fill="#c4c4c4"/>
<rect x="368.00" y="287.00" width="1.03" height="1.03" fill="#3c3c3c"/>
<rect x="369.00" y="287.00" width="1.03" height="1.03" fill="#c4c4c4"/>
<rect x="372.00" y="287.00" width="2.03" height="1.03" fill="#fff"/>
<rect x="374.00" y="287.00" width="1.03" height="1.03" fill="#c4c4c4"/>
<rect x="375.00" y="287.00" width="1.03" height="1.03" fill="#3c3c3c"/>
<rect x="376.00" y="287.00" width="2.03" height="1.03" fill="#fff"/>
<rect x="378.00" y="287.00" width="1.03" height="1.03" fill="#c4c4c4"/>
<rect x="379.00" y="287.00" width="1.03" height="1.03" fill="#fff"/>
<rect x="380.00" y="287.00" width="3.03" height="1.03" fill="#3c3c3c"/>
<rect x="338.00" y="288.00" width="1.03" height="1.03" fill="#fff"/>
<rect x="339.00" y="288.00" width="1.03" height="1.03" fill="#7a7a7a"/>
<rect x="340.00" y="288.00" width="1.03" height="1.03" fill="#fff"/>
<rect x="341.00" y="288.00" width="1.03" height="1.03" fill="#3c3c3c"/>
<rect x="342.00" y="288.00" width="1.03" height="1.03" fill="#7a7a7a"/>
<rect x="345.00" y="288.00" width="1.03" height="1.03" fill="#3c3c3c"/>
<rect x="346.00" y="288.00" width="1.03" height="1.03" fill="#c4c4c4"/>
<rect x="347.00" y="288.00" width="3.03" height="1.03" fill="#7a7a7a"/>
<rect x="352.00" y="288.00" width="1.03" height="1.03" fill="#c4c4c4"/>
<rect x="354.00" y="288.00" width="4.03" height="1.03" fill="#3c3c3c"/>
<rect x="358.00" y="288.00" width="7.03" height="1.03" fill="#fff"/>
<rect x="365.00" y="288.00" width="1.03" height="1.03" fill="#3c3c3c"/>
<rect x="367.00" y="288.00" width="1.03" height="1.03" fill="#3c3c3c"/>
<rect x="368.00" y="288.00" width="1.03" height="1.03" fill="#c4c4c4"/>
<rect x="369.00" y="288.00" width="5.03" height="1.03" fill="#fff"/>
<rect x="374.00" y="288.00" width="2.03" height="1.03" fill="#c4c4c4"/>
<rect x="376.00" y="288.00" width="4.03" height="1.03" fill="#fff"/>
<rect x="380.00" y="288.00" width="1.03" height="1.03" fill="#c4c4c4"/>
<rect x="381.00" y="288.00" width="2.03" height="1.03" fill="#3c3c3c"/>
<rect x="338.00" y="289.00" width="2.03" height="1.03" fill="#7a7a7a"/>
<rect x="340.00" y="289.00" width="1.03" height="1.03" fill="#fff"/>
<rect x="341.00" y="289.00" width="1.03" height="1.03" fill="#3c3c3c"/>
<rect x="342.00" y="289.00" width="1.03" height="1.03" fill="#c4c4c4"/>
<rect x="343.00" y="289.00" width="1.03" height="1.03" fill="#7a7a7a"/>
<rect x="344.00" y="289.00" width="1.03" height="1.03" fill="#3c3c3c"/>
<rect x="345.00" y="289.00" width="1.03" height="1.03" fill="#c4c4c4"/>
<rect x="346.00" y="289.00" width="1.03" height="1.03" fill="#3c3c3c"/>
<rect x="347.00" y="289.00" width="1.03" height="1.03" fill="#fff"/>
<rect x="348.00" y="289.00" width="1.03" height="1.03" fill="#7a7a7a"/>
<rect x="354.00" y="289.00" width="2.03" height="1.03" fill="#3c3c3c"/>
<rect x="356.00" y="289.00" width="11.03" height="1.03" fill="#fff"/>
<rect x="367.00" y="289.00" width="1.03" height="1.03" fill="#3c3c3c"/>
<rect x="369.00" y="289.00" width="2.03" height="1.03" fill="#3c3c3c"/>
<rect x="372.00" y="289.00" width="1.03" height="1.03" fill="#3c3c3c"/>
<rect x="373.00" y="289.00" width="6.03" height="1.03" fill="#fff"/>
<rect x="379.00" y="289.00" width="1.03" height="1.03" fill="#3c3c3c"/>
<rect x="380.00" y="289.00" width="1.03" height="1.03" fill="#fff"/>
<rect x="381.00" y="289.00" width="2.03" height="1.03" fill="#3c3c3c"/>
<rect x="338.00" y="290.00" width="3.03" height="1.03" fill="#fff"/>
<rect x="341.00" y="290.00" width="1.03" height="1.03" fill="#3c3c3c"/>
<rect x="342.00" y="290.00" width="1.03" height="1.03" fill="#7a7a7a"/>
<rect x="343.00" y="290.00" width="1.03" height="1.03" fill="#c4c4c4"/>
<rect x="344.00" y="290.00" width="1.03" height="1.03" fill="#7a7a7a"/>
<rect x="345.00" y="290.00" width="1.03" height="1.03" fill="#c4c4c4"/>
<rect x="346.00" y="290.00" width="2.03" height="1.03" fill="#fff"/>
<rect x="348.00" y="290.00" width="1.03" height="1.03" fill="#7a7a7a"/>
<rect x="353.00" y="290.00" width="2.03" height="1.03" fill="#fff"/>
<rect x="355.00" y="290.00" width="1.03" height="1.03" fill="#3c3c3c"/>
<rect x="356.00" y="290.00" width="12.03" height="1.03" fill="#fff"/>
<rect x="368.00" y="290.00" width="1.03" height="1.03" fill="#c4c4c4"/>
<rect x="369.00" y="290.00" width="1.03" height="1.03" fill="#3c3c3c"/>
<rect x="370.00" y="290.00" width="1.03" height="1.03" fill="#c4c4c4"/>
<rect x="371.00" y="290.00" width="1.03" height="1.03" fill="#3c3c3c"/>
<rect x="372.00" y="290.00" width="4.03" height="1.03" fill="#fff"/>
<rect x="376.00" y="290.00" width="2.03" height="1.03" fill="#c4c4c4"/>
<rect x="380.00" y="290.00" width="3.03" height="1.03" fill="#fff"/>
<rect x="383.00" y="290.00" width="2.03" height="1.03" fill="#7a7a7a"/>
<rect x="338.00" y="291.00" width="3.03" height="1.03" fill="#fff"/>
<rect x="341.00" y="291.00" width="1.03" height="1.03" fill="#7a7a7a"/>
<rect x="342.00" y="291.00" width="1.03" height="1.03" fill="#c4c4c4"/>
<rect x="343.00" y="291.00" width="1.03" height="1.03" fill="#3c3c3c"/>
<rect x="344.00" y="291.00" width="1.03" height="1.03" fill="#7a7a7a"/>
<rect x="345.00" y="291.00" width="2.03" height="1.03" fill="#fff"/>
<rect x="347.00" y="291.00" width="1.03" height="1.03" fill="#7a7a7a"/>
<rect x="353.00" y="291.00" width="11.03" height="1.03" fill="#fff"/>
<rect x="364.00" y="291.00" width="1.03" height="1.03" fill="#3c3c3c"/>
<rect x="365.00" y="291.00" width="2.03" height="1.03" fill="#fff"/>
<rect x="368.00" y="291.00" width="1.03" height="1.03" fill="#3c3c3c"/>
<rect x="369.00" y="291.00" width="7.03" height="1.03" fill="#fff"/>
<rect x="376.00" y="291.00" width="1.03" height="1.03" fill="#3c3c3c"/>
<rect x="377.00" y="291.00" width="2.03" height="1.03" fill="#fff"/>
<rect x="379.00" y="291.00" width="1.03" height="1.03" fill="#c4c4c4"/>
<rect x="380.00" y="291.00" width="3.03" height="1.03" fill="#fff"/>
<rect x="383.00" y="291.00" width="1.03" height="1.03" fill="#7a7a7a"/>
<rect x="339.00" y="292.00" width="2.03" height="1.03" fill="#fff"/>
<rect x="341.00" y="292.00" width="1.03" height="1.03" fill="#7a7a7a"/>
<rect x="342.00" y="292.00" width="4.03" height="1.03" fill="#3c3c3c"/>
<rect x="346.00" y="292.00" width="1.03" height="1.03" fill="#7a7a7a"/>
<rect x="352.00" y="292.00" width="1.03" height="1.03" fill="#fff"/>
<rect x="353.00" y="292.00" width="1.03" height="1.03" fill="#3c3c3c"/>
<rect x="354.00" y="292.00" width="14.03" height="1.03" fill="#fff"/>
<rect x="369.00" y="292.00" width="1.03" height="1.03" fill="#3c3c3c"/>
<rect x="370.00" y="292.00" width="1.03" height="1.03" fill="#c4c4c4"/>
<rect x="371.00" y="292.00" width="1.03" height="1.03" fill="#fff"/>
<rect x="373.00" y="292.00" width="1.03" height="1.03" fill="#3c3c3c"/>
<rect x="374.00" y="292.00" width="4.03" height="1.03" fill="#fff"/>
<rect x="378.00" y="292.00" width="1.03" height="1.03" fill="#c4c4c4"/>
<rect x="379.00" y="292.00" width="4.03" height="1.03" fill="#fff"/>
<rect x="383.00" y="292.00" width="5.03" height="1.03" fill="#7a7a7a"/>
<rect x="339.00" y="293.00" width="1.03" height="1.03" fill="#fff"/>
<rect x="340.00" y="293.00" width="1.03" height="1.03" fill="#7a7a7a"/>
<rect x="341.00" y="293.00" width="5.03" height="1.03" fill="#3c3c3c"/>
<rect x="352.00" y="293.00" width="1.03" height="1.03" fill="#fff"/>
<rect x="353.00" y="293.00" width="1.03" height="1.03" fill="#3c3c3c"/>
<rect x="354.00" y="293.00" width="16.03" height="1.03" fill="#fff"/>
<rect x="370.00" y="293.00" width="2.03" height="1.03" fill="#c4c4c4"/>
<rect x="372.00" y="293.00" width="1.03" height="1.03" fill="#3c3c3c"/>
<rect x="373.00" y="293.00" width="1.03" height="1.03" fill="#c4c4c4"/>
<rect x="374.00" y="293.00" width="9.03" height="1.03" fill="#fff"/>
<rect x="383.00" y="293.00" width="4.03" height="1.03" fill="#7a7a7a"/>
<rect x="340.00" y="294.00" width="4.03" height="1.03" fill="#3c3c3c"/>
<rect x="350.00" y="294.00" width="1.03" height="1.03" fill="#c4c4c4"/>
<rect x="351.00" y="294.00" width="19.03" height="1.03" fill="#fff"/>
<rect x="370.00" y="294.00" width="1.03" height="1.03" fill="#c4c4c4"/>
<rect x="371.00" y="294.00" width="8.03" height="1.03" fill="#fff"/>
<rect x="379.00" y="294.00" width="1.03" height="1.03" fill="#c4c4c4"/>
<rect x="380.00" y="294.00" width="2.03" height="1.03" fill="#fff"/>
<rect x="384.00" y="294.00" width="1.03" height="1.03" fill="#c4c4c4"/>
<rect x="350.00" y="295.00" width="1.03" height="1.03" fill="#c4c4c4"/>
<rect x="351.00" y="295.00" width="1.03" height="1.03" fill="#fff"/>
<rect x="352.00" y="295.00" width="1.03" height="1.03" fill="#3c3c3c"/>
<rect x="353.00" y="295.00" width="26.03" height="1.03" fill="#fff"/>
<rect x="379.00" y="295.00" width="1.03" height="1.03" fill="#3c3c3c"/>
<rect x="380.00" y="295.00" width="1.03" height="1.03" fill="#c4c4c4"/>
<rect x="381.00" y="295.00" width="1.03" height="1.03" fill="#fff"/>
<rect x="382.00" y="295.00" width="1.03" height="1.03" fill="#c4c4c4"/>
<rect x="350.00" y="296.00" width="30.03" height="1.03" fill="#fff"/>
<rect x="381.00" y="296.00" width="2.03" height="1.03" fill="#c4c4c4"/>
<rect x="349.00" y="297.00" width="31.03" height="1.03" fill="#fff"/>
<rect x="380.00" y="297.00" width="1.03" height="1.03" fill="#3c3c3c"/>
<rect x="381.00" y="297.00" width="1.03" height="1.03" fill="#c4c4c4"/>
<rect x="349.00" y="298.00" width="1.03" height="1.03" fill="#fff"/>
<rect x="350.00" y="298.00" width="1.03" height="1.03" fill="#3c3c3c"/>
<rect x="351.00" y="298.00" width="29.03" height="1.03" fill="#fff"/>
<rect x="380.00" y="298.00" width="1.03" height="1.03" fill="#c4c4c4"/>
<rect x="346.00" y="299.00" width="1.03" height="1.03" fill="#c4c4c4"/>
<rect x="348.00" y="299.00" width="26.03" height="1.03" fill="#fff"/>
<rect x="374.00" y="299.00" width="3.03" height="1.03" fill="#c4c4c4"/>
<rect x="377.00" y="299.00" width="2.03" height="1.03" fill="#fff"/>
<rect x="379.00" y="299.00" width="1.03" height="1.03" fill="#c4c4c4"/>
<rect x="380.00" y="299.00" width="1.03" height="1.03" fill="#fff"/>
<rect x="344.00" y="300.00" width="1.03" height="1.03" fill="#c4c4c4"/>
<rect x="347.00" y="300.00" width="3.03" height="1.03" fill="#3c3c3c"/>
<rect x="350.00" y="300.00" width="22.03" height="1.03" fill="#fff"/>
<rect x="373.00" y="300.00" width="1.03" height="1.03" fill="#3c3c3c"/>
<rect x="374.00" y="300.00" width="1.03" height="1.03" fill="#c4c4c4"/>
<rect x="375.00" y="300.00" width="2.03" height="1.03" fill="#fff"/>
<rect x="377.00" y="300.00" width="1.03" height="1.03" fill="#c4c4c4"/>
<rect x="378.00" y="300.00" width="3.03" height="1.03" fill="#fff"/>
<rect x="382.00" y="300.00" width="1.03" height="1.03" fill="#7a7a7a"/>
<rect x="337.00" y="301.00" width="2.03" height="1.03" fill="#7a7a7a"/>
<rect x="346.00" y="301.00" width="26.03" height="1.03" fill="#fff"/>
<rect x="373.00" y="301.00" width="1.03" height="1.03" fill="#c4c4c4"/>
<rect x="374.00" y="301.00" width="6.03" height="1.03" fill="#fff"/>
<rect x="380.00" y="301.00" width="1.03" height="1.03" fill="#7a7a7a"/>
<rect x="382.00" y="301.00" width="1.03" height="1.03" fill="#7a7a7a"/>
<rect x="346.00" y="302.00" width="26.03" height="1.03" fill="#fff"/>
<rect x="373.00" y="302.00" width="1.03" height="1.03" fill="#3c3c3c"/>
<rect x="374.00" y="302.00" width="4.03" height="1.03" fill="#fff"/>
<rect x="378.00" y="302.00" width="1.03" height="1.03" fill="#3c3c3c"/>
<rect x="383.00" y="302.00" width="2.03" height="1.03" fill="#7a7a7a"/>
<rect x="342.00" y="303.00" width="2.03" height="1.03" fill="#c4c4c4"/>
<rect x="345.00" y="303.00" width="35.03" height="1.03" fill="#fff"/>
<rect x="381.00" y="303.00" width="1.03" height="1.03" fill="#c4c4c4"/>
<rect x="382.00" y="303.00" width="1.03" height="1.03" fill="#7a7a7a"/>
<rect x="338.00" y="304.00" width="1.03" height="1.03" fill="#7a7a7a"/>
<rect x="344.00" y="304.00" width="1.03" height="1.03" fill="#3c3c3c"/>
<rect x="345.00" y="304.00" width="26.03" height="1.03" fill="#fff"/>
<rect x="371.00" y="304.00" width="1.03" height="1.03" fill="#3c3c3c"/>
<rect x="372.00" y="304.00" width="1.03" height="1.03" fill="#c4c4c4"/>
<rect x="373.00" y="304.00" width="5.03" height="1.03" fill="#fff"/>
<rect x="378.00" y="304.00" width="1.03" height="1.03" fill="#c4c4c4"/>
<rect x="379.00" y="304.00" width="1.03" height="1.03" fill="#fff"/>
<rect x="380.00" y="304.00" width="1.03" height="1.03" fill="#c4c4c4"/>
<rect x="344.00" y="305.00" width="1.03" height="1.03" fill="#3c3c3c"/>
<rect x="345.00" y="305.00" width="26.03" height="1.03" fill="#fff"/>
<rect x="371.00" y="305.00" width="1.03" height="1.03" fill="#3c3c3c"/>
<rect x="372.00" y="305.00" width="1.03" height="1.03" fill="#c4c4c4"/>
<rect x="373.00" y="305.00" width="2.03" height="1.03" fill="#fff"/>
<rect x="375.00" y="305.00" width="1.03" height="1.03" fill="#c4c4c4"/>
<rect x="376.00" y="305.00" width="3.03" height="1.03" fill="#fff"/>
<rect x="382.00" y="305.00" width="1.03" height="1.03" fill="#7a7a7a"/>
<rect x="336.00" y="306.00" width="1.03" height="1.03" fill="#7a7a7a"/>
<rect x="343.00" y="306.00" width="2.03" height="1.03" fill="#3c3c3c"/>
<rect x="345.00" y="306.00" width="26.03" height="1.03" fill="#fff"/>
<rect x="371.00" y="306.00" width="1.03" height="1.03" fill="#c4c4c4"/>
<rect x="372.00" y="306.00" width="2.03" height="1.03" fill="#fff"/>
<rect x="374.00" y="306.00" width="2.03" height="1.03" fill="#c4c4c4"/>
<rect x="376.00" y="306.00" width="3.03" height="1.03" fill="#fff"/>
<rect x="379.00" y="306.00" width="1.03" height="1.03" fill="#7a7a7a"/>
<rect x="382.00" y="306.00" width="1.03" height="1.03" fill="#7a7a7a"/>
<rect x="336.00" y="307.00" width="2.03" height="1.03" fill="#7a7a7a"/>
<rect x="341.00" y="307.00" width="1.03" height="1.03" fill="#c4c4c4"/>
<rect x="342.00" y="307.00" width="2.03" height="1.03" fill="#3c3c3c"/>
<rect x="344.00" y="307.00" width="26.03" height="1.03" fill="#fff"/>
<rect x="370.00" y="307.00" width="2.03" height="1.03" fill="#c4c4c4"/>
<rect x="372.00" y="307.00" width="2.03" height="1.03" fill="#fff"/>
<rect x="374.00" y="307.00" width="1.03" height="1.03" fill="#3c3c3c"/>
<rect x="375.00" y="307.00" width="2.03" height="1.03" fill="#c4c4c4"/>
<rect x="377.00" y="307.00" width="2.03" height="1.03" fill="#fff"/>
<rect x="379.00" y="307.00" width="1.03" height="1.03" fill="#7a7a7a"/>
<rect x="382.00" y="307.00" width="1.03" height="1.03" fill="#7a7a7a"/>
<rect x="337.00" y="308.00" width="1.03" height="1.03" fill="#c4c4c4"/>
<rect x="341.00" y="308.00" width="2.03" height="1.03" fill="#3c3c3c"/>
<rect x="343.00" y="308.00" width="28.03" height="1.03" fill="#fff"/>
<rect x="371.00" y="308.00" width="1.03" height="1.03" fill="#c4c4c4"/>
<rect x="372.00" y="308.00" width="1.03" height="1.03" fill="#fff"/>
<rect x="373.00" y="308.00" width="1.03" height="1.03" fill="#c4c4c4"/>
<rect x="374.00" y="308.00" width="4.03" height="1.03" fill="#fff"/>
<rect x="382.00" y="308.00" width="2.03" height="1.03" fill="#7a7a7a"/>
<rect x="339.00" y="309.00" width="1.03" height="1.03" fill="#fff"/>
<rect x="340.00" y="309.00" width="2.03" height="1.03" fill="#3c3c3c"/>
<rect x="342.00" y="309.00" width="30.03" height="1.03" fill="#fff"/>
<rect x="372.00" y="309.00" width="2.03" height="1.03" fill="#c4c4c4"/>
<rect x="374.00" y="309.00" width="4.03" height="1.03" fill="#fff"/>
<rect x="378.00" y="309.00" width="1.03" height="1.03" fill="#7a7a7a"/>
<rect x="381.00" y="309.00" width="2.03" height="1.03" fill="#7a7a7a"/>
<rect x="338.00" y="310.00" width="2.03" height="1.03" fill="#fff"/>
<rect x="340.00" y="310.00" width="1.03" height="1.03" fill="#3c3c3c"/>
<rect x="341.00" y="310.00" width="31.03" height="1.03" fill="#fff"/>
<rect x="372.00" y="310.00" width="1.03" height="1.03" fill="#3c3c3c"/>
<rect x="373.00" y="310.00" width="1.03" height="1.03" fill="#c4c4c4"/>
<rect x="374.00" y="310.00" width="4.03" height="1.03" fill="#fff"/>
<rect x="378.00" y="310.00" width="1.03" height="1.03" fill="#7a7a7a"/>
<rect x="380.00" y="310.00" width="3.03" height="1.03" fill="#7a7a7a"/>
<rect x="337.00" y="311.00" width="36.03" height="1.03" fill="#fff"/>
<rect x="373.00" y="311.00" width="2.03" height="1.03" fill="#c4c4c4"/>
<rect x="375.00" y="311.00" width="2.03" height="1.03" fill="#3c3c3c"/>
<rect x="377.00" y="311.00" width="1.03" height="1.03" fill="#fff"/>
<rect x="381.00" y="311.00" width="2.03" height="1.03" fill="#7a7a7a"/>
<rect x="336.00" y="312.00" width="38.03" height="1.03" fill="#fff"/>
<rect x="374.00" y="312.00" width="2.03" height="1.03" fill="#c4c4c4"/>
<rect x="376.00" y="312.00" width="1.03" height="1.03" fill="#3c3c3c"/>
<rect x="378.00" y="312.00" width="1.03" height="1.03" fill="#7a7a7a"/>
<rect x="336.00" y="313.00" width="2.03" height="1.03" fill="#3c3c3c"/>
<rect x="338.00" y="313.00" width="32.03" height="1.03" fill="#fff"/>
<rect x="370.00" y="313.00" width="1.03" height="1.03" fill="#c4c4c4"/>
<rect x="371.00" y="313.00" width="5.03" height="1.03" fill="#fff"/>
<rect x="376.00" y="313.00" width="1.03" height="1.03" fill="#c4c4c4"/>
<rect x="377.00" y="313.00" width="2.03" height="1.03" fill="#7a7a7a"/>
<rect x="336.00" y="314.00" width="33.03" height="1.03" fill="#fff"/>
<rect x="369.00" y="314.00" width="1.03" height="1.03" fill="#c4c4c4"/>
<rect x="370.00" y="314.00" width="1.03" height="1.03" fill="#3c3c3c"/>
<rect x="371.00" y="314.00" width="6.03" height="1.03" fill="#fff"/>
<rect x="378.00" y="314.00" width="2.03" height="1.03" fill="#7a7a7a"/>
<rect x="336.00" y="315.00" width="33.03" height="1.03" fill="#fff"/>
<rect x="369.00" y="315.00" width="2.03" height="1.03" fill="#c4c4c4"/>
<rect x="371.00" y="315.00" width="1.03" height="1.03" fill="#fff"/>
<rect x="372.00" y="315.00" width="1.03" height="1.03" fill="#c4c4c4"/>
<rect x="373.00" y="315.00" width="2.03" height="1.03" fill="#3c3c3c"/>
<rect x="375.00" y="315.00" width="2.03" height="1.03" fill="#c4c4c4"/>
<rect x="378.00" y="315.00" width="2.03" height="1.03" fill="#7a7a7a"/>
<rect x="336.00" y="316.00" width="33.03" height="1.03" fill="#fff"/>
<rect x="369.00" y="316.00" width="1.03" height="1.03" fill="#c4c4c4"/>
<rect x="370.00" y="316.00" width="2.03" height="1.03" fill="#fff"/>
<rect x="373.00" y="316.00" width="3.03" height="1.03" fill="#fff"/>
<rect x="379.00" y="316.00" width="1.03" height="1.03" fill="#7a7a7a"/>
<rect x="336.00" y="317.00" width="40.03" height="1.03" fill="#fff"/>
<rect x="377.00" y="317.00" width="3.03" height="1.03" fill="#7a7a7a"/>
<rect x="336.00" y="318.00" width="40.03" height="1.03" fill="#fff"/>
<rect x="377.00" y="318.00" width="1.03" height="1.03" fill="#7a7a7a"/>
<rect x="379.00" y="318.00" width="1.03" height="1.03" fill="#7a7a7a"/>
<rect x="336.00" y="319.00" width="32.03" height="1.03" fill="#fff"/>
<rect x="368.00" y="319.00" width="2.03" height="1.03" fill="#3c3c3c"/>
<rect x="371.00" y="319.00" width="1.03" height="1.03" fill="#3c3c3c"/>
<rect x="372.00" y="319.00" width="4.03" height="1.03" fill="#fff"/>
<rect x="377.00" y="319.00" width="1.03" height="1.03" fill="#7a7a7a"/>
<rect x="336.00" y="320.00" width="31.03" height="1.03" fill="#fff"/>
<rect x="367.00" y="320.00" width="1.03" height="1.03" fill="#3c3c3c"/>
<rect x="369.00" y="320.00" width="1.03" height="1.03" fill="#c4c4c4"/>
<rect x="371.00" y="320.00" width="1.03" height="1.03" fill="#c4c4c4"/>
<rect x="372.00" y="320.00" width="3.03" height="1.03" fill="#fff"/>
<rect x="377.00" y="320.00" width="1.03" height="1.03" fill="#7a7a7a"/>
<rect x="380.00" y="320.00" width="1.03" height="1.03" fill="#7a7a7a"/>
<rect x="336.00" y="321.00" width="31.03" height="1.03" fill="#fff"/>
<rect x="367.00" y="321.00" width="1.03" height="1.03" fill="#3c3c3c"/>
<rect x="368.00" y="321.00" width="1.03" height="1.03" fill="#c4c4c4"/>
<rect x="369.00" y="321.00" width="3.03" height="1.03" fill="#fff"/>
<rect x="372.00" y="321.00" width="3.03" height="1.03" fill="#3c3c3c"/>
<rect x="336.00" y="322.00" width="31.03" height="1.03" fill="#fff"/>
<rect x="367.00" y="322.00" width="2.03" height="1.03" fill="#c4c4c4"/>
<rect x="369.00" y="322.00" width="3.03" height="1.03" fill="#fff"/>
<rect x="372.00" y="322.00" width="1.03" height="1.03" fill="#c4c4c4"/>
<rect x="373.00" y="322.00" width="1.03" height="1.03" fill="#3c3c3c"/>
<rect x="374.00" y="322.00" width="2.03" height="1.03" fill="#c4c4c4"/>
<rect x="336.00" y="323.00" width="31.03" height="1.03" fill="#fff"/>
<rect x="367.00" y="323.00" width="1.03" height="1.03" fill="#c4c4c4"/>
<rect x="368.00" y="323.00" width="7.03" height="1.03" fill="#fff"/>
<rect x="379.00" y="323.00" width="1.03" height="1.03" fill="#7a7a7a"/>
<text x="0" y="0" font-size="6.0" font-family="'Liberation Serif', 'DejaVu Serif', serif" text-anchor="middle" fill="#ee3030" stroke="#ee3030" stroke-width="0.1" transform="translate(334.4 295) rotate(-90)">(SOM1 output)</text>
<text x="452.5" y="111.8" font-size="7" font-family="'Liberation Serif', 'DejaVu Serif', serif" text-anchor="middle" fill="#111" stroke="#111" stroke-width="0.09" >conversion</text>
<text x="453" y="119.8" font-size="7" font-family="'Liberation Serif', 'DejaVu Serif', serif" text-anchor="middle" fill="#111" stroke="#111" stroke-width="0.09" >to 2 classes</text>
<path d="M435.3 112.8H428.5V123.5" stroke="#333" stroke-width="0.6" fill="none"/>
<path d="M426.9 122.6L428.5 125.8L430.1 122.6Z" fill="#222"/>
<circle cx="420.9" cy="120.3" r="3.9" fill="#8b1a8f"/>
<text x="420.9" y="122.2" font-size="5.4" font-family="'Liberation Sans', sans-serif" text-anchor="middle" fill="#fff" font-weight="bold">4</text>
<text x="511.2" y="112.4" font-size="7" font-family="'Liberation Serif', 'DejaVu Serif', serif" text-anchor="middle" fill="#111" stroke="#111" stroke-width="0.09" >majority voting output</text>
<path d="M473 112.6H479V126" stroke="#333" stroke-width="0.6" fill="none"/>
<path d="M518.5 66.5H521.4V104.5M521.4 115.8V123.4" stroke="#333" stroke-width="0.6" fill="none"/>
<path d="M520 123L521.4 126.2L522.8 123Z" fill="#222"/>
<circle cx="530.3" cy="119.9" r="3.9" fill="#8b1a8f"/>
<text x="530.3" y="121.8" font-size="5.4" font-family="'Liberation Sans', sans-serif" text-anchor="middle" fill="#fff" font-weight="bold">3</text>
<text x="7.9" y="267.4" font-size="6.0" font-family="'Liberation Serif', 'DejaVu Serif', serif" text-anchor="start" fill="#111" stroke="#111" stroke-width="0.09" >(a1)-(a6) : hit rate maps</text>
<rect x="8.2" y="271.6" width="4.2" height="4.2" fill="#fff" stroke="#111" stroke-width="0.5"/>
<text x="15" y="275.6" font-size="5.9" font-family="'Liberation Serif', 'DejaVu Serif', serif" text-anchor="start" fill="#111" stroke="#111" stroke-width="0.09" >cloud</text>
<rect x="8" y="278.7" width="4.6" height="4.2" fill="#000"/>
<text x="15" y="283" font-size="5.9" font-family="'Liberation Serif', 'DejaVu Serif', serif" text-anchor="start" fill="#111" stroke="#111" stroke-width="0.09" >clear</text>
<circle cx="10" cy="289.3" r="2.6" fill="#8b1a8f"/>
<text x="10" y="291.2" font-size="5.4" font-family="'Liberation Sans', sans-serif" text-anchor="middle" fill="#fff" font-weight="bold">1</text>
<path d="M12.6 289.3H15.8" stroke="#8b1a8f" stroke-width="0.8"/>
<circle cx="18.4" cy="289.3" r="2.6" fill="#8b1a8f"/>
<text x="18.4" y="291.2" font-size="5.4" font-family="'Liberation Sans', sans-serif" text-anchor="middle" fill="#fff" font-weight="bold">5</text>
<text x="22.6" y="291.6" font-size="6.15" font-family="'Liberation Serif', 'DejaVu Serif', serif" text-anchor="start" fill="#111" stroke="#111" stroke-width="0.09" >: sub-stages of methodology</text>
<rect x="7.6" y="294.0" width="18.95" height="3.2" fill="#0b6a66"/>
<rect x="26.5" y="294.0" width="18.55" height="3.2" fill="#17a098"/>
<rect x="45" y="294.0" width="19.85" height="3.2" fill="#1763cf"/>
<rect x="64.8" y="294.0" width="18.55" height="3.2" fill="#2d4f9e"/>
<rect x="83.3" y="294.0" width="19.25" height="3.2" fill="#7faae3"/>
<rect x="102.5" y="294.0" width="18.55" height="3.2" fill="#aac9f0"/>
<text x="17.05" y="302.4" font-size="6.0" font-family="'Liberation Serif', 'DejaVu Serif', serif" text-anchor="middle" fill="#222" stroke="#222" stroke-width="0.09" >opaque</text>
<text x="35.75" y="302.4" font-size="6.0" font-family="'Liberation Serif', 'DejaVu Serif', serif" text-anchor="middle" fill="#222" stroke="#222" stroke-width="0.09" >cirrus</text>
<text x="54.9" y="302.4" font-size="6.0" font-family="'Liberation Serif', 'DejaVu Serif', serif" text-anchor="middle" fill="#222" stroke="#222" stroke-width="0.09" >land</text>
<text x="74.05" y="302.4" font-size="6.0" font-family="'Liberation Serif', 'DejaVu Serif', serif" text-anchor="middle" fill="#222" stroke="#222" stroke-width="0.09" >water</text>
<text x="92.9" y="302.4" font-size="6.0" font-family="'Liberation Serif', 'DejaVu Serif', serif" text-anchor="middle" fill="#222" stroke="#222" stroke-width="0.09" >shadow</text>
<text x="111.75" y="302.4" font-size="6.0" font-family="'Liberation Serif', 'DejaVu Serif', serif" text-anchor="middle" fill="#222" stroke="#222" stroke-width="0.09" >snow</text>
<text x="17.05" y="307.6" font-size="6.0" font-family="'Liberation Serif', 'DejaVu Serif', serif" text-anchor="middle" fill="#222" stroke="#222" stroke-width="0.09" >cloud</text>
<rect x="7.6" y="311.6" width="14.3" height="3" fill="none" stroke="#7fe8c4" stroke-width="0.7"/>
<text x="14.75" y="320.8" font-size="6.0" font-family="'Liberation Serif', 'DejaVu Serif', serif" text-anchor="middle" fill="#222" stroke="#222" stroke-width="0.09" >cloud</text>
<rect x="28.1" y="311.6" width="14.8" height="3" fill="none" stroke="#9cc4f4" stroke-width="0.7"/>
<text x="35.5" y="320.8" font-size="6.0" font-family="'Liberation Serif', 'DejaVu Serif', serif" text-anchor="middle" fill="#222" stroke="#222" stroke-width="0.09" >water</text>
<rect x="49.2" y="311.6" width="14.7" height="3" fill="none" stroke="#f2f07a" stroke-width="0.7"/>
<text x="56.55" y="320.8" font-size="6.0" font-family="'Liberation Serif', 'DejaVu Serif', serif" text-anchor="middle" fill="#222" stroke="#222" stroke-width="0.09" >shadow</text>
<rect x="68.9" y="311.6" width="14.7" height="3" fill="none" stroke="#f4a0e8" stroke-width="0.7"/>
<text x="76.25" y="320.8" font-size="6.0" font-family="'Liberation Serif', 'DejaVu Serif', serif" text-anchor="middle" fill="#222" stroke="#222" stroke-width="0.09" >snow</text>
</svg></body></html>
